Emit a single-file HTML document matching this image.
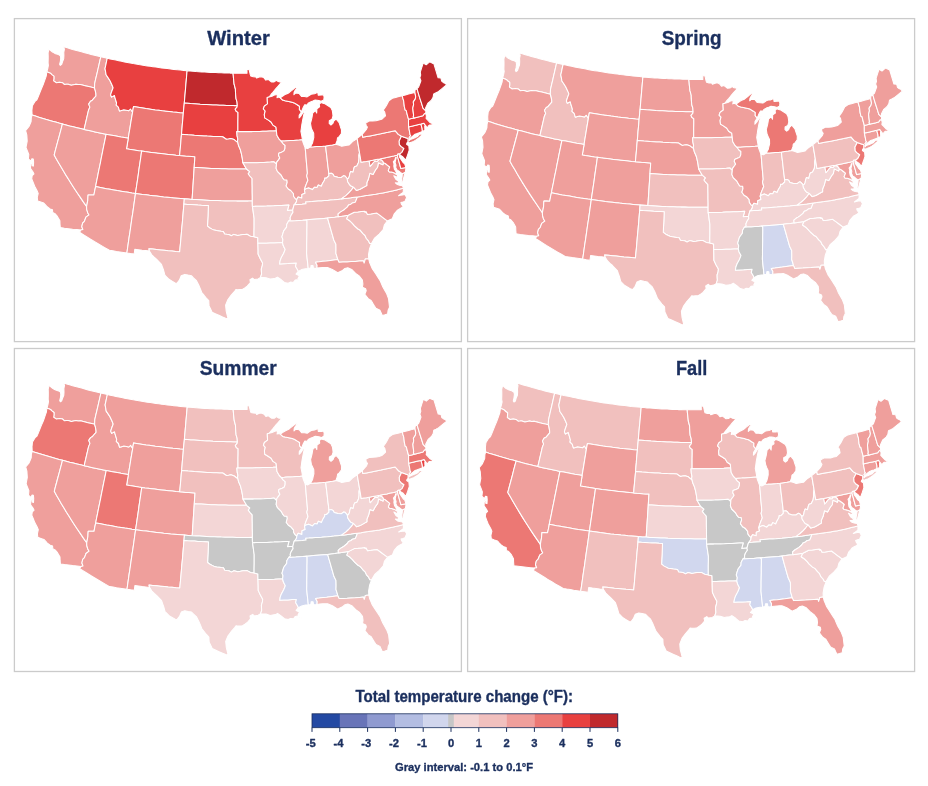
<!DOCTYPE html>
<html lang="en"><head><meta charset="utf-8"><title>Seasonal temperature change</title>
<style>
html,body{margin:0;padding:0;background:#fff}
body{width:928px;height:786px;overflow:hidden;font-family:"Liberation Sans",sans-serif}
svg{display:block}
.st path{stroke:#fff;stroke-width:1.05;stroke-linejoin:round}
.t{font-family:"Liberation Sans",sans-serif;font-weight:bold;fill:#1b2f5e;stroke:#1b2f5e;stroke-width:0.35;stroke-linejoin:round}
</style></head><body>
<svg width="928" height="786" viewBox="0 0 928 786">
<rect width="928" height="786" fill="#fff"/>

<rect x="14.4" y="18.6" width="447" height="323" fill="#fff" stroke="#cbcbcb" stroke-width="1.3"/>
<g class="st">
<path d="M63.6,46.7L66.6,47.6L69.5,48.5L72.5,49.4L75.5,50.2L78.5,51.0L81.5,51.8L84.7,52.7L87.9,53.6L91.1,54.4L94.4,55.2L97.6,56.0L100.8,56.8L99.8,61.2L98.8,65.6L97.8,70.0L96.8,74.4L95.7,78.9L94.7,83.3L94.5,88.0L91.7,87.3L88.8,86.6L86.0,85.9L83.2,85.2L80.3,84.5L78.0,84.6L75.9,84.2L73.6,84.7L71.2,85.2L68.2,84.2L66.3,84.3L64.4,84.5L62.4,82.7L59.5,82.3L56.4,82.8L53.6,80.9L53.9,78.7L53.9,76.2L52.1,74.8L50.4,73.2L48.6,72.5L46.8,71.8L47.8,68.5L48.4,65.3L48.1,63.0L48.2,58.5L48.2,55.7L48.1,52.9L49.0,49.0L50.7,50.6L52.5,52.1L54.0,52.9L55.6,53.7L58.5,54.6L60.3,55.7L60.7,58.0L60.4,61.2L59.6,64.3L60.3,65.4L61.7,64.4L62.5,61.9L63.7,58.9L63.9,55.6L63.8,52.3L64.4,49.2Z" fill="#ef9f9c"/>
<path d="M46.8,71.8L48.6,72.5L50.4,73.2L52.1,74.8L53.9,76.2L53.9,78.7L53.6,80.9L56.4,82.8L59.5,82.3L62.4,82.7L64.4,84.5L66.3,84.3L68.2,84.2L71.2,85.2L73.6,84.7L75.9,84.2L78.0,84.6L80.3,84.5L83.2,85.2L86.0,85.9L88.8,86.6L91.7,87.3L94.5,88.0L95.2,90.3L95.9,93.7L96.0,96.0L93.6,98.7L92.1,100.5L90.5,101.3L88.7,104.1L89.4,105.9L89.9,107.1L88.5,110.3L87.4,115.1L86.3,119.9L85.2,124.6L84.1,129.4L80.5,128.5L76.9,127.7L73.2,126.8L69.6,125.9L66.0,124.9L62.4,124.0L59.0,123.1L55.6,122.1L52.3,121.2L48.9,120.2L45.5,119.2L42.1,118.2L38.8,117.2L35.4,116.1L32.1,115.1L31.9,110.5L32.4,105.7L35.0,101.4L36.9,99.8L38.0,97.3L39.0,94.8L40.2,91.8L41.4,88.8L43.1,84.9L44.0,82.4L44.9,79.8L46.3,75.8Z" fill="#ec7874"/>
<path d="M32.1,115.1L35.4,116.1L38.8,117.2L42.1,118.2L45.5,119.2L48.9,120.2L52.3,121.2L55.6,122.1L59.0,123.1L62.4,124.0L61.3,128.4L60.1,132.8L58.9,137.3L57.7,141.7L56.5,146.2L55.3,150.6L54.2,155.0L56.5,159.2L59.0,163.4L61.4,167.6L63.9,171.7L66.4,175.9L69.0,180.0L71.6,184.2L74.5,188.7L77.5,193.2L80.5,197.6L83.5,202.1L86.6,206.5L86.7,209.3L87.7,212.7L89.0,214.9L85.9,217.2L84.4,221.3L82.6,223.1L81.8,226.7L82.9,229.6L80.9,230.1L76.8,229.6L72.6,229.2L68.5,228.7L64.4,228.2L60.3,227.6L60.0,224.1L59.9,220.8L57.4,216.4L55.0,213.6L52.7,212.5L52.5,209.7L50.1,208.9L47.2,206.8L45.5,204.9L43.8,203.1L40.8,202.1L37.7,201.0L37.3,197.5L38.2,193.4L37.1,190.7L34.7,186.3L33.2,182.5L31.7,178.8L32.2,175.6L34.0,173.9L32.9,171.8L30.5,168.4L30.7,165.1L31.4,162.2L32.2,162.8L32.1,165.8L33.4,166.1L33.6,162.1L33.3,159.0L31.9,158.8L30.8,161.2L28.4,158.8L28.8,154.5L27.4,151.0L26.0,147.5L26.6,144.3L27.2,141.1L27.0,137.9L26.8,134.8L25.6,130.6L29.0,126.5L30.1,124.0L31.1,121.5L31.3,117.7Z" fill="#ef9f9c"/>
<path d="M62.4,124.0L66.0,124.9L69.6,125.9L73.2,126.8L76.9,127.7L80.5,128.5L84.1,129.4L87.8,130.3L91.4,131.1L95.1,131.9L98.8,132.7L102.4,133.4L106.1,134.2L105.2,138.9L104.2,143.7L103.2,148.5L102.3,153.2L101.3,158.0L100.4,162.8L99.4,167.5L98.4,172.3L97.5,177.1L96.5,181.8L95.6,186.6L94.7,190.8L93.9,195.0L91.0,194.9L88.1,194.9L87.9,197.6L87.8,200.2L87.2,203.4L86.6,206.5L83.5,202.1L80.5,197.6L77.5,193.2L74.5,188.7L71.6,184.2L69.0,180.0L66.4,175.9L63.9,171.7L61.4,167.6L59.0,163.4L56.5,159.2L54.2,155.0L55.3,150.6L56.5,146.2L57.7,141.7L58.9,137.3L60.1,132.8L61.3,128.4Z" fill="#ef9f9c"/>
<path d="M100.8,56.8L104.1,57.5L107.3,58.2L106.5,61.7L105.8,65.1L105.0,68.6L105.6,71.7L106.1,74.8L108.0,77.6L109.9,80.5L111.9,84.7L113.1,87.7L111.6,91.7L110.6,94.8L111.5,97.1L114.4,95.5L115.0,97.8L116.6,103.0L116.2,105.1L118.4,107.2L119.5,111.0L121.6,110.4L123.8,109.8L126.3,110.2L128.8,110.7L130.5,109.0L132.6,112.2L131.7,117.4L130.8,122.6L130.0,127.8L129.1,133.0L128.3,138.2L124.6,137.6L120.9,137.0L117.2,136.3L113.5,135.6L109.8,134.9L106.1,134.2L102.4,133.4L98.8,132.7L95.1,131.9L91.4,131.1L87.8,130.3L84.1,129.4L85.2,124.6L86.3,119.9L87.4,115.1L88.5,110.3L89.9,107.1L89.4,105.9L88.7,104.1L90.5,101.3L92.1,100.5L93.6,98.7L96.0,96.0L95.9,93.7L95.2,90.3L94.5,88.0L94.7,83.3L95.7,78.9L96.8,74.4L97.8,70.0L98.8,65.6L99.8,61.2Z" fill="#ef9f9c"/>
<path d="M107.3,58.2L110.1,58.9L113.0,59.5L115.9,60.1L118.8,60.7L121.6,61.3L124.5,61.9L127.4,62.4L130.2,62.9L133.1,63.5L135.9,64.0L138.8,64.5L141.6,64.9L144.5,65.4L147.3,65.9L150.2,66.3L153.0,66.7L155.9,67.1L158.8,67.5L161.6,67.9L164.5,68.3L167.3,68.6L170.6,69.0L173.9,69.4L177.2,69.8L180.5,70.1L183.8,70.4L187.1,70.7L186.7,75.3L186.3,79.9L185.9,84.5L185.5,89.2L185.1,93.8L184.7,98.4L184.3,103.0L183.8,108.0L183.3,113.0L179.8,112.7L176.3,112.3L172.8,112.0L169.2,111.6L165.7,111.2L162.2,110.8L158.7,110.3L155.2,109.9L152.1,109.4L149.0,109.0L145.9,108.6L142.8,108.1L139.7,107.6L136.6,107.1L133.5,106.6L133.0,109.4L132.6,112.2L130.5,109.0L128.8,110.7L126.3,110.2L123.8,109.8L121.6,110.4L119.5,111.0L118.4,107.2L116.2,105.1L116.6,103.0L115.0,97.8L114.4,95.5L111.5,97.1L110.6,94.8L111.6,91.7L113.1,87.7L111.9,84.7L109.9,80.5L108.0,77.6L106.1,74.8L105.6,71.7L105.0,68.6L105.8,65.1L106.5,61.7Z" fill="#e84040"/>
<path d="M132.6,112.2L133.0,109.4L133.5,106.6L136.6,107.1L139.7,107.6L142.8,108.1L145.9,108.6L149.0,109.0L152.1,109.4L155.2,109.9L158.7,110.3L162.2,110.8L165.7,111.2L169.2,111.6L172.8,112.0L176.3,112.3L179.8,112.7L183.3,113.0L183.0,117.2L182.6,121.5L182.2,125.7L181.9,130.0L181.5,134.3L181.1,138.5L180.8,142.8L180.4,147.0L180.0,151.3L179.6,155.5L175.9,155.2L172.2,154.8L168.4,154.4L164.7,154.0L161.0,153.6L157.8,153.2L154.5,152.8L151.3,152.4L148.1,152.0L144.9,151.6L141.6,151.1L138.6,150.7L135.6,150.2L132.6,149.7L129.5,149.3L126.5,148.8L127.1,145.3L127.7,141.7L128.3,138.2L129.1,133.0L130.0,127.8L130.8,122.6L131.7,117.4Z" fill="#ec7874"/>
<path d="M106.1,134.2L109.8,134.9L113.5,135.6L117.2,136.3L120.9,137.0L124.6,137.6L128.3,138.2L127.7,141.7L127.1,145.3L126.5,148.8L129.5,149.3L132.6,149.7L135.6,150.2L138.6,150.7L141.6,151.1L141.0,155.8L140.3,160.5L139.6,165.2L138.9,169.9L138.3,174.6L137.6,179.3L136.9,184.0L136.2,188.7L135.5,193.4L131.9,192.9L128.2,192.3L124.6,191.8L121.0,191.2L117.3,190.6L113.7,189.9L110.1,189.3L106.4,188.7L102.8,188.0L99.2,187.3L95.6,186.6L96.5,181.8L97.5,177.1L98.4,172.3L99.4,167.5L100.4,162.8L101.3,158.0L102.3,153.2L103.2,148.5L104.2,143.7L105.2,138.9Z" fill="#ec7874"/>
<path d="M141.6,151.1L144.9,151.6L148.1,152.0L151.3,152.4L154.5,152.8L157.8,153.2L161.0,153.6L164.7,154.0L168.4,154.4L172.2,154.8L175.9,155.2L179.6,155.5L182.7,155.8L185.7,156.1L188.8,156.3L191.8,156.5L194.9,156.7L194.7,160.3L194.4,163.8L194.2,167.4L193.9,172.0L193.6,176.5L193.3,181.1L193.0,185.7L192.7,190.2L192.4,194.8L192.1,199.4L188.2,199.1L184.3,198.8L180.9,198.5L177.4,198.2L173.9,197.9L170.5,197.6L167.0,197.2L163.6,196.9L160.1,196.5L156.6,196.1L153.1,195.7L149.6,195.3L146.1,194.8L142.5,194.4L139.0,193.9L135.5,193.4L136.2,188.7L136.9,184.0L137.6,179.3L138.3,174.6L138.9,169.9L139.6,165.2L140.3,160.5L141.0,155.8Z" fill="#ec7874"/>
<path d="M95.6,186.6L99.2,187.3L102.8,188.0L106.4,188.7L110.1,189.3L113.7,189.9L117.3,190.6L121.0,191.2L124.6,191.8L128.2,192.3L131.9,192.9L135.5,193.4L134.8,198.4L134.1,203.4L133.4,208.4L132.7,213.3L131.9,218.3L131.2,223.3L130.5,228.2L129.8,233.2L129.0,238.1L128.3,243.1L127.6,248.0L126.9,252.9L123.4,252.4L119.9,251.9L116.4,251.4L112.9,250.8L109.4,250.3L105.6,248.1L101.8,245.9L98.1,243.7L94.3,241.4L90.6,239.2L87.0,236.9L83.3,234.6L79.6,232.3L80.9,230.1L82.9,229.6L81.8,226.7L82.6,223.1L84.4,221.3L85.9,217.2L89.0,214.9L87.7,212.7L86.7,209.3L86.6,206.5L87.2,203.4L87.8,200.2L87.9,197.6L88.1,194.9L91.0,194.9L93.9,195.0L94.7,190.8Z" fill="#ef9f9c"/>
<path d="M135.5,193.4L139.0,193.9L142.5,194.4L146.1,194.8L149.6,195.3L153.1,195.7L156.6,196.1L160.1,196.5L163.6,196.9L167.0,197.2L170.5,197.6L173.9,197.9L177.4,198.2L180.9,198.5L184.3,198.8L184.1,201.4L183.9,204.1L183.5,208.9L183.1,213.6L182.7,218.4L182.3,223.2L181.8,227.9L181.4,232.7L181.0,237.4L180.6,242.2L180.1,246.9L179.7,251.7L175.8,251.4L172.0,251.0L168.1,250.7L164.3,250.3L160.4,249.9L156.6,249.5L152.7,249.1L148.9,248.7L149.4,251.1L145.7,250.6L142.1,250.2L138.5,249.7L134.8,249.3L134.2,254.0L130.5,253.5L126.9,252.9L127.6,248.0L128.3,243.1L129.0,238.1L129.8,233.2L130.5,228.2L131.2,223.3L131.9,218.3L132.7,213.3L133.4,208.4L134.1,203.4L134.8,198.4Z" fill="#ef9f9c"/>
<path d="M187.1,70.7L190.0,71.0L193.0,71.2L195.9,71.5L198.8,71.7L201.8,71.9L204.7,72.1L207.6,72.2L210.3,72.4L213.0,72.5L215.7,72.6L218.4,72.7L221.1,72.8L224.1,72.9L227.1,73.0L230.0,73.1L233.0,73.1L233.3,75.8L233.5,78.4L233.8,81.3L234.1,84.2L235.4,89.0L235.5,92.2L235.7,95.4L236.0,98.6L237.0,101.8L237.3,105.6L233.8,105.6L230.3,105.5L226.8,105.4L223.4,105.3L219.9,105.2L216.4,105.1L212.9,105.0L209.7,104.8L206.5,104.6L203.4,104.5L200.2,104.3L197.0,104.0L193.8,103.8L190.6,103.6L187.5,103.3L184.3,103.0L184.7,98.4L185.1,93.8L185.5,89.2L185.9,84.5L186.3,79.9L186.7,75.3Z" fill="#c0292d"/>
<path d="M184.3,103.0L187.5,103.3L190.6,103.6L193.8,103.8L197.0,104.0L200.2,104.3L203.4,104.5L206.5,104.6L209.7,104.8L212.9,105.0L216.4,105.1L219.9,105.2L223.4,105.3L226.8,105.4L230.3,105.5L233.8,105.6L237.3,105.6L237.0,107.1L235.2,109.2L236.2,111.3L238.0,112.4L238.0,117.2L237.9,122.0L237.9,126.8L237.9,131.6L236.8,131.6L237.1,135.9L237.8,139.1L237.4,141.2L237.8,142.4L236.0,141.2L234.1,139.6L230.8,138.5L228.5,138.9L226.3,139.2L224.5,138.0L222.6,136.7L219.5,136.6L216.5,136.5L213.4,136.4L210.3,136.2L207.2,136.1L204.1,135.9L200.9,135.7L197.6,135.5L194.4,135.3L191.2,135.0L188.0,134.8L184.7,134.5L181.5,134.3L181.9,130.0L182.2,125.7L182.6,121.5L183.0,117.2L183.3,113.0L183.8,108.0Z" fill="#e84040"/>
<path d="M181.5,134.3L184.7,134.5L188.0,134.8L191.2,135.0L194.4,135.3L197.6,135.5L200.9,135.7L204.1,135.9L207.2,136.1L210.3,136.2L213.4,136.4L216.5,136.5L219.5,136.6L222.6,136.7L224.5,138.0L226.3,139.2L228.5,138.9L230.8,138.5L234.1,139.6L236.0,141.2L237.8,142.4L238.5,145.5L240.4,149.8L241.1,152.5L241.7,155.1L242.3,158.4L242.7,161.6L242.9,162.8L244.6,165.8L246.5,169.0L243.0,169.0L239.4,169.0L235.9,169.0L232.3,169.0L228.8,168.9L225.3,168.8L221.7,168.7L218.3,168.6L214.8,168.5L211.4,168.4L208.0,168.2L204.5,168.0L201.1,167.8L197.6,167.6L194.2,167.4L194.4,163.8L194.7,160.3L194.9,156.7L191.8,156.5L188.8,156.3L185.7,156.1L182.7,155.8L179.6,155.5L180.0,151.3L180.4,147.0L180.8,142.8L181.1,138.5Z" fill="#ec7874"/>
<path d="M194.2,167.4L197.6,167.6L201.1,167.8L204.5,168.0L208.0,168.2L211.4,168.4L214.8,168.5L218.3,168.6L221.7,168.7L225.3,168.8L228.8,168.9L232.3,169.0L235.9,169.0L239.4,169.0L243.0,169.0L246.5,169.0L249.7,171.7L248.2,173.8L249.8,176.0L252.1,178.5L252.1,183.0L252.2,187.5L252.2,192.0L252.3,196.5L252.3,201.0L248.4,201.1L244.5,201.1L240.6,201.1L236.6,201.1L232.7,201.0L228.8,200.9L224.9,200.9L221.2,200.8L217.6,200.6L214.0,200.5L210.3,200.4L206.7,200.2L203.0,200.0L199.4,199.8L195.8,199.6L192.1,199.4L192.4,194.8L192.7,190.2L193.0,185.7L193.3,181.1L193.6,176.5L193.9,172.0Z" fill="#ef9f9c"/>
<path d="M184.3,198.8L188.2,199.1L192.1,199.4L195.8,199.6L199.4,199.8L203.0,200.0L206.7,200.2L210.3,200.4L214.0,200.5L217.6,200.6L221.2,200.8L224.9,200.9L228.8,200.9L232.7,201.0L236.6,201.1L240.6,201.1L244.5,201.1L248.4,201.1L252.3,201.0L252.3,203.7L252.4,206.4L253.0,210.3L253.5,214.2L254.1,218.2L254.1,222.8L254.1,227.5L254.0,232.1L254.0,236.8L250.4,236.2L247.0,234.3L244.9,234.4L242.8,234.5L240.2,235.0L237.7,235.4L233.9,234.4L231.3,235.8L228.8,234.5L226.7,234.3L224.6,234.0L223.3,231.5L221.2,231.3L219.1,231.0L216.6,230.6L214.1,230.1L212.0,229.1L209.9,228.0L207.5,226.2L207.7,221.1L208.0,215.9L208.2,210.8L208.4,205.6L204.9,205.4L201.4,205.3L197.9,205.1L194.4,204.8L190.9,204.6L187.4,204.4L183.9,204.1L184.1,201.4Z" fill="#f1c0be"/>
<path d="M183.9,204.1L187.4,204.4L190.9,204.6L194.4,204.8L197.9,205.1L201.4,205.3L204.9,205.4L208.4,205.6L208.2,210.8L208.0,215.9L207.7,221.1L207.5,226.2L209.9,228.0L212.0,229.1L214.1,230.1L216.6,230.6L219.1,231.0L221.2,231.3L223.3,231.5L224.6,234.0L226.7,234.3L228.8,234.5L231.3,235.8L233.9,234.4L237.7,235.4L240.2,235.0L242.8,234.5L244.9,234.4L247.0,234.3L250.4,236.2L254.0,236.8L257.8,237.7L257.8,240.5L257.9,243.3L258.0,246.9L258.1,250.5L258.1,254.1L260.3,258.8L262.6,262.9L262.3,265.6L261.3,268.8L261.4,271.4L261.6,274.0L260.5,277.4L258.0,278.9L254.2,279.6L252.6,278.1L249.9,279.7L250.4,282.5L247.2,286.2L244.8,287.9L242.4,289.5L239.9,289.6L237.4,289.7L235.9,289.5L234.8,291.1L231.0,295.4L227.8,299.8L226.7,302.5L225.6,305.1L225.9,308.1L226.2,311.1L227.1,314.9L228.1,318.8L225.6,318.3L222.5,316.9L219.5,315.6L215.8,313.9L212.1,312.2L210.6,309.0L209.1,305.9L208.9,303.3L208.8,300.7L206.1,297.9L204.0,295.2L201.8,292.5L200.4,289.0L199.0,285.6L196.5,280.7L193.5,277.9L191.4,275.7L188.1,275.1L184.7,274.4L181.2,275.8L179.4,280.1L176.9,283.3L175.1,282.9L172.0,281.1L169.0,279.3L166.0,276.3L164.9,275.2L163.6,270.3L162.5,267.3L161.5,264.3L159.1,261.8L156.7,259.3L154.2,257.1L151.8,254.8L149.4,251.1L148.9,248.7L152.7,249.1L156.6,249.5L160.4,249.9L164.3,250.3L168.1,250.7L172.0,251.0L175.8,251.4L179.7,251.7L180.1,246.9L180.6,242.2L181.0,237.4L181.4,232.7L181.8,227.9L182.3,223.2L182.7,218.4L183.1,213.6L183.5,208.9Z" fill="#f1c0be"/>
<path d="M233.0,73.1L235.8,73.2L238.6,73.2L241.4,73.2L244.2,73.2L247.0,73.2L247.0,69.2L249.2,69.8L250.2,74.4L250.8,76.1L253.2,76.7L255.9,76.9L256.6,78.1L258.6,77.2L260.3,76.7L262.0,76.9L264.0,77.9L265.8,80.1L268.2,79.4L269.9,80.7L271.7,82.0L274.1,81.9L276.4,80.3L278.2,81.6L279.9,81.9L281.6,82.2L279.7,84.3L277.8,86.5L276.1,88.4L274.5,90.4L272.9,92.3L271.2,94.2L269.1,97.0L267.2,97.5L267.3,100.6L267.5,103.8L264.3,106.2L263.3,108.9L265.2,111.0L264.3,114.5L264.7,117.9L268.0,119.9L271.0,122.0L272.9,125.1L276.0,127.1L276.4,130.8L273.0,131.0L269.6,131.1L266.1,131.2L262.7,131.3L259.3,131.4L255.9,131.5L252.3,131.6L248.7,131.6L245.1,131.6L241.5,131.6L237.9,131.6L237.9,126.8L237.9,122.0L238.0,117.2L238.0,112.4L236.2,111.3L235.2,109.2L237.0,107.1L237.3,105.6L237.0,101.8L236.0,98.6L235.7,95.4L235.5,92.2L235.4,89.0L234.1,84.2L233.8,81.3L233.5,78.4L233.3,75.8Z" fill="#e84040"/>
<path d="M237.9,131.6L241.5,131.6L245.1,131.6L248.7,131.6L252.3,131.6L255.9,131.5L259.3,131.4L262.7,131.3L266.1,131.2L269.6,131.1L273.0,131.0L276.4,130.8L276.9,135.3L279.2,139.2L281.2,141.1L283.2,143.8L285.1,145.3L285.0,148.5L284.0,150.9L282.1,151.9L278.8,153.2L278.5,155.3L279.8,157.9L278.7,159.6L276.6,162.4L276.5,164.2L274.0,161.8L270.6,162.1L267.2,162.3L263.8,162.5L260.4,162.6L256.9,162.7L253.4,162.8L249.9,162.8L246.4,162.8L242.9,162.8L242.7,161.6L242.3,158.4L241.7,155.1L241.1,152.5L240.4,149.8L238.5,145.5L237.8,142.4L237.4,141.2L237.8,139.1L237.1,135.9L236.8,131.6Z" fill="#ef9f9c"/>
<path d="M242.9,162.8L246.4,162.8L249.9,162.8L253.4,162.8L256.9,162.7L260.4,162.6L263.8,162.5L267.2,162.3L270.6,162.1L274.0,161.8L276.5,164.2L276.1,168.3L277.4,171.4L281.1,175.0L282.8,178.1L284.1,179.7L286.9,180.0L287.2,182.4L286.1,186.0L288.3,189.0L290.8,190.5L293.4,193.5L293.6,196.2L295.4,198.8L296.8,199.4L296.4,201.9L295.3,203.6L294.2,204.7L293.5,206.9L292.7,210.2L290.0,210.3L287.4,210.5L288.1,207.8L288.9,205.1L285.1,205.3L281.3,205.5L277.6,205.6L273.8,205.8L270.2,205.9L266.7,206.1L263.1,206.2L259.5,206.2L256.0,206.3L252.4,206.4L252.3,203.7L252.3,201.0L252.3,196.5L252.2,192.0L252.2,187.5L252.1,183.0L252.1,178.5L249.8,176.0L248.2,173.8L249.7,171.7L246.5,169.0L244.6,165.8Z" fill="#f1c0be"/>
<path d="M252.4,206.4L256.0,206.3L259.5,206.2L263.1,206.2L266.7,206.1L270.2,205.9L273.8,205.8L277.6,205.6L281.3,205.5L285.1,205.3L288.9,205.1L288.1,207.8L287.4,210.5L290.0,210.3L292.7,210.2L293.0,212.3L291.2,215.1L290.1,217.8L290.4,219.6L288.6,221.1L286.7,224.4L286.6,227.1L283.7,230.9L282.7,234.2L281.9,236.9L282.9,239.5L282.5,242.7L278.4,242.8L274.3,243.0L270.2,243.1L266.1,243.2L262.0,243.2L257.9,243.3L257.8,240.5L257.8,237.7L254.0,236.8L254.0,232.1L254.1,227.5L254.1,222.8L254.1,218.2L253.5,214.2L253.0,210.3Z" fill="#f3d6d6"/>
<path d="M257.9,243.3L262.0,243.2L266.1,243.2L270.2,243.1L274.3,243.0L278.4,242.8L282.5,242.7L283.3,245.8L285.2,249.4L283.7,253.2L281.3,257.6L280.1,260.8L279.6,264.0L283.8,263.8L287.9,263.6L292.1,263.3L296.3,263.1L295.5,266.3L297.4,269.4L298.3,271.4L296.0,274.1L299.4,275.7L297.9,278.7L302.4,282.4L299.8,281.1L297.2,279.8L295.2,280.1L293.4,282.4L290.4,282.1L288.1,283.2L284.4,282.4L281.3,279.8L277.5,277.1L275.3,278.3L272.6,278.7L270.0,279.1L266.0,277.8L263.3,277.6L260.5,277.4L261.6,274.0L261.4,271.4L261.3,268.8L262.3,265.6L262.6,262.9L260.3,258.8L258.1,254.1L258.1,250.5L258.0,246.9Z" fill="#f3d6d6"/>
<path d="M269.1,97.0L272.0,96.3L274.7,94.9L277.5,94.4L277.0,97.7L278.0,97.1L280.3,97.8L282.6,100.1L285.0,100.7L287.5,101.2L289.9,101.7L292.1,102.3L294.2,102.9L297.2,104.8L299.5,106.2L299.4,109.4L301.4,111.9L299.2,115.3L299.1,118.0L300.7,116.3L303.3,112.3L305.5,109.9L303.8,114.4L302.8,119.3L302.3,122.0L301.8,124.8L301.4,128.0L300.9,131.3L301.5,134.4L302.0,137.1L302.4,139.8L299.4,140.1L296.4,140.3L293.4,140.5L290.4,140.6L287.3,140.8L284.3,141.0L281.2,141.1L279.2,139.2L276.9,135.3L276.4,130.8L276.0,127.1L272.9,125.1L271.0,122.0L268.0,119.9L264.7,117.9L264.3,114.5L265.2,111.0L263.3,108.9L264.3,106.2L267.5,103.8L267.3,100.6L267.2,97.5Z" fill="#e84040"/>
<path d="M281.2,141.1L284.3,141.0L287.3,140.8L290.4,140.6L293.4,140.5L296.4,140.3L299.4,140.1L302.4,139.8L303.0,142.4L304.4,146.0L305.2,148.0L305.7,153.0L306.1,158.0L306.5,163.1L307.0,168.1L307.4,173.1L306.7,175.9L307.9,180.3L306.6,183.4L305.3,186.7L304.4,190.0L305.1,193.2L301.9,194.5L301.8,198.1L298.1,197.0L296.8,199.4L295.4,198.8L293.6,196.2L293.4,193.5L290.8,190.5L288.3,189.0L286.1,186.0L287.2,182.4L286.9,180.0L284.1,179.7L282.8,178.1L281.1,175.0L277.4,171.4L276.1,168.3L276.5,164.2L276.6,162.4L278.7,159.6L279.8,157.9L278.5,155.3L278.8,153.2L282.1,151.9L284.0,150.9L285.0,148.5L285.1,145.3L283.2,143.8Z" fill="#ef9f9c"/>
<path d="M305.2,148.0L307.7,148.6L310.4,146.9L313.5,146.8L316.5,146.6L319.5,146.4L322.6,146.2L325.6,145.9L326.1,150.6L326.7,155.2L327.2,159.8L327.7,164.4L328.3,169.0L328.8,173.6L328.9,175.8L326.4,178.2L324.8,178.1L324.6,180.0L322.6,183.3L321.3,186.3L318.3,185.0L317.0,187.6L314.6,187.2L312.4,189.6L308.6,187.9L305.9,188.8L304.4,190.0L305.3,186.7L306.6,183.4L307.9,180.3L306.7,175.9L307.4,173.1L307.0,168.1L306.5,163.1L306.1,158.0L305.7,153.0Z" fill="#ef9f9c"/>
<path d="M325.6,145.9L329.0,145.4L332.4,144.9L335.7,144.3L339.3,145.2L341.7,146.2L344.3,145.7L346.9,145.2L349.2,144.9L350.8,143.3L352.5,141.6L354.8,140.0L357.1,138.4L357.9,143.1L358.7,147.8L359.5,152.6L358.9,155.3L359.0,158.8L358.5,162.4L356.8,165.9L354.5,166.8L353.9,168.3L353.0,172.2L350.6,171.4L349.7,174.1L349.3,176.5L348.3,178.4L347.2,178.5L344.8,175.9L343.6,175.7L341.4,177.4L337.8,177.3L334.1,176.2L333.0,174.2L331.3,173.3L328.8,173.6L328.3,169.0L327.7,164.4L327.2,159.8L326.7,155.2L326.1,150.6Z" fill="#ef9f9c"/>
<path d="M335.7,144.3L337.1,140.7L337.5,137.9L339.2,136.6L341.4,133.6L341.5,129.8L340.4,126.7L339.1,122.6L336.0,119.0L333.7,121.2L332.9,123.4L330.9,125.0L329.2,123.4L329.3,120.7L332.0,119.2L333.0,115.9L332.7,113.2L332.3,110.6L330.8,107.5L327.3,105.3L325.0,103.8L323.0,103.2L321.0,102.6L319.3,104.2L319.6,106.8L316.9,108.7L316.7,113.1L315.3,110.5L312.7,113.0L312.3,115.7L311.8,118.4L310.5,123.4L311.3,128.1L312.5,130.7L313.7,133.3L313.8,137.6L313.1,140.3L312.5,143.1L310.4,146.9L313.5,146.8L316.5,146.6L319.5,146.4L322.6,146.2L325.6,145.9L329.0,145.4L332.4,144.9Z" fill="#e84040"/>
<path d="M301.4,111.9L303.2,107.5L304.7,104.7L307.2,104.9L308.1,103.2L310.5,101.9L312.9,101.0L315.2,100.0L317.0,100.2L318.8,100.5L321.1,101.3L323.8,99.9L324.1,97.1L323.5,94.7L321.4,95.1L318.2,95.2L317.9,92.3L316.2,93.0L314.5,93.7L312.8,93.9L311.1,94.2L309.1,95.5L307.1,96.9L304.3,96.5L301.5,96.4L299.1,93.4L297.3,93.2L295.6,93.0L293.9,94.6L294.1,92.2L295.3,90.0L297.9,87.1L295.1,87.7L293.5,89.0L291.9,90.3L290.2,91.6L288.6,93.0L286.5,93.9L284.5,94.9L282.4,96.3L280.3,97.8L282.6,100.1L285.0,100.7L287.5,101.2L289.9,101.7L292.1,102.3L294.2,102.9L297.2,104.8L299.5,106.2L299.4,109.4Z" fill="#e84040"/>
<path d="M296.8,199.4L298.1,197.0L301.8,198.1L301.9,194.5L305.1,193.2L304.4,190.0L305.9,188.8L308.6,187.9L312.4,189.6L314.6,187.2L317.0,187.6L318.3,185.0L321.3,186.3L322.6,183.3L324.6,180.0L324.8,178.1L326.4,178.2L328.9,175.8L328.8,173.6L331.3,173.3L333.0,174.2L334.1,176.2L337.8,177.3L341.4,177.4L343.6,175.7L344.8,175.9L347.2,178.5L347.6,181.4L349.1,183.9L350.6,185.8L353.5,187.2L351.3,190.1L348.5,193.2L345.6,195.8L343.4,197.4L341.3,199.0L337.7,199.4L334.1,199.8L330.6,200.1L327.5,200.4L324.5,200.6L321.4,200.9L318.4,201.1L315.2,201.3L312.0,201.6L308.8,201.8L305.6,201.9L306.0,203.8L302.1,204.2L298.2,204.4L294.2,204.7L295.3,203.6L296.4,201.9Z" fill="#f1c0be"/>
<path d="M294.2,204.7L298.2,204.4L302.1,204.2L306.0,203.8L305.6,201.9L308.8,201.8L312.0,201.6L315.2,201.3L318.4,201.1L321.4,200.9L324.5,200.6L327.5,200.4L330.6,200.1L334.1,199.8L337.7,199.4L341.3,199.0L344.5,198.6L347.7,198.2L350.9,197.8L354.2,197.3L357.4,196.9L356.1,200.2L355.2,202.3L352.4,202.9L350.9,204.2L348.5,205.1L347.2,207.2L344.2,209.7L342.3,210.9L340.3,212.1L338.1,214.0L338.3,216.7L334.7,217.2L331.2,217.6L327.6,218.1L324.0,218.4L320.4,218.7L316.9,219.0L313.3,219.3L309.7,219.6L306.1,219.9L302.6,220.2L299.1,220.4L295.6,220.7L292.1,220.9L288.6,221.1L290.4,219.6L290.1,217.8L291.2,215.1L293.0,212.3L292.7,210.2L293.5,206.9Z" fill="#f1c0be"/>
<path d="M288.6,221.1L292.1,220.9L295.6,220.7L299.1,220.4L302.6,220.2L306.1,219.9L307.0,220.9L307.0,225.5L306.9,230.1L306.9,234.6L306.8,239.2L306.7,243.8L306.7,248.4L306.6,253.0L307.1,258.2L307.7,263.4L308.2,268.6L305.4,268.8L301.6,269.6L298.3,271.4L297.4,269.4L295.5,266.3L296.3,263.1L292.1,263.3L287.9,263.6L283.8,263.8L279.6,264.0L280.1,260.8L281.3,257.6L283.7,253.2L285.2,249.4L283.3,245.8L282.5,242.7L282.9,239.5L281.9,236.9L282.7,234.2L283.7,230.9L286.6,227.1L286.7,224.4Z" fill="#f3d6d6"/>
<path d="M306.1,219.9L309.7,219.6L313.3,219.3L316.9,219.0L320.4,218.7L324.0,218.4L327.6,218.1L328.8,222.5L330.1,226.8L331.3,231.2L332.6,235.6L333.8,240.0L335.9,244.2L336.0,249.0L335.9,253.3L336.9,256.3L337.7,259.4L334.0,259.9L330.3,260.4L326.6,260.9L322.9,261.3L319.2,261.8L315.5,262.2L317.1,265.2L316.9,268.1L315.3,268.5L313.4,268.1L313.0,265.5L311.1,265.4L310.7,268.1L308.2,268.6L307.7,263.4L307.1,258.2L306.6,253.0L306.7,248.4L306.7,243.8L306.8,239.2L306.9,234.6L306.9,230.1L307.0,225.5L307.0,220.9Z" fill="#f3d6d6"/>
<path d="M327.6,218.1L331.2,217.6L334.7,217.2L338.3,216.7L341.6,216.3L344.9,215.8L348.2,215.3L346.7,218.8L350.0,221.0L352.4,223.4L354.5,225.8L358.0,229.0L360.3,230.3L363.0,233.7L365.0,235.5L366.4,238.5L368.5,240.9L369.8,243.4L371.5,243.4L369.5,249.0L369.0,251.9L368.5,254.7L368.7,258.7L365.2,259.1L364.9,260.7L364.1,263.1L363.4,260.8L359.3,261.1L355.2,261.4L351.2,261.6L347.1,261.9L343.0,262.1L339.0,262.3L337.7,259.4L336.9,256.3L335.9,253.3L336.0,249.0L335.9,244.2L333.8,240.0L332.6,235.6L331.3,231.2L330.1,226.8L328.8,222.5Z" fill="#f1c0be"/>
<path d="M316.9,268.1L317.1,265.2L315.5,262.2L319.2,261.8L322.9,261.3L326.6,260.9L330.3,260.4L334.0,259.9L337.7,259.4L339.0,262.3L343.0,262.1L347.1,261.9L351.2,261.6L355.2,261.4L359.3,261.1L363.4,260.8L364.1,263.1L364.9,260.7L365.2,259.1L368.7,258.7L369.6,262.6L370.9,265.5L372.1,268.4L374.0,271.3L376.0,274.3L378.2,277.7L380.3,281.0L381.5,283.9L382.7,286.8L384.7,290.2L386.6,293.6L388.5,298.5L389.0,302.8L389.5,307.2L388.1,310.2L387.6,314.0L385.0,314.8L382.3,315.5L381.1,312.8L379.9,310.1L375.9,308.2L374.0,305.3L372.6,302.9L371.1,300.5L368.2,298.6L364.8,294.2L366.2,290.7L365.7,288.8L362.4,287.3L362.9,284.0L362.4,280.1L359.5,276.2L355.6,273.3L351.7,269.4L347.8,267.7L344.9,268.4L342.0,270.8L339.8,271.8L337.7,272.8L336.1,271.8L332.3,269.4L329.9,268.4L327.5,267.4L325.1,267.5L322.7,267.5L319.8,267.8Z" fill="#ef9f9c"/>
<path d="M348.2,215.3L351.2,213.8L354.2,212.3L357.8,212.0L361.3,211.6L364.9,211.3L365.1,212.3L366.0,211.6L367.5,214.4L370.7,214.0L373.8,213.5L376.9,213.1L380.4,215.7L383.9,218.3L387.4,220.9L384.3,225.0L383.2,229.5L381.2,231.8L379.2,234.1L376.9,236.1L374.6,238.1L371.5,243.4L369.8,243.4L368.5,240.9L366.4,238.5L365.0,235.5L363.0,233.7L360.3,230.3L358.0,229.0L354.5,225.8L352.4,223.4L350.0,221.0L346.7,218.8Z" fill="#f1c0be"/>
<path d="M338.3,216.7L338.1,214.0L340.3,212.1L342.3,210.9L344.2,209.7L347.2,207.2L348.5,205.1L350.9,204.2L352.4,202.9L355.2,202.3L356.1,200.2L357.4,196.9L361.0,196.4L364.7,195.8L368.3,195.3L372.0,194.7L375.6,194.2L379.3,193.6L382.9,192.9L386.3,192.2L389.8,191.4L393.2,190.7L396.6,189.9L400.0,189.1L403.4,188.3L403.2,192.3L400.9,194.0L398.6,195.7L400.3,195.2L402.6,194.9L404.9,194.6L406.6,197.4L404.9,201.5L402.9,202.1L400.9,202.6L401.5,204.3L403.2,206.6L401.5,207.8L399.5,208.9L397.5,210.1L395.8,212.1L394.1,214.1L392.3,218.7L389.9,219.8L387.4,220.9L383.9,218.3L380.4,215.7L376.9,213.1L373.8,213.5L370.7,214.0L367.5,214.4L366.0,211.6L365.1,212.3L364.9,211.3L361.3,211.6L357.8,212.0L354.2,212.3L351.2,213.8L348.2,215.3L344.9,215.8L341.6,216.3Z" fill="#ef9f9c"/>
<path d="M353.5,187.2L351.3,190.1L348.5,193.2L345.6,195.8L343.4,197.4L341.3,199.0L344.5,198.6L347.7,198.2L350.9,197.8L354.2,197.3L357.4,196.9L361.0,196.4L364.7,195.8L368.3,195.3L372.0,194.7L375.6,194.2L379.3,193.6L382.9,192.9L386.3,192.2L389.8,191.4L393.2,190.7L396.6,189.9L400.0,189.1L403.4,188.3L402.5,185.7L399.5,185.2L397.4,184.6L395.3,182.8L397.8,182.9L399.0,181.5L395.8,179.2L393.8,175.7L397.0,177.3L397.9,175.3L394.5,173.1L391.5,172.1L389.4,172.0L388.3,170.6L389.7,167.0L387.6,165.3L385.3,163.5L383.4,162.6L382.9,164.8L380.6,163.7L378.4,162.7L377.6,167.2L375.6,169.8L373.0,174.4L369.9,173.2L368.5,178.7L366.8,182.8L366.8,185.5L364.8,186.6L362.7,187.8L360.0,189.3L356.4,190.4Z" fill="#ef9f9c"/>
<path d="M402.3,173.7L402.1,176.4L401.6,179.3L401.3,182.1L401.8,183.1L402.8,181.2L403.7,177.8L404.8,173.7L405.3,172.1Z" fill="#ef9f9c"/>
<path d="M347.2,178.5L348.3,178.4L349.3,176.5L349.7,174.1L350.6,171.4L353.0,172.2L353.9,168.3L354.5,166.8L356.8,165.9L358.5,162.4L359.0,158.8L358.9,155.3L359.5,152.6L360.3,157.4L361.1,162.3L363.8,161.8L366.4,161.4L369.1,160.9L369.6,163.7L370.1,166.4L371.3,165.1L372.9,163.0L374.8,161.0L377.3,161.3L378.9,159.3L381.4,159.9L382.9,161.3L383.4,162.6L382.9,164.8L380.6,163.7L378.4,162.7L377.6,167.2L375.6,169.8L373.0,174.4L369.9,173.2L368.5,178.7L366.8,182.8L366.8,185.5L364.8,186.6L362.7,187.8L360.0,189.3L356.4,190.4L353.5,187.2L350.6,185.8L349.1,183.9L347.6,181.4Z" fill="#f1c0be"/>
<path d="M369.1,160.9L372.6,160.3L376.1,159.6L379.7,159.0L383.2,158.3L386.7,157.6L390.2,156.8L393.7,156.1L397.2,155.3L398.4,159.7L399.6,164.0L400.8,168.4L403.3,167.9L405.8,167.4L405.8,169.0L405.3,172.1L402.3,173.7L400.4,172.4L398.9,171.1L397.0,169.9L395.7,167.4L396.0,165.1L395.1,162.6L395.7,159.7L396.3,157.4L395.6,157.5L394.9,159.9L393.3,161.9L394.0,163.9L393.8,166.2L394.4,169.3L395.7,171.2L396.9,173.8L397.9,175.3L394.5,173.1L391.5,172.1L389.4,172.0L388.3,170.6L389.7,167.0L387.6,165.3L385.3,163.5L383.4,162.6L382.9,161.3L381.4,159.9L378.9,159.3L377.3,161.3L374.8,161.0L372.9,163.0L371.3,165.1L370.1,166.4L369.6,163.7Z" fill="#ec7874"/>
<path d="M399.8,153.9L398.7,153.7L397.6,154.1L397.2,155.3L398.4,159.7L399.6,164.0L400.8,168.4L403.3,167.9L405.8,167.4L404.7,163.8L403.1,162.5L401.2,159.6L399.5,157.2L399.1,155.3Z" fill="#e84040"/>
<path d="M357.1,138.4L360.0,136.1L362.2,134.4L362.7,137.2L366.3,136.6L370.0,135.9L373.6,135.2L377.2,134.5L380.8,133.8L384.3,133.0L387.9,132.3L391.5,131.5L395.1,130.7L398.3,134.4L401.5,136.3L399.2,140.9L399.4,144.6L401.0,146.4L403.9,148.5L402.0,152.3L399.8,153.9L398.7,153.7L397.6,154.1L397.2,155.3L393.7,156.1L390.2,156.8L386.7,157.6L383.2,158.3L379.7,159.0L376.1,159.6L372.6,160.3L369.1,160.9L366.4,161.4L363.8,161.8L361.1,162.3L360.3,157.4L359.5,152.6L358.7,147.8L357.9,143.1Z" fill="#ec7874"/>
<path d="M399.8,153.9L402.0,152.3L403.9,148.5L401.0,146.4L399.4,144.6L399.2,140.9L401.5,136.3L404.9,137.5L408.2,138.6L408.1,142.0L406.9,143.0L406.6,144.3L408.8,145.8L409.2,150.2L407.4,155.6L405.7,160.2L403.0,157.0L400.4,155.3Z" fill="#c0292d"/>
<path d="M362.2,134.4L364.3,131.9L366.4,129.5L367.4,127.1L366.3,125.7L365.6,123.1L367.5,122.1L369.3,121.1L372.7,121.0L376.0,120.8L378.9,120.1L381.7,119.3L383.6,117.6L385.5,115.8L384.7,112.1L383.2,110.2L384.8,108.0L386.3,105.7L387.6,103.2L388.9,100.7L390.6,99.5L392.4,98.3L395.6,97.5L398.9,96.6L402.2,95.8L402.9,98.4L403.7,101.0L404.0,103.7L404.3,106.4L405.2,110.1L406.2,110.4L407.3,114.8L408.5,119.2L408.5,123.1L408.6,126.9L409.4,130.9L410.1,134.8L410.8,135.7L409.2,137.3L410.0,138.3L409.4,139.5L409.5,140.5L410.0,139.6L411.8,138.9L413.6,138.2L415.6,137.4L417.5,136.5L419.6,134.1L423.1,134.1L420.7,136.2L418.4,138.3L416.0,139.9L413.6,141.4L411.3,142.3L408.9,143.1L408.1,142.0L408.2,138.6L404.9,137.5L401.5,136.3L398.3,134.4L395.1,130.7L391.5,131.5L387.9,132.3L384.3,133.0L380.8,133.8L377.2,134.5L373.6,135.2L370.0,135.9L366.3,136.6L362.7,137.2Z" fill="#ec7874"/>
<path d="M408.6,126.9L411.7,126.2L414.8,125.5L417.8,124.8L420.9,124.1L422.1,128.4L422.4,131.5L419.3,132.7L417.1,133.5L415.0,134.2L412.4,136.3L410.0,138.3L409.2,137.3L410.8,135.7L410.1,134.8L409.4,130.9Z" fill="#e84040"/>
<path d="M420.9,124.1L424.0,123.2L424.6,124.4L426.1,126.2L427.3,128.1L426.8,128.6L425.7,126.9L424.7,126.0L424.8,127.7L424.9,130.2L422.4,131.5L422.1,128.4Z" fill="#e84040"/>
<path d="M414.3,117.9L411.4,118.6L408.5,119.2L408.5,123.1L408.6,126.9L411.7,126.2L414.8,125.5L417.8,124.8L420.9,124.1L424.0,123.2L424.6,124.4L426.1,126.2L427.3,128.1L428.2,126.2L429.4,125.1L431.6,124.9L432.9,123.8L430.3,122.8L428.0,120.3L426.1,118.4L426.4,115.9L425.6,113.3L424.3,113.7L422.9,115.7L420.1,116.5L417.2,117.2Z" fill="#e84040"/>
<path d="M402.2,95.8L405.4,95.0L408.5,94.1L411.7,93.3L414.9,92.4L415.7,96.8L415.2,99.1L413.3,101.9L413.6,104.6L412.8,108.1L413.2,111.9L413.6,115.1L413.3,116.9L414.3,117.9L411.4,118.6L408.5,119.2L407.3,114.8L406.2,110.4L405.2,110.1L404.3,106.4L404.0,103.7L403.7,101.0L402.9,98.4Z" fill="#e84040"/>
<path d="M414.9,92.4L415.0,90.1L417.0,88.5L418.4,93.4L419.9,98.3L421.5,103.2L423.0,108.1L425.9,111.0L425.6,113.3L424.3,113.7L422.9,115.7L420.1,116.5L417.2,117.2L414.3,117.9L413.3,116.9L413.6,115.1L413.2,111.9L412.8,108.1L413.6,104.6L413.3,101.9L415.2,99.1L415.7,96.8Z" fill="#e84040"/>
<path d="M417.0,88.5L418.6,87.1L420.2,82.7L420.9,80.8L419.8,77.8L420.7,75.1L420.3,72.1L421.8,67.4L423.3,62.8L424.9,64.1L426.2,64.8L427.9,63.3L429.7,61.9L431.8,62.9L433.9,63.8L435.1,67.8L436.3,71.8L437.5,75.8L438.1,77.8L440.9,78.1L441.7,81.2L443.2,82.4L445.4,83.4L446.5,85.0L443.8,87.2L441.1,89.4L438.3,91.6L436.0,92.8L433.7,93.9L433.1,97.3L431.4,100.2L429.7,101.7L428.0,103.1L425.6,107.9L425.9,111.0L423.0,108.1L421.5,103.2L419.9,98.3L418.4,93.4Z" fill="#c0292d"/>
</g>
<rect x="467.6" y="18.6" width="447" height="323" fill="#fff" stroke="#cbcbcb" stroke-width="1.3"/>
<g class="st">
<path d="M519.4,52.9L522.4,53.8L525.3,54.7L528.3,55.6L531.3,56.4L534.3,57.2L537.3,58.0L540.5,58.9L543.7,59.8L546.9,60.6L550.2,61.4L553.4,62.2L556.6,63.0L555.6,67.4L554.6,71.8L553.6,76.2L552.6,80.6L551.5,85.1L550.5,89.5L550.3,94.2L547.5,93.5L544.6,92.8L541.8,92.1L539.0,91.4L536.1,90.7L533.8,90.8L531.7,90.4L529.4,90.9L527.0,91.4L524.0,90.4L522.1,90.5L520.2,90.7L518.2,88.9L515.3,88.5L512.2,89.0L509.4,87.1L509.7,84.9L509.7,82.4L507.9,81.0L506.2,79.4L504.4,78.7L502.6,78.0L503.6,74.7L504.2,71.5L503.9,69.2L504.0,64.7L504.0,61.9L503.9,59.1L504.8,55.2L506.5,56.8L508.3,58.3L509.8,59.1L511.4,59.9L514.3,60.8L516.1,61.9L516.5,64.2L516.2,67.4L515.4,70.5L516.1,71.6L517.5,70.6L518.3,68.1L519.5,65.1L519.7,61.8L519.6,58.5L520.2,55.4Z" fill="#f1c0be"/>
<path d="M502.6,78.0L504.4,78.7L506.2,79.4L507.9,81.0L509.7,82.4L509.7,84.9L509.4,87.1L512.2,89.0L515.3,88.5L518.2,88.9L520.2,90.7L522.1,90.5L524.0,90.4L527.0,91.4L529.4,90.9L531.7,90.4L533.8,90.8L536.1,90.7L539.0,91.4L541.8,92.1L544.6,92.8L547.5,93.5L550.3,94.2L551.0,96.5L551.7,99.9L551.8,102.2L549.4,104.9L547.9,106.7L546.3,107.5L544.5,110.3L545.2,112.1L545.7,113.3L544.3,116.5L543.2,121.3L542.1,126.1L541.0,130.8L539.9,135.6L536.3,134.7L532.7,133.9L529.0,133.0L525.4,132.1L521.8,131.1L518.2,130.2L514.8,129.3L511.4,128.3L508.1,127.4L504.7,126.4L501.3,125.4L497.9,124.4L494.6,123.4L491.2,122.3L487.9,121.3L487.7,116.7L488.2,111.9L490.8,107.6L492.7,106.0L493.8,103.5L494.8,101.0L496.0,98.0L497.2,95.0L498.9,91.1L499.8,88.6L500.7,86.0L502.1,82.0Z" fill="#ef9f9c"/>
<path d="M487.9,121.3L491.2,122.3L494.6,123.4L497.9,124.4L501.3,125.4L504.7,126.4L508.1,127.4L511.4,128.3L514.8,129.3L518.2,130.2L517.1,134.6L515.9,139.0L514.7,143.5L513.5,147.9L512.3,152.4L511.1,156.8L510.0,161.2L512.3,165.4L514.8,169.6L517.2,173.8L519.7,177.9L522.2,182.1L524.8,186.2L527.4,190.4L530.3,194.9L533.3,199.4L536.3,203.8L539.3,208.3L542.4,212.7L542.5,215.5L543.5,218.9L544.8,221.1L541.7,223.4L540.2,227.5L538.4,229.3L537.6,232.9L538.7,235.8L536.7,236.3L532.6,235.8L528.4,235.4L524.3,234.9L520.2,234.4L516.1,233.8L515.8,230.3L515.7,227.0L513.2,222.6L510.8,219.8L508.5,218.7L508.3,215.9L505.9,215.1L503.0,213.0L501.3,211.1L499.6,209.3L496.6,208.3L493.5,207.2L493.1,203.7L494.0,199.6L492.9,196.9L490.5,192.5L489.0,188.7L487.5,185.0L488.0,181.8L489.8,180.1L488.7,178.0L486.3,174.6L486.5,171.3L487.2,168.4L488.0,169.0L487.9,172.0L489.2,172.3L489.4,168.3L489.1,165.2L487.7,165.0L486.6,167.4L484.2,165.0L484.6,160.7L483.2,157.2L481.8,153.7L482.4,150.5L483.0,147.3L482.8,144.1L482.6,141.0L481.4,136.8L484.8,132.7L485.9,130.2L486.9,127.7L487.1,123.9Z" fill="#ef9f9c"/>
<path d="M518.2,130.2L521.8,131.1L525.4,132.1L529.0,133.0L532.7,133.9L536.3,134.7L539.9,135.6L543.6,136.5L547.2,137.3L550.9,138.1L554.6,138.9L558.2,139.6L561.9,140.4L561.0,145.1L560.0,149.9L559.0,154.7L558.1,159.4L557.1,164.2L556.2,169.0L555.2,173.7L554.2,178.5L553.3,183.3L552.3,188.0L551.4,192.8L550.5,197.0L549.7,201.2L546.8,201.1L543.9,201.1L543.7,203.8L543.6,206.4L543.0,209.6L542.4,212.7L539.3,208.3L536.3,203.8L533.3,199.4L530.3,194.9L527.4,190.4L524.8,186.2L522.2,182.1L519.7,177.9L517.2,173.8L514.8,169.6L512.3,165.4L510.0,161.2L511.1,156.8L512.3,152.4L513.5,147.9L514.7,143.5L515.9,139.0L517.1,134.6Z" fill="#ef9f9c"/>
<path d="M556.6,63.0L559.9,63.7L563.1,64.4L562.3,67.9L561.6,71.3L560.8,74.8L561.4,77.9L561.9,81.0L563.8,83.8L565.7,86.7L567.7,90.9L568.9,93.9L567.4,97.9L566.4,101.0L567.3,103.3L570.2,101.7L570.8,104.0L572.4,109.2L572.0,111.3L574.2,113.4L575.3,117.2L577.4,116.6L579.6,116.0L582.1,116.4L584.6,116.9L586.3,115.2L588.4,118.4L587.5,123.6L586.6,128.8L585.8,134.0L584.9,139.2L584.1,144.4L580.4,143.8L576.7,143.2L573.0,142.5L569.3,141.8L565.6,141.1L561.9,140.4L558.2,139.6L554.6,138.9L550.9,138.1L547.2,137.3L543.6,136.5L539.9,135.6L541.0,130.8L542.1,126.1L543.2,121.3L544.3,116.5L545.7,113.3L545.2,112.1L544.5,110.3L546.3,107.5L547.9,106.7L549.4,104.9L551.8,102.2L551.7,99.9L551.0,96.5L550.3,94.2L550.5,89.5L551.5,85.1L552.6,80.6L553.6,76.2L554.6,71.8L555.6,67.4Z" fill="#f1c0be"/>
<path d="M563.1,64.4L565.9,65.1L568.8,65.7L571.7,66.3L574.6,66.9L577.4,67.5L580.3,68.1L583.2,68.6L586.0,69.1L588.9,69.7L591.7,70.2L594.6,70.7L597.4,71.1L600.3,71.6L603.1,72.1L606.0,72.5L608.8,72.9L611.7,73.3L614.6,73.7L617.4,74.1L620.3,74.5L623.1,74.8L626.4,75.2L629.7,75.6L633.0,76.0L636.3,76.3L639.6,76.6L642.9,76.9L642.5,81.5L642.1,86.1L641.7,90.7L641.3,95.4L640.9,100.0L640.5,104.6L640.1,109.2L639.6,114.2L639.1,119.2L635.6,118.9L632.1,118.5L628.6,118.2L625.0,117.8L621.5,117.4L618.0,117.0L614.5,116.5L611.0,116.1L607.9,115.6L604.8,115.2L601.7,114.8L598.6,114.3L595.5,113.8L592.4,113.3L589.3,112.8L588.8,115.6L588.4,118.4L586.3,115.2L584.6,116.9L582.1,116.4L579.6,116.0L577.4,116.6L575.3,117.2L574.2,113.4L572.0,111.3L572.4,109.2L570.8,104.0L570.2,101.7L567.3,103.3L566.4,101.0L567.4,97.9L568.9,93.9L567.7,90.9L565.7,86.7L563.8,83.8L561.9,81.0L561.4,77.9L560.8,74.8L561.6,71.3L562.3,67.9Z" fill="#ef9f9c"/>
<path d="M588.4,118.4L588.8,115.6L589.3,112.8L592.4,113.3L595.5,113.8L598.6,114.3L601.7,114.8L604.8,115.2L607.9,115.6L611.0,116.1L614.5,116.5L618.0,117.0L621.5,117.4L625.0,117.8L628.6,118.2L632.1,118.5L635.6,118.9L639.1,119.2L638.8,123.4L638.4,127.7L638.0,131.9L637.7,136.2L637.3,140.5L636.9,144.7L636.6,149.0L636.2,153.2L635.8,157.5L635.4,161.7L631.7,161.4L628.0,161.0L624.2,160.6L620.5,160.2L616.8,159.8L613.6,159.4L610.3,159.0L607.1,158.6L603.9,158.2L600.7,157.8L597.4,157.3L594.4,156.9L591.4,156.4L588.4,155.9L585.3,155.5L582.3,155.0L582.9,151.5L583.5,147.9L584.1,144.4L584.9,139.2L585.8,134.0L586.6,128.8L587.5,123.6Z" fill="#ef9f9c"/>
<path d="M561.9,140.4L565.6,141.1L569.3,141.8L573.0,142.5L576.7,143.2L580.4,143.8L584.1,144.4L583.5,147.9L582.9,151.5L582.3,155.0L585.3,155.5L588.4,155.9L591.4,156.4L594.4,156.9L597.4,157.3L596.8,162.0L596.1,166.7L595.4,171.4L594.7,176.1L594.1,180.8L593.4,185.5L592.7,190.2L592.0,194.9L591.3,199.6L587.7,199.1L584.0,198.5L580.4,198.0L576.8,197.4L573.1,196.8L569.5,196.1L565.9,195.5L562.2,194.9L558.6,194.2L555.0,193.5L551.4,192.8L552.3,188.0L553.3,183.3L554.2,178.5L555.2,173.7L556.2,169.0L557.1,164.2L558.1,159.4L559.0,154.7L560.0,149.9L561.0,145.1Z" fill="#ef9f9c"/>
<path d="M597.4,157.3L600.7,157.8L603.9,158.2L607.1,158.6L610.3,159.0L613.6,159.4L616.8,159.8L620.5,160.2L624.2,160.6L628.0,161.0L631.7,161.4L635.4,161.7L638.5,162.0L641.5,162.3L644.6,162.5L647.6,162.7L650.7,162.9L650.5,166.5L650.2,170.0L650.0,173.6L649.7,178.2L649.4,182.7L649.1,187.3L648.8,191.9L648.5,196.4L648.2,201.0L647.9,205.6L644.0,205.3L640.1,205.0L636.7,204.7L633.2,204.4L629.7,204.1L626.3,203.8L622.8,203.4L619.4,203.1L615.9,202.7L612.4,202.3L608.9,201.9L605.4,201.5L601.9,201.0L598.3,200.6L594.8,200.1L591.3,199.6L592.0,194.9L592.7,190.2L593.4,185.5L594.1,180.8L594.7,176.1L595.4,171.4L596.1,166.7L596.8,162.0Z" fill="#ef9f9c"/>
<path d="M551.4,192.8L555.0,193.5L558.6,194.2L562.2,194.9L565.9,195.5L569.5,196.1L573.1,196.8L576.8,197.4L580.4,198.0L584.0,198.5L587.7,199.1L591.3,199.6L590.6,204.6L589.9,209.6L589.2,214.6L588.5,219.5L587.7,224.5L587.0,229.5L586.3,234.4L585.6,239.4L584.8,244.3L584.1,249.3L583.4,254.2L582.7,259.1L579.2,258.6L575.7,258.1L572.2,257.6L568.7,257.0L565.2,256.5L561.4,254.3L557.6,252.1L553.9,249.9L550.1,247.6L546.4,245.4L542.8,243.1L539.1,240.8L535.4,238.5L536.7,236.3L538.7,235.8L537.6,232.9L538.4,229.3L540.2,227.5L541.7,223.4L544.8,221.1L543.5,218.9L542.5,215.5L542.4,212.7L543.0,209.6L543.6,206.4L543.7,203.8L543.9,201.1L546.8,201.1L549.7,201.2L550.5,197.0Z" fill="#ef9f9c"/>
<path d="M591.3,199.6L594.8,200.1L598.3,200.6L601.9,201.0L605.4,201.5L608.9,201.9L612.4,202.3L615.9,202.7L619.4,203.1L622.8,203.4L626.3,203.8L629.7,204.1L633.2,204.4L636.7,204.7L640.1,205.0L639.9,207.6L639.7,210.3L639.3,215.1L638.9,219.8L638.5,224.6L638.1,229.4L637.6,234.1L637.2,238.9L636.8,243.6L636.4,248.4L635.9,253.1L635.5,257.9L631.6,257.6L627.8,257.2L623.9,256.9L620.1,256.5L616.2,256.1L612.4,255.7L608.5,255.3L604.7,254.9L605.2,257.3L601.5,256.8L597.9,256.4L594.3,255.9L590.6,255.5L590.0,260.2L586.3,259.7L582.7,259.1L583.4,254.2L584.1,249.3L584.8,244.3L585.6,239.4L586.3,234.4L587.0,229.5L587.7,224.5L588.5,219.5L589.2,214.6L589.9,209.6L590.6,204.6Z" fill="#ef9f9c"/>
<path d="M642.9,76.9L645.8,77.2L648.8,77.4L651.7,77.7L654.6,77.9L657.6,78.1L660.5,78.3L663.4,78.4L666.1,78.6L668.8,78.7L671.5,78.8L674.2,78.9L676.9,79.0L679.9,79.1L682.9,79.2L685.8,79.3L688.8,79.3L689.1,82.0L689.3,84.6L689.6,87.5L689.9,90.4L691.2,95.2L691.3,98.4L691.5,101.6L691.8,104.8L692.8,108.0L693.1,111.8L689.6,111.8L686.1,111.7L682.6,111.6L679.2,111.5L675.7,111.4L672.2,111.3L668.7,111.2L665.5,111.0L662.3,110.8L659.2,110.7L656.0,110.5L652.8,110.2L649.6,110.0L646.4,109.8L643.3,109.5L640.1,109.2L640.5,104.6L640.9,100.0L641.3,95.4L641.7,90.7L642.1,86.1L642.5,81.5Z" fill="#ef9f9c"/>
<path d="M640.1,109.2L643.3,109.5L646.4,109.8L649.6,110.0L652.8,110.2L656.0,110.5L659.2,110.7L662.3,110.8L665.5,111.0L668.7,111.2L672.2,111.3L675.7,111.4L679.2,111.5L682.6,111.6L686.1,111.7L689.6,111.8L693.1,111.8L692.8,113.3L691.0,115.4L692.0,117.5L693.8,118.6L693.8,123.4L693.7,128.2L693.7,133.0L693.7,137.8L692.6,137.8L692.9,142.1L693.6,145.3L693.2,147.4L693.6,148.6L691.8,147.4L689.9,145.8L686.6,144.7L684.3,145.1L682.1,145.4L680.3,144.2L678.4,142.9L675.3,142.8L672.3,142.7L669.2,142.6L666.1,142.4L663.0,142.3L659.9,142.1L656.7,141.9L653.4,141.7L650.2,141.5L647.0,141.2L643.8,141.0L640.5,140.7L637.3,140.5L637.7,136.2L638.0,131.9L638.4,127.7L638.8,123.4L639.1,119.2L639.6,114.2Z" fill="#ef9f9c"/>
<path d="M637.3,140.5L640.5,140.7L643.8,141.0L647.0,141.2L650.2,141.5L653.4,141.7L656.7,141.9L659.9,142.1L663.0,142.3L666.1,142.4L669.2,142.6L672.3,142.7L675.3,142.8L678.4,142.9L680.3,144.2L682.1,145.4L684.3,145.1L686.6,144.7L689.9,145.8L691.8,147.4L693.6,148.6L694.3,151.7L696.2,156.0L696.9,158.7L697.5,161.3L698.1,164.6L698.5,167.8L698.7,169.0L700.4,172.0L702.3,175.2L698.8,175.2L695.2,175.2L691.7,175.2L688.1,175.2L684.6,175.1L681.1,175.0L677.5,174.9L674.1,174.8L670.6,174.7L667.2,174.6L663.8,174.4L660.3,174.2L656.9,174.0L653.4,173.8L650.0,173.6L650.2,170.0L650.5,166.5L650.7,162.9L647.6,162.7L644.6,162.5L641.5,162.3L638.5,162.0L635.4,161.7L635.8,157.5L636.2,153.2L636.6,149.0L636.9,144.7Z" fill="#ef9f9c"/>
<path d="M650.0,173.6L653.4,173.8L656.9,174.0L660.3,174.2L663.8,174.4L667.2,174.6L670.6,174.7L674.1,174.8L677.5,174.9L681.1,175.0L684.6,175.1L688.1,175.2L691.7,175.2L695.2,175.2L698.8,175.2L702.3,175.2L705.5,177.9L704.0,180.0L705.6,182.2L707.9,184.7L707.9,189.2L708.0,193.7L708.0,198.2L708.1,202.7L708.1,207.2L704.2,207.3L700.3,207.3L696.4,207.3L692.4,207.3L688.5,207.2L684.6,207.1L680.7,207.1L677.0,207.0L673.4,206.8L669.8,206.7L666.1,206.6L662.5,206.4L658.8,206.2L655.2,206.0L651.6,205.8L647.9,205.6L648.2,201.0L648.5,196.4L648.8,191.9L649.1,187.3L649.4,182.7L649.7,178.2Z" fill="#f1c0be"/>
<path d="M640.1,205.0L644.0,205.3L647.9,205.6L651.6,205.8L655.2,206.0L658.8,206.2L662.5,206.4L666.1,206.6L669.8,206.7L673.4,206.8L677.0,207.0L680.7,207.1L684.6,207.1L688.5,207.2L692.4,207.3L696.4,207.3L700.3,207.3L704.2,207.3L708.1,207.2L708.1,209.9L708.2,212.6L708.8,216.5L709.3,220.4L709.9,224.4L709.9,229.0L709.9,233.7L709.8,238.3L709.8,243.0L706.2,242.4L702.8,240.5L700.7,240.6L698.6,240.7L696.0,241.2L693.5,241.6L689.7,240.6L687.1,242.0L684.6,240.7L682.5,240.5L680.4,240.2L679.1,237.7L677.0,237.5L674.9,237.2L672.4,236.8L669.9,236.3L667.8,235.3L665.7,234.2L663.3,232.4L663.5,227.3L663.8,222.1L664.0,217.0L664.2,211.8L660.7,211.6L657.2,211.5L653.7,211.3L650.2,211.0L646.7,210.8L643.2,210.6L639.7,210.3L639.9,207.6Z" fill="#f3d6d6"/>
<path d="M639.7,210.3L643.2,210.6L646.7,210.8L650.2,211.0L653.7,211.3L657.2,211.5L660.7,211.6L664.2,211.8L664.0,217.0L663.8,222.1L663.5,227.3L663.3,232.4L665.7,234.2L667.8,235.3L669.9,236.3L672.4,236.8L674.9,237.2L677.0,237.5L679.1,237.7L680.4,240.2L682.5,240.5L684.6,240.7L687.1,242.0L689.7,240.6L693.5,241.6L696.0,241.2L698.6,240.7L700.7,240.6L702.8,240.5L706.2,242.4L709.8,243.0L713.6,243.9L713.6,246.7L713.7,249.5L713.8,253.1L713.9,256.7L713.9,260.3L716.1,265.0L718.4,269.1L718.1,271.8L717.1,275.0L717.2,277.6L717.4,280.2L716.3,283.6L713.8,285.1L710.0,285.8L708.4,284.3L705.7,285.9L706.2,288.7L703.0,292.4L700.6,294.1L698.2,295.7L695.7,295.8L693.2,295.9L691.7,295.7L690.6,297.3L686.8,301.6L683.6,306.0L682.5,308.7L681.4,311.3L681.7,314.3L682.0,317.3L682.9,321.1L683.9,325.0L681.4,324.5L678.3,323.1L675.3,321.8L671.6,320.1L667.9,318.4L666.4,315.2L664.9,312.1L664.7,309.5L664.6,306.9L661.9,304.1L659.8,301.4L657.6,298.7L656.2,295.2L654.8,291.8L652.3,286.9L649.3,284.1L647.2,281.9L643.9,281.3L640.5,280.6L637.0,282.0L635.2,286.3L632.7,289.5L630.9,289.1L627.8,287.3L624.8,285.5L621.8,282.5L620.7,281.4L619.4,276.5L618.3,273.5L617.3,270.5L614.9,268.0L612.5,265.5L610.0,263.3L607.6,261.0L605.2,257.3L604.7,254.9L608.5,255.3L612.4,255.7L616.2,256.1L620.1,256.5L623.9,256.9L627.8,257.2L631.6,257.6L635.5,257.9L635.9,253.1L636.4,248.4L636.8,243.6L637.2,238.9L637.6,234.1L638.1,229.4L638.5,224.6L638.9,219.8L639.3,215.1Z" fill="#f1c0be"/>
<path d="M688.8,79.3L691.6,79.4L694.4,79.4L697.2,79.4L700.0,79.4L702.8,79.4L702.8,75.4L705.0,76.0L706.0,80.6L706.6,82.3L709.0,82.9L711.7,83.1L712.4,84.3L714.4,83.4L716.1,82.9L717.8,83.1L719.8,84.1L721.6,86.3L724.0,85.6L725.7,86.9L727.5,88.2L729.9,88.1L732.2,86.5L734.0,87.8L735.7,88.1L737.4,88.4L735.5,90.5L733.6,92.7L731.9,94.6L730.3,96.6L728.7,98.5L727.0,100.4L724.9,103.2L723.0,103.7L723.1,106.8L723.3,110.0L720.1,112.4L719.1,115.1L721.0,117.2L720.1,120.7L720.5,124.1L723.8,126.1L726.8,128.2L728.7,131.3L731.8,133.3L732.2,137.0L728.8,137.2L725.4,137.3L721.9,137.4L718.5,137.5L715.1,137.6L711.7,137.7L708.1,137.8L704.5,137.8L700.9,137.8L697.3,137.8L693.7,137.8L693.7,133.0L693.7,128.2L693.8,123.4L693.8,118.6L692.0,117.5L691.0,115.4L692.8,113.3L693.1,111.8L692.8,108.0L691.8,104.8L691.5,101.6L691.3,98.4L691.2,95.2L689.9,90.4L689.6,87.5L689.3,84.6L689.1,82.0Z" fill="#ef9f9c"/>
<path d="M693.7,137.8L697.3,137.8L700.9,137.8L704.5,137.8L708.1,137.8L711.7,137.7L715.1,137.6L718.5,137.5L721.9,137.4L725.4,137.3L728.8,137.2L732.2,137.0L732.7,141.5L735.0,145.4L737.0,147.3L739.0,150.0L740.9,151.5L740.8,154.7L739.8,157.1L737.9,158.1L734.6,159.4L734.3,161.5L735.6,164.1L734.5,165.8L732.4,168.6L732.3,170.4L729.8,168.0L726.4,168.3L723.0,168.5L719.6,168.7L716.2,168.8L712.7,168.9L709.2,169.0L705.7,169.0L702.2,169.0L698.7,169.0L698.5,167.8L698.1,164.6L697.5,161.3L696.9,158.7L696.2,156.0L694.3,151.7L693.6,148.6L693.2,147.4L693.6,145.3L692.9,142.1L692.6,137.8Z" fill="#f1c0be"/>
<path d="M698.7,169.0L702.2,169.0L705.7,169.0L709.2,169.0L712.7,168.9L716.2,168.8L719.6,168.7L723.0,168.5L726.4,168.3L729.8,168.0L732.3,170.4L731.9,174.5L733.2,177.6L736.9,181.2L738.6,184.3L739.9,185.9L742.7,186.2L743.0,188.6L741.9,192.2L744.1,195.2L746.6,196.7L749.2,199.7L749.4,202.4L751.2,205.0L752.6,205.6L752.2,208.1L751.1,209.8L750.0,210.9L749.3,213.1L748.5,216.4L745.8,216.5L743.2,216.7L743.9,214.0L744.7,211.3L740.9,211.5L737.1,211.7L733.4,211.8L729.6,212.0L726.0,212.1L722.5,212.3L718.9,212.4L715.3,212.4L711.8,212.5L708.2,212.6L708.1,209.9L708.1,207.2L708.1,202.7L708.0,198.2L708.0,193.7L707.9,189.2L707.9,184.7L705.6,182.2L704.0,180.0L705.5,177.9L702.3,175.2L700.4,172.0Z" fill="#f1c0be"/>
<path d="M708.2,212.6L711.8,212.5L715.3,212.4L718.9,212.4L722.5,212.3L726.0,212.1L729.6,212.0L733.4,211.8L737.1,211.7L740.9,211.5L744.7,211.3L743.9,214.0L743.2,216.7L745.8,216.5L748.5,216.4L748.8,218.5L747.0,221.3L745.9,224.0L746.2,225.8L744.4,227.3L742.5,230.6L742.4,233.3L739.5,237.1L738.5,240.4L737.7,243.1L738.7,245.7L738.3,248.9L734.2,249.0L730.1,249.2L726.0,249.3L721.9,249.4L717.8,249.4L713.7,249.5L713.6,246.7L713.6,243.9L709.8,243.0L709.8,238.3L709.9,233.7L709.9,229.0L709.9,224.4L709.3,220.4L708.8,216.5Z" fill="#f3d6d6"/>
<path d="M713.7,249.5L717.8,249.4L721.9,249.4L726.0,249.3L730.1,249.2L734.2,249.0L738.3,248.9L739.1,252.0L741.0,255.6L739.5,259.4L737.1,263.8L735.9,267.0L735.4,270.2L739.6,270.0L743.7,269.8L747.9,269.5L752.1,269.3L751.3,272.5L753.2,275.6L754.1,277.6L751.8,280.3L755.2,281.9L753.7,284.9L758.2,288.6L755.6,287.3L753.0,286.0L751.0,286.3L749.2,288.6L746.2,288.3L743.9,289.4L740.2,288.6L737.1,286.0L733.3,283.3L731.1,284.5L728.4,284.9L725.8,285.3L721.8,284.0L719.1,283.8L716.3,283.6L717.4,280.2L717.2,277.6L717.1,275.0L718.1,271.8L718.4,269.1L716.1,265.0L713.9,260.3L713.9,256.7L713.8,253.1Z" fill="#f3d6d6"/>
<path d="M724.9,103.2L727.8,102.5L730.5,101.1L733.3,100.6L732.8,103.9L733.8,103.3L736.1,104.0L738.4,106.3L740.8,106.9L743.3,107.4L745.7,107.9L747.9,108.5L750.0,109.1L753.0,111.0L755.3,112.4L755.2,115.6L757.2,118.1L755.0,121.5L754.9,124.2L756.5,122.5L759.1,118.5L761.3,116.1L759.6,120.6L758.6,125.5L758.1,128.2L757.6,131.0L757.2,134.2L756.7,137.5L757.3,140.6L757.8,143.3L758.2,146.0L755.2,146.3L752.2,146.5L749.2,146.7L746.2,146.8L743.1,147.0L740.1,147.2L737.0,147.3L735.0,145.4L732.7,141.5L732.2,137.0L731.8,133.3L728.7,131.3L726.8,128.2L723.8,126.1L720.5,124.1L720.1,120.7L721.0,117.2L719.1,115.1L720.1,112.4L723.3,110.0L723.1,106.8L723.0,103.7Z" fill="#ef9f9c"/>
<path d="M737.0,147.3L740.1,147.2L743.1,147.0L746.2,146.8L749.2,146.7L752.2,146.5L755.2,146.3L758.2,146.0L758.8,148.6L760.2,152.2L761.0,154.2L761.5,159.2L761.9,164.2L762.3,169.3L762.8,174.3L763.2,179.3L762.5,182.1L763.7,186.5L762.4,189.6L761.1,192.9L760.2,196.2L760.9,199.4L757.7,200.7L757.6,204.3L753.9,203.2L752.6,205.6L751.2,205.0L749.4,202.4L749.2,199.7L746.6,196.7L744.1,195.2L741.9,192.2L743.0,188.6L742.7,186.2L739.9,185.9L738.6,184.3L736.9,181.2L733.2,177.6L731.9,174.5L732.3,170.4L732.4,168.6L734.5,165.8L735.6,164.1L734.3,161.5L734.6,159.4L737.9,158.1L739.8,157.1L740.8,154.7L740.9,151.5L739.0,150.0Z" fill="#ef9f9c"/>
<path d="M761.0,154.2L763.5,154.8L766.2,153.1L769.3,153.0L772.3,152.8L775.3,152.6L778.4,152.4L781.4,152.1L781.9,156.8L782.5,161.4L783.0,166.0L783.5,170.6L784.1,175.2L784.6,179.8L784.7,182.0L782.2,184.4L780.6,184.3L780.4,186.2L778.4,189.5L777.1,192.5L774.1,191.2L772.8,193.8L770.4,193.4L768.2,195.8L764.4,194.1L761.7,195.0L760.2,196.2L761.1,192.9L762.4,189.6L763.7,186.5L762.5,182.1L763.2,179.3L762.8,174.3L762.3,169.3L761.9,164.2L761.5,159.2Z" fill="#f1c0be"/>
<path d="M781.4,152.1L784.8,151.6L788.2,151.1L791.5,150.5L795.1,151.4L797.5,152.4L800.1,151.9L802.7,151.4L805.0,151.1L806.6,149.5L808.3,147.8L810.6,146.2L812.9,144.6L813.7,149.3L814.5,154.0L815.3,158.8L814.7,161.5L814.8,165.0L814.3,168.6L812.6,172.1L810.3,173.0L809.7,174.5L808.8,178.4L806.4,177.6L805.5,180.3L805.1,182.7L804.1,184.6L803.0,184.7L800.6,182.1L799.4,181.9L797.2,183.6L793.6,183.5L789.9,182.4L788.8,180.4L787.1,179.5L784.6,179.8L784.1,175.2L783.5,170.6L783.0,166.0L782.5,161.4L781.9,156.8Z" fill="#f1c0be"/>
<path d="M791.5,150.5L792.9,146.9L793.3,144.1L795.0,142.8L797.2,139.8L797.3,136.0L796.2,132.9L794.9,128.8L791.8,125.2L789.5,127.4L788.7,129.6L786.7,131.2L785.0,129.6L785.1,126.9L787.8,125.4L788.8,122.1L788.5,119.4L788.1,116.8L786.6,113.7L783.1,111.5L780.8,110.0L778.8,109.4L776.8,108.8L775.1,110.4L775.4,113.0L772.7,114.9L772.5,119.3L771.1,116.7L768.5,119.2L768.1,121.9L767.6,124.6L766.3,129.6L767.1,134.3L768.3,136.9L769.5,139.5L769.6,143.8L768.9,146.5L768.3,149.3L766.2,153.1L769.3,153.0L772.3,152.8L775.3,152.6L778.4,152.4L781.4,152.1L784.8,151.6L788.2,151.1Z" fill="#ec7874"/>
<path d="M757.2,118.1L759.0,113.7L760.5,110.9L763.0,111.1L763.9,109.4L766.3,108.1L768.7,107.2L771.0,106.2L772.8,106.4L774.6,106.7L776.9,107.5L779.6,106.1L779.9,103.3L779.3,100.9L777.2,101.3L774.0,101.4L773.7,98.5L772.0,99.2L770.3,99.9L768.6,100.1L766.9,100.4L764.9,101.7L762.9,103.1L760.1,102.7L757.3,102.6L754.9,99.6L753.1,99.4L751.4,99.2L749.7,100.8L749.9,98.4L751.1,96.2L753.7,93.3L750.9,93.9L749.3,95.2L747.7,96.5L746.0,97.8L744.4,99.2L742.3,100.1L740.3,101.1L738.2,102.5L736.1,104.0L738.4,106.3L740.8,106.9L743.3,107.4L745.7,107.9L747.9,108.5L750.0,109.1L753.0,111.0L755.3,112.4L755.2,115.6Z" fill="#ec7874"/>
<path d="M752.6,205.6L753.9,203.2L757.6,204.3L757.7,200.7L760.9,199.4L760.2,196.2L761.7,195.0L764.4,194.1L768.2,195.8L770.4,193.4L772.8,193.8L774.1,191.2L777.1,192.5L778.4,189.5L780.4,186.2L780.6,184.3L782.2,184.4L784.7,182.0L784.6,179.8L787.1,179.5L788.8,180.4L789.9,182.4L793.6,183.5L797.2,183.6L799.4,181.9L800.6,182.1L803.0,184.7L803.4,187.6L804.9,190.1L806.4,192.0L809.3,193.4L807.1,196.3L804.3,199.4L801.4,202.0L799.2,203.6L797.1,205.2L793.5,205.6L789.9,206.0L786.4,206.3L783.3,206.6L780.3,206.8L777.2,207.1L774.2,207.3L771.0,207.5L767.8,207.8L764.6,208.0L761.4,208.1L761.8,210.0L757.9,210.4L754.0,210.6L750.0,210.9L751.1,209.8L752.2,208.1Z" fill="#f3d6d6"/>
<path d="M750.0,210.9L754.0,210.6L757.9,210.4L761.8,210.0L761.4,208.1L764.6,208.0L767.8,207.8L771.0,207.5L774.2,207.3L777.2,207.1L780.3,206.8L783.3,206.6L786.4,206.3L789.9,206.0L793.5,205.6L797.1,205.2L800.3,204.8L803.5,204.4L806.7,204.0L810.0,203.5L813.2,203.1L811.9,206.4L811.0,208.5L808.2,209.1L806.7,210.4L804.3,211.3L803.0,213.4L800.0,215.9L798.1,217.1L796.1,218.3L793.9,220.2L794.1,222.9L790.5,223.4L787.0,223.8L783.4,224.3L779.8,224.6L776.2,224.9L772.7,225.2L769.1,225.5L765.5,225.8L761.9,226.1L758.4,226.4L754.9,226.6L751.4,226.9L747.9,227.1L744.4,227.3L746.2,225.8L745.9,224.0L747.0,221.3L748.8,218.5L748.5,216.4L749.3,213.1Z" fill="#f3d6d6"/>
<path d="M744.4,227.3L747.9,227.1L751.4,226.9L754.9,226.6L758.4,226.4L761.9,226.1L762.8,227.1L762.8,231.7L762.7,236.3L762.7,240.8L762.6,245.4L762.5,250.0L762.5,254.6L762.4,259.2L762.9,264.4L763.5,269.6L764.0,274.8L761.2,275.0L757.4,275.8L754.1,277.6L753.2,275.6L751.3,272.5L752.1,269.3L747.9,269.5L743.7,269.8L739.6,270.0L735.4,270.2L735.9,267.0L737.1,263.8L739.5,259.4L741.0,255.6L739.1,252.0L738.3,248.9L738.7,245.7L737.7,243.1L738.5,240.4L739.5,237.1L742.4,233.3L742.5,230.6Z" fill="#c8c8c8"/>
<path d="M761.9,226.1L765.5,225.8L769.1,225.5L772.7,225.2L776.2,224.9L779.8,224.6L783.4,224.3L784.6,228.7L785.9,233.0L787.1,237.4L788.4,241.8L789.6,246.2L791.7,250.4L791.8,255.2L791.7,259.5L792.7,262.5L793.5,265.6L789.8,266.1L786.1,266.6L782.4,267.1L778.7,267.5L775.0,268.0L771.3,268.4L772.9,271.4L772.7,274.3L771.1,274.7L769.2,274.3L768.8,271.7L766.9,271.6L766.5,274.3L764.0,274.8L763.5,269.6L762.9,264.4L762.4,259.2L762.5,254.6L762.5,250.0L762.6,245.4L762.7,240.8L762.7,236.3L762.8,231.7L762.8,227.1Z" fill="#d1d7ee"/>
<path d="M783.4,224.3L787.0,223.8L790.5,223.4L794.1,222.9L797.4,222.5L800.7,222.0L804.0,221.5L802.5,225.0L805.8,227.2L808.2,229.6L810.3,232.0L813.8,235.2L816.1,236.5L818.8,239.9L820.8,241.7L822.2,244.7L824.3,247.1L825.6,249.6L827.3,249.6L825.3,255.2L824.8,258.1L824.3,260.9L824.5,264.9L821.0,265.3L820.7,266.9L819.9,269.3L819.2,267.0L815.1,267.3L811.0,267.6L807.0,267.8L802.9,268.1L798.8,268.3L794.8,268.5L793.5,265.6L792.7,262.5L791.7,259.5L791.8,255.2L791.7,250.4L789.6,246.2L788.4,241.8L787.1,237.4L785.9,233.0L784.6,228.7Z" fill="#f3d6d6"/>
<path d="M772.7,274.3L772.9,271.4L771.3,268.4L775.0,268.0L778.7,267.5L782.4,267.1L786.1,266.6L789.8,266.1L793.5,265.6L794.8,268.5L798.8,268.3L802.9,268.1L807.0,267.8L811.0,267.6L815.1,267.3L819.2,267.0L819.9,269.3L820.7,266.9L821.0,265.3L824.5,264.9L825.4,268.8L826.7,271.7L827.9,274.6L829.8,277.5L831.8,280.5L834.0,283.9L836.1,287.2L837.3,290.1L838.5,293.0L840.5,296.4L842.4,299.8L844.3,304.7L844.8,309.0L845.3,313.4L843.9,316.4L843.4,320.2L840.8,321.0L838.1,321.7L836.9,319.0L835.7,316.3L831.7,314.4L829.8,311.5L828.4,309.1L826.9,306.7L824.0,304.8L820.6,300.4L822.0,296.9L821.5,295.0L818.2,293.5L818.7,290.2L818.2,286.3L815.3,282.4L811.4,279.5L807.5,275.6L803.6,273.9L800.7,274.6L797.8,277.0L795.6,278.0L793.5,279.0L791.9,278.0L788.1,275.6L785.7,274.6L783.3,273.6L780.9,273.7L778.5,273.7L775.6,274.0Z" fill="#f1c0be"/>
<path d="M804.0,221.5L807.0,220.0L810.0,218.5L813.6,218.2L817.1,217.8L820.7,217.5L820.9,218.5L821.8,217.8L823.3,220.6L826.5,220.2L829.6,219.7L832.7,219.3L836.2,221.9L839.7,224.5L843.2,227.1L840.1,231.2L839.0,235.7L837.0,238.0L835.0,240.3L832.7,242.3L830.4,244.3L827.3,249.6L825.6,249.6L824.3,247.1L822.2,244.7L820.8,241.7L818.8,239.9L816.1,236.5L813.8,235.2L810.3,232.0L808.2,229.6L805.8,227.2L802.5,225.0Z" fill="#f3d6d6"/>
<path d="M794.1,222.9L793.9,220.2L796.1,218.3L798.1,217.1L800.0,215.9L803.0,213.4L804.3,211.3L806.7,210.4L808.2,209.1L811.0,208.5L811.9,206.4L813.2,203.1L816.8,202.6L820.5,202.0L824.1,201.5L827.8,200.9L831.4,200.4L835.1,199.8L838.7,199.1L842.1,198.4L845.6,197.6L849.0,196.9L852.4,196.1L855.8,195.3L859.2,194.5L859.0,198.5L856.7,200.2L854.4,201.9L856.1,201.4L858.4,201.1L860.7,200.8L862.4,203.6L860.7,207.7L858.7,208.3L856.7,208.8L857.3,210.5L859.0,212.8L857.3,214.0L855.3,215.1L853.3,216.3L851.6,218.3L849.9,220.3L848.1,224.9L845.7,226.0L843.2,227.1L839.7,224.5L836.2,221.9L832.7,219.3L829.6,219.7L826.5,220.2L823.3,220.6L821.8,217.8L820.9,218.5L820.7,217.5L817.1,217.8L813.6,218.2L810.0,218.5L807.0,220.0L804.0,221.5L800.7,222.0L797.4,222.5Z" fill="#f3d6d6"/>
<path d="M809.3,193.4L807.1,196.3L804.3,199.4L801.4,202.0L799.2,203.6L797.1,205.2L800.3,204.8L803.5,204.4L806.7,204.0L810.0,203.5L813.2,203.1L816.8,202.6L820.5,202.0L824.1,201.5L827.8,200.9L831.4,200.4L835.1,199.8L838.7,199.1L842.1,198.4L845.6,197.6L849.0,196.9L852.4,196.1L855.8,195.3L859.2,194.5L858.3,191.9L855.3,191.4L853.2,190.8L851.1,189.0L853.6,189.1L854.8,187.7L851.6,185.4L849.6,181.9L852.8,183.5L853.7,181.5L850.3,179.3L847.3,178.3L845.2,178.2L844.1,176.8L845.5,173.2L843.4,171.5L841.1,169.7L839.2,168.8L838.7,171.0L836.4,169.9L834.2,168.9L833.4,173.4L831.4,176.0L828.8,180.6L825.7,179.4L824.3,184.9L822.6,189.0L822.6,191.7L820.6,192.8L818.5,194.0L815.8,195.5L812.2,196.6Z" fill="#f1c0be"/>
<path d="M858.1,179.9L857.9,182.6L857.4,185.5L857.1,188.3L857.6,189.3L858.6,187.4L859.5,184.0L860.6,179.9L861.1,178.3Z" fill="#f1c0be"/>
<path d="M803.0,184.7L804.1,184.6L805.1,182.7L805.5,180.3L806.4,177.6L808.8,178.4L809.7,174.5L810.3,173.0L812.6,172.1L814.3,168.6L814.8,165.0L814.7,161.5L815.3,158.8L816.1,163.6L816.9,168.5L819.6,168.0L822.2,167.6L824.9,167.1L825.4,169.9L825.9,172.6L827.1,171.3L828.7,169.2L830.6,167.2L833.1,167.5L834.7,165.5L837.2,166.1L838.7,167.5L839.2,168.8L838.7,171.0L836.4,169.9L834.2,168.9L833.4,173.4L831.4,176.0L828.8,180.6L825.7,179.4L824.3,184.9L822.6,189.0L822.6,191.7L820.6,192.8L818.5,194.0L815.8,195.5L812.2,196.6L809.3,193.4L806.4,192.0L804.9,190.1L803.4,187.6Z" fill="#f3d6d6"/>
<path d="M824.9,167.1L828.4,166.5L831.9,165.8L835.5,165.2L839.0,164.5L842.5,163.8L846.0,163.0L849.5,162.3L853.0,161.5L854.2,165.9L855.4,170.2L856.6,174.6L859.1,174.1L861.6,173.6L861.6,175.2L861.1,178.3L858.1,179.9L856.2,178.6L854.7,177.3L852.8,176.1L851.5,173.6L851.8,171.3L850.9,168.8L851.5,165.9L852.1,163.6L851.4,163.7L850.7,166.1L849.1,168.1L849.8,170.1L849.6,172.4L850.2,175.5L851.5,177.4L852.7,180.0L853.7,181.5L850.3,179.3L847.3,178.3L845.2,178.2L844.1,176.8L845.5,173.2L843.4,171.5L841.1,169.7L839.2,168.8L838.7,167.5L837.2,166.1L834.7,165.5L833.1,167.5L830.6,167.2L828.7,169.2L827.1,171.3L825.9,172.6L825.4,169.9Z" fill="#ef9f9c"/>
<path d="M855.6,160.1L854.5,159.9L853.4,160.3L853.0,161.5L854.2,165.9L855.4,170.2L856.6,174.6L859.1,174.1L861.6,173.6L860.5,170.0L858.9,168.7L857.0,165.8L855.3,163.4L854.9,161.5Z" fill="#ef9f9c"/>
<path d="M812.9,144.6L815.8,142.3L818.0,140.6L818.5,143.4L822.1,142.8L825.8,142.1L829.4,141.4L833.0,140.7L836.6,140.0L840.1,139.2L843.7,138.5L847.3,137.7L850.9,136.9L854.1,140.6L857.3,142.5L855.0,147.1L855.2,150.8L856.8,152.6L859.7,154.7L857.8,158.5L855.6,160.1L854.5,159.9L853.4,160.3L853.0,161.5L849.5,162.3L846.0,163.0L842.5,163.8L839.0,164.5L835.5,165.2L831.9,165.8L828.4,166.5L824.9,167.1L822.2,167.6L819.6,168.0L816.9,168.5L816.1,163.6L815.3,158.8L814.5,154.0L813.7,149.3Z" fill="#f1c0be"/>
<path d="M855.6,160.1L857.8,158.5L859.7,154.7L856.8,152.6L855.2,150.8L855.0,147.1L857.3,142.5L860.7,143.7L864.0,144.8L863.9,148.2L862.7,149.2L862.4,150.5L864.6,152.0L865.0,156.4L863.2,161.8L861.5,166.4L858.8,163.2L856.2,161.5Z" fill="#ec7874"/>
<path d="M818.0,140.6L820.1,138.1L822.2,135.7L823.2,133.3L822.1,131.9L821.4,129.3L823.3,128.3L825.1,127.3L828.5,127.2L831.8,127.0L834.7,126.3L837.5,125.5L839.4,123.8L841.3,122.0L840.5,118.3L839.0,116.4L840.6,114.2L842.1,111.9L843.4,109.4L844.7,106.9L846.4,105.7L848.2,104.5L851.4,103.7L854.7,102.8L858.0,102.0L858.7,104.6L859.5,107.2L859.8,109.9L860.1,112.6L861.0,116.3L862.0,116.6L863.1,121.0L864.3,125.4L864.3,129.3L864.4,133.1L865.2,137.1L865.9,141.0L866.6,141.9L865.0,143.5L865.8,144.5L865.2,145.7L865.3,146.7L865.8,145.8L867.6,145.1L869.4,144.4L871.4,143.6L873.3,142.7L875.4,140.3L878.9,140.3L876.5,142.4L874.2,144.5L871.8,146.1L869.4,147.6L867.1,148.5L864.7,149.3L863.9,148.2L864.0,144.8L860.7,143.7L857.3,142.5L854.1,140.6L850.9,136.9L847.3,137.7L843.7,138.5L840.1,139.2L836.6,140.0L833.0,140.7L829.4,141.4L825.8,142.1L822.1,142.8L818.5,143.4Z" fill="#ef9f9c"/>
<path d="M864.4,133.1L867.5,132.4L870.6,131.7L873.6,131.0L876.7,130.3L877.9,134.6L878.2,137.7L875.1,138.9L872.9,139.7L870.8,140.4L868.2,142.5L865.8,144.5L865.0,143.5L866.6,141.9L865.9,141.0L865.2,137.1Z" fill="#ef9f9c"/>
<path d="M876.7,130.3L879.8,129.4L880.4,130.6L881.9,132.4L883.1,134.3L882.6,134.8L881.5,133.1L880.5,132.2L880.6,133.9L880.7,136.4L878.2,137.7L877.9,134.6Z" fill="#ec7874"/>
<path d="M870.1,124.1L867.2,124.8L864.3,125.4L864.3,129.3L864.4,133.1L867.5,132.4L870.6,131.7L873.6,131.0L876.7,130.3L879.8,129.4L880.4,130.6L881.9,132.4L883.1,134.3L884.0,132.4L885.2,131.3L887.4,131.1L888.7,130.0L886.1,129.0L883.8,126.5L881.9,124.6L882.2,122.1L881.4,119.5L880.1,119.9L878.7,121.9L875.9,122.7L873.0,123.4Z" fill="#ef9f9c"/>
<path d="M858.0,102.0L861.2,101.2L864.3,100.3L867.5,99.5L870.7,98.6L871.5,103.0L871.0,105.3L869.1,108.1L869.4,110.8L868.6,114.3L869.0,118.1L869.4,121.3L869.1,123.1L870.1,124.1L867.2,124.8L864.3,125.4L863.1,121.0L862.0,116.6L861.0,116.3L860.1,112.6L859.8,109.9L859.5,107.2L858.7,104.6Z" fill="#ef9f9c"/>
<path d="M870.7,98.6L870.8,96.3L872.8,94.7L874.2,99.6L875.7,104.5L877.3,109.4L878.8,114.3L881.7,117.2L881.4,119.5L880.1,119.9L878.7,121.9L875.9,122.7L873.0,123.4L870.1,124.1L869.1,123.1L869.4,121.3L869.0,118.1L868.6,114.3L869.4,110.8L869.1,108.1L871.0,105.3L871.5,103.0Z" fill="#ef9f9c"/>
<path d="M872.8,94.7L874.4,93.3L876.0,88.9L876.7,87.0L875.6,84.0L876.5,81.3L876.1,78.3L877.6,73.6L879.1,69.0L880.7,70.3L882.0,71.0L883.7,69.5L885.5,68.1L887.6,69.1L889.7,70.0L890.9,74.0L892.1,78.0L893.3,82.0L893.9,84.0L896.7,84.3L897.5,87.4L899.0,88.6L901.2,89.6L902.3,91.2L899.6,93.4L896.9,95.6L894.1,97.8L891.8,99.0L889.5,100.1L888.9,103.5L887.2,106.4L885.5,107.9L883.8,109.3L881.4,114.1L881.7,117.2L878.8,114.3L877.3,109.4L875.7,104.5L874.2,99.6Z" fill="#ef9f9c"/>
</g>
<rect x="14.4" y="348.5" width="447" height="323" fill="#fff" stroke="#cbcbcb" stroke-width="1.3"/>
<g class="st">
<path d="M63.7,383.0L66.7,383.9L69.6,384.8L72.6,385.7L75.6,386.5L78.6,387.3L81.6,388.1L84.8,389.0L88.0,389.9L91.2,390.7L94.5,391.5L97.7,392.3L100.9,393.1L99.9,397.5L98.9,401.9L97.9,406.3L96.9,410.7L95.8,415.2L94.8,419.6L94.6,424.3L91.8,423.6L88.9,422.9L86.1,422.2L83.3,421.5L80.4,420.8L78.1,420.9L76.0,420.5L73.7,421.0L71.3,421.5L68.3,420.5L66.4,420.6L64.5,420.8L62.5,419.0L59.6,418.6L56.5,419.1L53.7,417.2L54.0,415.0L54.0,412.5L52.2,411.1L50.5,409.5L48.7,408.8L46.9,408.1L47.9,404.8L48.5,401.6L48.2,399.3L48.3,394.8L48.3,392.0L48.2,389.2L49.1,385.3L50.8,386.9L52.6,388.4L54.1,389.2L55.7,390.0L58.6,390.9L60.4,392.0L60.8,394.3L60.5,397.5L59.7,400.6L60.4,401.7L61.8,400.7L62.6,398.2L63.8,395.2L64.0,391.9L63.9,388.6L64.5,385.5Z" fill="#ef9f9c"/>
<path d="M46.9,408.1L48.7,408.8L50.5,409.5L52.2,411.1L54.0,412.5L54.0,415.0L53.7,417.2L56.5,419.1L59.6,418.6L62.5,419.0L64.5,420.8L66.4,420.6L68.3,420.5L71.3,421.5L73.7,421.0L76.0,420.5L78.1,420.9L80.4,420.8L83.3,421.5L86.1,422.2L88.9,422.9L91.8,423.6L94.6,424.3L95.3,426.6L96.0,430.0L96.1,432.3L93.7,435.0L92.2,436.8L90.6,437.6L88.8,440.4L89.5,442.2L90.0,443.4L88.6,446.6L87.5,451.4L86.4,456.2L85.3,460.9L84.2,465.7L80.6,464.8L77.0,464.0L73.3,463.1L69.7,462.2L66.1,461.2L62.5,460.3L59.1,459.4L55.7,458.4L52.4,457.5L49.0,456.5L45.6,455.5L42.2,454.5L38.9,453.5L35.5,452.4L32.2,451.4L32.0,446.8L32.5,442.0L35.1,437.7L37.0,436.1L38.1,433.6L39.1,431.1L40.3,428.1L41.5,425.1L43.2,421.2L44.1,418.7L45.0,416.1L46.4,412.1Z" fill="#ec7874"/>
<path d="M32.2,451.4L35.5,452.4L38.9,453.5L42.2,454.5L45.6,455.5L49.0,456.5L52.4,457.5L55.7,458.4L59.1,459.4L62.5,460.3L61.4,464.7L60.2,469.1L59.0,473.6L57.8,478.0L56.6,482.5L55.4,486.9L54.3,491.3L56.6,495.5L59.1,499.7L61.5,503.9L64.0,508.0L66.5,512.2L69.1,516.3L71.7,520.5L74.6,525.0L77.6,529.5L80.6,533.9L83.6,538.4L86.7,542.8L86.8,545.6L87.8,549.0L89.1,551.2L86.0,553.5L84.5,557.6L82.7,559.4L81.9,563.0L83.0,565.9L81.0,566.4L76.9,565.9L72.7,565.5L68.6,565.0L64.5,564.5L60.4,563.9L60.1,560.4L60.0,557.1L57.5,552.7L55.1,549.9L52.8,548.8L52.6,546.0L50.2,545.2L47.3,543.1L45.6,541.2L43.9,539.4L40.9,538.4L37.8,537.3L37.4,533.8L38.3,529.7L37.2,527.0L34.8,522.6L33.3,518.8L31.8,515.1L32.3,511.9L34.1,510.2L33.0,508.1L30.6,504.7L30.8,501.4L31.5,498.5L32.3,499.1L32.2,502.1L33.5,502.4L33.7,498.4L33.4,495.3L32.0,495.1L30.9,497.5L28.5,495.1L28.9,490.8L27.5,487.3L26.1,483.8L26.7,480.6L27.3,477.4L27.1,474.2L26.9,471.1L25.7,466.9L29.1,462.8L30.2,460.3L31.2,457.8L31.4,454.0Z" fill="#ef9f9c"/>
<path d="M62.5,460.3L66.1,461.2L69.7,462.2L73.3,463.1L77.0,464.0L80.6,464.8L84.2,465.7L87.9,466.6L91.5,467.4L95.2,468.2L98.9,469.0L102.5,469.7L106.2,470.5L105.3,475.2L104.3,480.0L103.3,484.8L102.4,489.5L101.4,494.3L100.5,499.1L99.5,503.8L98.5,508.6L97.6,513.4L96.6,518.1L95.7,522.9L94.8,527.1L94.0,531.3L91.1,531.2L88.2,531.2L88.0,533.9L87.9,536.5L87.3,539.7L86.7,542.8L83.6,538.4L80.6,533.9L77.6,529.5L74.6,525.0L71.7,520.5L69.1,516.3L66.5,512.2L64.0,508.0L61.5,503.9L59.1,499.7L56.6,495.5L54.3,491.3L55.4,486.9L56.6,482.5L57.8,478.0L59.0,473.6L60.2,469.1L61.4,464.7Z" fill="#ef9f9c"/>
<path d="M100.9,393.1L104.2,393.8L107.4,394.5L106.6,398.0L105.9,401.4L105.1,404.9L105.7,408.0L106.2,411.1L108.1,413.9L110.0,416.8L112.0,421.0L113.2,424.0L111.7,428.0L110.7,431.1L111.6,433.4L114.5,431.8L115.1,434.1L116.7,439.3L116.3,441.4L118.5,443.5L119.6,447.3L121.7,446.7L123.9,446.1L126.4,446.5L128.9,447.0L130.6,445.3L132.7,448.5L131.8,453.7L130.9,458.9L130.1,464.1L129.2,469.3L128.4,474.5L124.7,473.9L121.0,473.3L117.3,472.6L113.6,471.9L109.9,471.2L106.2,470.5L102.5,469.7L98.9,469.0L95.2,468.2L91.5,467.4L87.9,466.6L84.2,465.7L85.3,460.9L86.4,456.2L87.5,451.4L88.6,446.6L90.0,443.4L89.5,442.2L88.8,440.4L90.6,437.6L92.2,436.8L93.7,435.0L96.1,432.3L96.0,430.0L95.3,426.6L94.6,424.3L94.8,419.6L95.8,415.2L96.9,410.7L97.9,406.3L98.9,401.9L99.9,397.5Z" fill="#ef9f9c"/>
<path d="M107.4,394.5L110.2,395.2L113.1,395.8L116.0,396.4L118.9,397.0L121.7,397.6L124.6,398.2L127.5,398.7L130.3,399.2L133.2,399.8L136.0,400.3L138.9,400.8L141.7,401.2L144.6,401.7L147.4,402.2L150.3,402.6L153.1,403.0L156.0,403.4L158.9,403.8L161.7,404.2L164.6,404.6L167.4,404.9L170.7,405.3L174.0,405.7L177.3,406.1L180.6,406.4L183.9,406.7L187.2,407.0L186.8,411.6L186.4,416.2L186.0,420.8L185.6,425.5L185.2,430.1L184.8,434.7L184.4,439.3L183.9,444.3L183.4,449.3L179.9,449.0L176.4,448.6L172.9,448.3L169.3,447.9L165.8,447.5L162.3,447.1L158.8,446.6L155.3,446.2L152.2,445.7L149.1,445.3L146.0,444.9L142.9,444.4L139.8,443.9L136.7,443.4L133.6,442.9L133.1,445.7L132.7,448.5L130.6,445.3L128.9,447.0L126.4,446.5L123.9,446.1L121.7,446.7L119.6,447.3L118.5,443.5L116.3,441.4L116.7,439.3L115.1,434.1L114.5,431.8L111.6,433.4L110.7,431.1L111.7,428.0L113.2,424.0L112.0,421.0L110.0,416.8L108.1,413.9L106.2,411.1L105.7,408.0L105.1,404.9L105.9,401.4L106.6,398.0Z" fill="#ef9f9c"/>
<path d="M132.7,448.5L133.1,445.7L133.6,442.9L136.7,443.4L139.8,443.9L142.9,444.4L146.0,444.9L149.1,445.3L152.2,445.7L155.3,446.2L158.8,446.6L162.3,447.1L165.8,447.5L169.3,447.9L172.9,448.3L176.4,448.6L179.9,449.0L183.4,449.3L183.1,453.5L182.7,457.8L182.3,462.0L182.0,466.3L181.6,470.6L181.2,474.8L180.9,479.1L180.5,483.3L180.1,487.6L179.7,491.8L176.0,491.5L172.3,491.1L168.5,490.7L164.8,490.3L161.1,489.9L157.9,489.5L154.6,489.1L151.4,488.7L148.2,488.3L145.0,487.9L141.7,487.4L138.7,487.0L135.7,486.5L132.7,486.0L129.6,485.6L126.6,485.1L127.2,481.6L127.8,478.0L128.4,474.5L129.2,469.3L130.1,464.1L130.9,458.9L131.8,453.7Z" fill="#ef9f9c"/>
<path d="M106.2,470.5L109.9,471.2L113.6,471.9L117.3,472.6L121.0,473.3L124.7,473.9L128.4,474.5L127.8,478.0L127.2,481.6L126.6,485.1L129.6,485.6L132.7,486.0L135.7,486.5L138.7,487.0L141.7,487.4L141.1,492.1L140.4,496.8L139.7,501.5L139.0,506.2L138.4,510.9L137.7,515.6L137.0,520.3L136.3,525.0L135.6,529.7L132.0,529.2L128.3,528.6L124.7,528.1L121.1,527.5L117.4,526.9L113.8,526.2L110.2,525.6L106.5,525.0L102.9,524.3L99.3,523.6L95.7,522.9L96.6,518.1L97.6,513.4L98.5,508.6L99.5,503.8L100.5,499.1L101.4,494.3L102.4,489.5L103.3,484.8L104.3,480.0L105.3,475.2Z" fill="#ec7874"/>
<path d="M141.7,487.4L145.0,487.9L148.2,488.3L151.4,488.7L154.6,489.1L157.9,489.5L161.1,489.9L164.8,490.3L168.5,490.7L172.3,491.1L176.0,491.5L179.7,491.8L182.8,492.1L185.8,492.4L188.9,492.6L191.9,492.8L195.0,493.0L194.8,496.6L194.5,500.1L194.3,503.7L194.0,508.3L193.7,512.8L193.4,517.4L193.1,522.0L192.8,526.5L192.5,531.1L192.2,535.7L188.3,535.4L184.4,535.1L181.0,534.8L177.5,534.5L174.0,534.2L170.6,533.9L167.1,533.5L163.7,533.2L160.2,532.8L156.7,532.4L153.2,532.0L149.7,531.6L146.2,531.1L142.6,530.7L139.1,530.2L135.6,529.7L136.3,525.0L137.0,520.3L137.7,515.6L138.4,510.9L139.0,506.2L139.7,501.5L140.4,496.8L141.1,492.1Z" fill="#ef9f9c"/>
<path d="M95.7,522.9L99.3,523.6L102.9,524.3L106.5,525.0L110.2,525.6L113.8,526.2L117.4,526.9L121.1,527.5L124.7,528.1L128.3,528.6L132.0,529.2L135.6,529.7L134.9,534.7L134.2,539.7L133.5,544.7L132.8,549.6L132.0,554.6L131.3,559.6L130.6,564.5L129.9,569.5L129.1,574.4L128.4,579.4L127.7,584.3L127.0,589.2L123.5,588.7L120.0,588.2L116.5,587.7L113.0,587.1L109.5,586.6L105.7,584.4L101.9,582.2L98.2,580.0L94.4,577.7L90.7,575.5L87.1,573.2L83.4,570.9L79.7,568.6L81.0,566.4L83.0,565.9L81.9,563.0L82.7,559.4L84.5,557.6L86.0,553.5L89.1,551.2L87.8,549.0L86.8,545.6L86.7,542.8L87.3,539.7L87.9,536.5L88.0,533.9L88.2,531.2L91.1,531.2L94.0,531.3L94.8,527.1Z" fill="#ef9f9c"/>
<path d="M135.6,529.7L139.1,530.2L142.6,530.7L146.2,531.1L149.7,531.6L153.2,532.0L156.7,532.4L160.2,532.8L163.7,533.2L167.1,533.5L170.6,533.9L174.0,534.2L177.5,534.5L181.0,534.8L184.4,535.1L184.2,537.7L184.0,540.4L183.6,545.2L183.2,549.9L182.8,554.7L182.4,559.5L181.9,564.2L181.5,569.0L181.1,573.7L180.7,578.5L180.2,583.2L179.8,588.0L175.9,587.7L172.1,587.3L168.2,587.0L164.4,586.6L160.5,586.2L156.7,585.8L152.8,585.4L149.0,585.0L149.5,587.4L145.8,586.9L142.2,586.5L138.6,586.0L134.9,585.6L134.3,590.3L130.6,589.8L127.0,589.2L127.7,584.3L128.4,579.4L129.1,574.4L129.9,569.5L130.6,564.5L131.3,559.6L132.0,554.6L132.8,549.6L133.5,544.7L134.2,539.7L134.9,534.7Z" fill="#ef9f9c"/>
<path d="M187.2,407.0L190.1,407.3L193.1,407.5L196.0,407.8L198.9,408.0L201.9,408.2L204.8,408.4L207.7,408.5L210.4,408.7L213.1,408.8L215.8,408.9L218.5,409.0L221.2,409.1L224.2,409.2L227.2,409.3L230.1,409.4L233.1,409.4L233.4,412.1L233.6,414.7L233.9,417.6L234.2,420.5L235.5,425.3L235.6,428.5L235.8,431.7L236.1,434.9L237.1,438.1L237.4,441.9L233.9,441.9L230.4,441.8L226.9,441.7L223.5,441.6L220.0,441.5L216.5,441.4L213.0,441.3L209.8,441.1L206.6,440.9L203.5,440.8L200.3,440.6L197.1,440.3L193.9,440.1L190.7,439.9L187.6,439.6L184.4,439.3L184.8,434.7L185.2,430.1L185.6,425.5L186.0,420.8L186.4,416.2L186.8,411.6Z" fill="#f1c0be"/>
<path d="M184.4,439.3L187.6,439.6L190.7,439.9L193.9,440.1L197.1,440.3L200.3,440.6L203.5,440.8L206.6,440.9L209.8,441.1L213.0,441.3L216.5,441.4L220.0,441.5L223.5,441.6L226.9,441.7L230.4,441.8L233.9,441.9L237.4,441.9L237.1,443.4L235.3,445.5L236.3,447.6L238.1,448.7L238.1,453.5L238.0,458.3L238.0,463.1L238.0,467.9L236.9,467.9L237.2,472.2L237.9,475.4L237.5,477.5L237.9,478.7L236.1,477.5L234.2,475.9L230.9,474.8L228.6,475.2L226.4,475.5L224.6,474.3L222.7,473.0L219.6,472.9L216.6,472.8L213.5,472.7L210.4,472.5L207.3,472.4L204.2,472.2L201.0,472.0L197.7,471.8L194.5,471.6L191.3,471.3L188.1,471.1L184.8,470.8L181.6,470.6L182.0,466.3L182.3,462.0L182.7,457.8L183.1,453.5L183.4,449.3L183.9,444.3Z" fill="#f1c0be"/>
<path d="M181.6,470.6L184.8,470.8L188.1,471.1L191.3,471.3L194.5,471.6L197.7,471.8L201.0,472.0L204.2,472.2L207.3,472.4L210.4,472.5L213.5,472.7L216.6,472.8L219.6,472.9L222.7,473.0L224.6,474.3L226.4,475.5L228.6,475.2L230.9,474.8L234.2,475.9L236.1,477.5L237.9,478.7L238.6,481.8L240.5,486.1L241.2,488.8L241.8,491.4L242.4,494.7L242.8,497.9L243.0,499.1L244.7,502.1L246.6,505.3L243.1,505.3L239.5,505.3L236.0,505.3L232.4,505.3L228.9,505.2L225.4,505.1L221.8,505.0L218.4,504.9L214.9,504.8L211.5,504.7L208.1,504.5L204.6,504.3L201.2,504.1L197.7,503.9L194.3,503.7L194.5,500.1L194.8,496.6L195.0,493.0L191.9,492.8L188.9,492.6L185.8,492.4L182.8,492.1L179.7,491.8L180.1,487.6L180.5,483.3L180.9,479.1L181.2,474.8Z" fill="#f1c0be"/>
<path d="M194.3,503.7L197.7,503.9L201.2,504.1L204.6,504.3L208.1,504.5L211.5,504.7L214.9,504.8L218.4,504.9L221.8,505.0L225.4,505.1L228.9,505.2L232.4,505.3L236.0,505.3L239.5,505.3L243.1,505.3L246.6,505.3L249.8,508.0L248.3,510.1L249.9,512.3L252.2,514.8L252.2,519.3L252.3,523.8L252.3,528.3L252.4,532.8L252.4,537.3L248.5,537.4L244.6,537.4L240.7,537.4L236.7,537.4L232.8,537.3L228.9,537.2L225.0,537.2L221.3,537.1L217.7,536.9L214.1,536.8L210.4,536.7L206.8,536.5L203.1,536.3L199.5,536.1L195.9,535.9L192.2,535.7L192.5,531.1L192.8,526.5L193.1,522.0L193.4,517.4L193.7,512.8L194.0,508.3Z" fill="#f3d6d6"/>
<path d="M184.4,535.1L188.3,535.4L192.2,535.7L195.9,535.9L199.5,536.1L203.1,536.3L206.8,536.5L210.4,536.7L214.1,536.8L217.7,536.9L221.3,537.1L225.0,537.2L228.9,537.2L232.8,537.3L236.7,537.4L240.7,537.4L244.6,537.4L248.5,537.4L252.4,537.3L252.4,540.0L252.5,542.7L253.1,546.6L253.6,550.5L254.2,554.5L254.2,559.1L254.2,563.8L254.1,568.4L254.1,573.1L250.5,572.5L247.1,570.6L245.0,570.7L242.9,570.8L240.3,571.3L237.8,571.7L234.0,570.7L231.4,572.1L228.9,570.8L226.8,570.6L224.7,570.3L223.4,567.8L221.3,567.6L219.2,567.3L216.7,566.9L214.2,566.4L212.1,565.4L210.0,564.3L207.6,562.5L207.8,557.4L208.1,552.2L208.3,547.1L208.5,541.9L205.0,541.7L201.5,541.6L198.0,541.4L194.5,541.1L191.0,540.9L187.5,540.7L184.0,540.4L184.2,537.7Z" fill="#c8c8c8"/>
<path d="M184.0,540.4L187.5,540.7L191.0,540.9L194.5,541.1L198.0,541.4L201.5,541.6L205.0,541.7L208.5,541.9L208.3,547.1L208.1,552.2L207.8,557.4L207.6,562.5L210.0,564.3L212.1,565.4L214.2,566.4L216.7,566.9L219.2,567.3L221.3,567.6L223.4,567.8L224.7,570.3L226.8,570.6L228.9,570.8L231.4,572.1L234.0,570.7L237.8,571.7L240.3,571.3L242.9,570.8L245.0,570.7L247.1,570.6L250.5,572.5L254.1,573.1L257.9,574.0L257.9,576.8L258.0,579.6L258.1,583.2L258.2,586.8L258.2,590.4L260.4,595.1L262.7,599.2L262.4,601.9L261.4,605.1L261.5,607.7L261.7,610.3L260.6,613.7L258.1,615.2L254.3,615.9L252.7,614.4L250.0,616.0L250.5,618.8L247.3,622.5L244.9,624.2L242.5,625.8L240.0,625.9L237.5,626.0L236.0,625.8L234.9,627.4L231.1,631.7L227.9,636.1L226.8,638.8L225.7,641.4L226.0,644.4L226.3,647.4L227.2,651.2L228.2,655.1L225.7,654.6L222.6,653.2L219.6,651.9L215.9,650.2L212.2,648.5L210.7,645.3L209.2,642.2L209.0,639.6L208.9,637.0L206.2,634.2L204.1,631.5L201.9,628.8L200.5,625.3L199.1,621.9L196.6,617.0L193.6,614.2L191.5,612.0L188.2,611.4L184.8,610.7L181.3,612.1L179.5,616.4L177.0,619.6L175.2,619.2L172.1,617.4L169.1,615.6L166.1,612.6L165.0,611.5L163.7,606.6L162.6,603.6L161.6,600.6L159.2,598.1L156.8,595.6L154.3,593.4L151.9,591.1L149.5,587.4L149.0,585.0L152.8,585.4L156.7,585.8L160.5,586.2L164.4,586.6L168.2,587.0L172.1,587.3L175.9,587.7L179.8,588.0L180.2,583.2L180.7,578.5L181.1,573.7L181.5,569.0L181.9,564.2L182.4,559.5L182.8,554.7L183.2,549.9L183.6,545.2Z" fill="#f3d6d6"/>
<path d="M233.1,409.4L235.9,409.5L238.7,409.5L241.5,409.5L244.3,409.5L247.1,409.5L247.1,405.5L249.3,406.1L250.3,410.7L250.9,412.4L253.3,413.0L256.0,413.2L256.7,414.4L258.7,413.5L260.4,413.0L262.1,413.2L264.1,414.2L265.9,416.4L268.3,415.7L270.0,417.0L271.8,418.3L274.2,418.2L276.5,416.6L278.3,417.9L280.0,418.2L281.7,418.5L279.8,420.6L277.9,422.8L276.2,424.7L274.6,426.7L273.0,428.6L271.3,430.5L269.2,433.3L267.3,433.8L267.4,436.9L267.6,440.1L264.4,442.5L263.4,445.2L265.3,447.3L264.4,450.8L264.8,454.2L268.1,456.2L271.1,458.3L273.0,461.4L276.1,463.4L276.5,467.1L273.1,467.3L269.7,467.4L266.2,467.5L262.8,467.6L259.4,467.7L256.0,467.8L252.4,467.9L248.8,467.9L245.2,467.9L241.6,467.9L238.0,467.9L238.0,463.1L238.0,458.3L238.1,453.5L238.1,448.7L236.3,447.6L235.3,445.5L237.1,443.4L237.4,441.9L237.1,438.1L236.1,434.9L235.8,431.7L235.6,428.5L235.5,425.3L234.2,420.5L233.9,417.6L233.6,414.7L233.4,412.1Z" fill="#f1c0be"/>
<path d="M238.0,467.9L241.6,467.9L245.2,467.9L248.8,467.9L252.4,467.9L256.0,467.8L259.4,467.7L262.8,467.6L266.2,467.5L269.7,467.4L273.1,467.3L276.5,467.1L277.0,471.6L279.3,475.5L281.3,477.4L283.3,480.1L285.2,481.6L285.1,484.8L284.1,487.2L282.2,488.2L278.9,489.5L278.6,491.6L279.9,494.2L278.8,495.9L276.7,498.7L276.6,500.5L274.1,498.1L270.7,498.4L267.3,498.6L263.9,498.8L260.5,498.9L257.0,499.0L253.5,499.1L250.0,499.1L246.5,499.1L243.0,499.1L242.8,497.9L242.4,494.7L241.8,491.4L241.2,488.8L240.5,486.1L238.6,481.8L237.9,478.7L237.5,477.5L237.9,475.4L237.2,472.2L236.9,467.9Z" fill="#f3d6d6"/>
<path d="M243.0,499.1L246.5,499.1L250.0,499.1L253.5,499.1L257.0,499.0L260.5,498.9L263.9,498.8L267.3,498.6L270.7,498.4L274.1,498.1L276.6,500.5L276.2,504.6L277.5,507.7L281.2,511.3L282.9,514.4L284.2,516.0L287.0,516.3L287.3,518.7L286.2,522.3L288.4,525.3L290.9,526.8L293.5,529.8L293.7,532.5L295.5,535.1L296.9,535.7L296.5,538.2L295.4,539.9L294.3,541.0L293.6,543.2L292.8,546.5L290.1,546.6L287.5,546.8L288.2,544.1L289.0,541.4L285.2,541.6L281.4,541.8L277.7,541.9L273.9,542.1L270.3,542.2L266.8,542.4L263.2,542.5L259.6,542.5L256.1,542.6L252.5,542.7L252.4,540.0L252.4,537.3L252.4,532.8L252.3,528.3L252.3,523.8L252.2,519.3L252.2,514.8L249.9,512.3L248.3,510.1L249.8,508.0L246.6,505.3L244.7,502.1Z" fill="#c8c8c8"/>
<path d="M252.5,542.7L256.1,542.6L259.6,542.5L263.2,542.5L266.8,542.4L270.3,542.2L273.9,542.1L277.7,541.9L281.4,541.8L285.2,541.6L289.0,541.4L288.2,544.1L287.5,546.8L290.1,546.6L292.8,546.5L293.1,548.6L291.3,551.4L290.2,554.1L290.5,555.9L288.7,557.4L286.8,560.7L286.7,563.4L283.8,567.2L282.8,570.5L282.0,573.2L283.0,575.8L282.6,579.0L278.5,579.1L274.4,579.3L270.3,579.4L266.2,579.5L262.1,579.5L258.0,579.6L257.9,576.8L257.9,574.0L254.1,573.1L254.1,568.4L254.2,563.8L254.2,559.1L254.2,554.5L253.6,550.5L253.1,546.6Z" fill="#c8c8c8"/>
<path d="M258.0,579.6L262.1,579.5L266.2,579.5L270.3,579.4L274.4,579.3L278.5,579.1L282.6,579.0L283.4,582.1L285.3,585.7L283.8,589.5L281.4,593.9L280.2,597.1L279.7,600.3L283.9,600.1L288.0,599.9L292.2,599.6L296.4,599.4L295.6,602.6L297.5,605.7L298.4,607.7L296.1,610.4L299.5,612.0L298.0,615.0L302.5,618.7L299.9,617.4L297.3,616.1L295.3,616.4L293.5,618.7L290.5,618.4L288.2,619.5L284.5,618.7L281.4,616.1L277.6,613.4L275.4,614.6L272.7,615.0L270.1,615.4L266.1,614.1L263.4,613.9L260.6,613.7L261.7,610.3L261.5,607.7L261.4,605.1L262.4,601.9L262.7,599.2L260.4,595.1L258.2,590.4L258.2,586.8L258.1,583.2Z" fill="#f3d6d6"/>
<path d="M269.2,433.3L272.1,432.6L274.8,431.2L277.6,430.7L277.1,434.0L278.1,433.4L280.4,434.1L282.7,436.4L285.1,437.0L287.6,437.5L290.0,438.0L292.2,438.6L294.3,439.2L297.3,441.1L299.6,442.5L299.5,445.7L301.5,448.2L299.3,451.6L299.2,454.3L300.8,452.6L303.4,448.6L305.6,446.2L303.9,450.7L302.9,455.6L302.4,458.3L301.9,461.1L301.5,464.3L301.0,467.6L301.6,470.7L302.1,473.4L302.5,476.1L299.5,476.4L296.5,476.6L293.5,476.8L290.5,476.9L287.4,477.1L284.4,477.3L281.3,477.4L279.3,475.5L277.0,471.6L276.5,467.1L276.1,463.4L273.0,461.4L271.1,458.3L268.1,456.2L264.8,454.2L264.4,450.8L265.3,447.3L263.4,445.2L264.4,442.5L267.6,440.1L267.4,436.9L267.3,433.8Z" fill="#f1c0be"/>
<path d="M281.3,477.4L284.4,477.3L287.4,477.1L290.5,476.9L293.5,476.8L296.5,476.6L299.5,476.4L302.5,476.1L303.1,478.7L304.5,482.3L305.3,484.3L305.8,489.3L306.2,494.3L306.6,499.4L307.1,504.4L307.5,509.4L306.8,512.2L308.0,516.6L306.7,519.7L305.4,523.0L304.5,526.3L305.2,529.5L302.0,530.8L301.9,534.4L298.2,533.3L296.9,535.7L295.5,535.1L293.7,532.5L293.5,529.8L290.9,526.8L288.4,525.3L286.2,522.3L287.3,518.7L287.0,516.3L284.2,516.0L282.9,514.4L281.2,511.3L277.5,507.7L276.2,504.6L276.6,500.5L276.7,498.7L278.8,495.9L279.9,494.2L278.6,491.6L278.9,489.5L282.2,488.2L284.1,487.2L285.1,484.8L285.2,481.6L283.3,480.1Z" fill="#f3d6d6"/>
<path d="M305.3,484.3L307.8,484.9L310.5,483.2L313.6,483.1L316.6,482.9L319.6,482.7L322.7,482.5L325.7,482.2L326.2,486.9L326.8,491.5L327.3,496.1L327.8,500.7L328.4,505.3L328.9,509.9L329.0,512.1L326.5,514.5L324.9,514.4L324.7,516.3L322.7,519.6L321.4,522.6L318.4,521.3L317.1,523.9L314.7,523.5L312.5,525.9L308.7,524.2L306.0,525.1L304.5,526.3L305.4,523.0L306.7,519.7L308.0,516.6L306.8,512.2L307.5,509.4L307.1,504.4L306.6,499.4L306.2,494.3L305.8,489.3Z" fill="#f3d6d6"/>
<path d="M325.7,482.2L329.1,481.7L332.5,481.2L335.8,480.6L339.4,481.5L341.8,482.5L344.4,482.0L347.0,481.5L349.3,481.2L350.9,479.6L352.6,477.9L354.9,476.3L357.2,474.7L358.0,479.4L358.8,484.1L359.6,488.9L359.0,491.6L359.1,495.1L358.6,498.7L356.9,502.2L354.6,503.1L354.0,504.6L353.1,508.5L350.7,507.7L349.8,510.4L349.4,512.8L348.4,514.7L347.3,514.8L344.9,512.2L343.7,512.0L341.5,513.7L337.9,513.6L334.2,512.5L333.1,510.5L331.4,509.6L328.9,509.9L328.4,505.3L327.8,500.7L327.3,496.1L326.8,491.5L326.2,486.9Z" fill="#f3d6d6"/>
<path d="M335.8,480.6L337.2,477.0L337.6,474.2L339.3,472.9L341.5,469.9L341.6,466.1L340.5,463.0L339.2,458.9L336.1,455.3L333.8,457.5L333.0,459.7L331.0,461.3L329.3,459.7L329.4,457.0L332.1,455.5L333.1,452.2L332.8,449.5L332.4,446.9L330.9,443.8L327.4,441.6L325.1,440.1L323.1,439.5L321.1,438.9L319.4,440.5L319.7,443.1L317.0,445.0L316.8,449.4L315.4,446.8L312.8,449.3L312.4,452.0L311.9,454.7L310.6,459.7L311.4,464.4L312.6,467.0L313.8,469.6L313.9,473.9L313.2,476.6L312.6,479.4L310.5,483.2L313.6,483.1L316.6,482.9L319.6,482.7L322.7,482.5L325.7,482.2L329.1,481.7L332.5,481.2Z" fill="#ef9f9c"/>
<path d="M301.5,448.2L303.3,443.8L304.8,441.0L307.3,441.2L308.2,439.5L310.6,438.2L313.0,437.3L315.3,436.3L317.1,436.5L318.9,436.8L321.2,437.6L323.9,436.2L324.2,433.4L323.6,431.0L321.5,431.4L318.3,431.5L318.0,428.6L316.3,429.3L314.6,430.0L312.9,430.2L311.2,430.5L309.2,431.8L307.2,433.2L304.4,432.8L301.6,432.7L299.2,429.7L297.4,429.5L295.7,429.3L294.0,430.9L294.2,428.5L295.4,426.3L298.0,423.4L295.2,424.0L293.6,425.3L292.0,426.6L290.3,427.9L288.7,429.3L286.6,430.2L284.6,431.2L282.5,432.6L280.4,434.1L282.7,436.4L285.1,437.0L287.6,437.5L290.0,438.0L292.2,438.6L294.3,439.2L297.3,441.1L299.6,442.5L299.5,445.7Z" fill="#ef9f9c"/>
<path d="M296.9,535.7L298.2,533.3L301.9,534.4L302.0,530.8L305.2,529.5L304.5,526.3L306.0,525.1L308.7,524.2L312.5,525.9L314.7,523.5L317.1,523.9L318.4,521.3L321.4,522.6L322.7,519.6L324.7,516.3L324.9,514.4L326.5,514.5L329.0,512.1L328.9,509.9L331.4,509.6L333.1,510.5L334.2,512.5L337.9,513.6L341.5,513.7L343.7,512.0L344.9,512.2L347.3,514.8L347.7,517.7L349.2,520.2L350.7,522.1L353.6,523.5L351.4,526.4L348.6,529.5L345.7,532.1L343.5,533.7L341.4,535.3L337.8,535.7L334.2,536.1L330.7,536.4L327.6,536.7L324.6,536.9L321.5,537.2L318.5,537.4L315.3,537.6L312.1,537.9L308.9,538.1L305.7,538.2L306.1,540.1L302.2,540.5L298.3,540.7L294.3,541.0L295.4,539.9L296.5,538.2Z" fill="#d1d7ee"/>
<path d="M294.3,541.0L298.3,540.7L302.2,540.5L306.1,540.1L305.7,538.2L308.9,538.1L312.1,537.9L315.3,537.6L318.5,537.4L321.5,537.2L324.6,536.9L327.6,536.7L330.7,536.4L334.2,536.1L337.8,535.7L341.4,535.3L344.6,534.9L347.8,534.5L351.0,534.1L354.3,533.6L357.5,533.2L356.2,536.5L355.3,538.6L352.5,539.2L351.0,540.5L348.6,541.4L347.3,543.5L344.3,546.0L342.4,547.2L340.4,548.4L338.2,550.3L338.4,553.0L334.8,553.5L331.3,553.9L327.7,554.4L324.1,554.7L320.5,555.0L317.0,555.3L313.4,555.6L309.8,555.9L306.2,556.2L302.7,556.5L299.2,556.7L295.7,557.0L292.2,557.2L288.7,557.4L290.5,555.9L290.2,554.1L291.3,551.4L293.1,548.6L292.8,546.5L293.6,543.2Z" fill="#c8c8c8"/>
<path d="M288.7,557.4L292.2,557.2L295.7,557.0L299.2,556.7L302.7,556.5L306.2,556.2L307.1,557.2L307.1,561.8L307.0,566.4L307.0,570.9L306.9,575.5L306.8,580.1L306.8,584.7L306.7,589.3L307.2,594.5L307.8,599.7L308.3,604.9L305.5,605.1L301.7,605.9L298.4,607.7L297.5,605.7L295.6,602.6L296.4,599.4L292.2,599.6L288.0,599.9L283.9,600.1L279.7,600.3L280.2,597.1L281.4,593.9L283.8,589.5L285.3,585.7L283.4,582.1L282.6,579.0L283.0,575.8L282.0,573.2L282.8,570.5L283.8,567.2L286.7,563.4L286.8,560.7Z" fill="#d1d7ee"/>
<path d="M306.2,556.2L309.8,555.9L313.4,555.6L317.0,555.3L320.5,555.0L324.1,554.7L327.7,554.4L328.9,558.8L330.2,563.1L331.4,567.5L332.7,571.9L333.9,576.3L336.0,580.5L336.1,585.3L336.0,589.6L337.0,592.6L337.8,595.7L334.1,596.2L330.4,596.7L326.7,597.2L323.0,597.6L319.3,598.1L315.6,598.5L317.2,601.5L317.0,604.4L315.4,604.8L313.5,604.4L313.1,601.8L311.2,601.7L310.8,604.4L308.3,604.9L307.8,599.7L307.2,594.5L306.7,589.3L306.8,584.7L306.8,580.1L306.9,575.5L307.0,570.9L307.0,566.4L307.1,561.8L307.1,557.2Z" fill="#d1d7ee"/>
<path d="M327.7,554.4L331.3,553.9L334.8,553.5L338.4,553.0L341.7,552.6L345.0,552.1L348.3,551.6L346.8,555.1L350.1,557.3L352.5,559.7L354.6,562.1L358.1,565.3L360.4,566.6L363.1,570.0L365.1,571.8L366.5,574.8L368.6,577.2L369.9,579.7L371.6,579.7L369.6,585.3L369.1,588.2L368.6,591.0L368.8,595.0L365.3,595.4L365.0,597.0L364.2,599.4L363.5,597.1L359.4,597.4L355.3,597.7L351.3,597.9L347.2,598.2L343.1,598.4L339.1,598.6L337.8,595.7L337.0,592.6L336.0,589.6L336.1,585.3L336.0,580.5L333.9,576.3L332.7,571.9L331.4,567.5L330.2,563.1L328.9,558.8Z" fill="#c8c8c8"/>
<path d="M317.0,604.4L317.2,601.5L315.6,598.5L319.3,598.1L323.0,597.6L326.7,597.2L330.4,596.7L334.1,596.2L337.8,595.7L339.1,598.6L343.1,598.4L347.2,598.2L351.3,597.9L355.3,597.7L359.4,597.4L363.5,597.1L364.2,599.4L365.0,597.0L365.3,595.4L368.8,595.0L369.7,598.9L371.0,601.8L372.2,604.7L374.1,607.6L376.1,610.6L378.3,614.0L380.4,617.3L381.6,620.2L382.8,623.1L384.8,626.5L386.7,629.9L388.6,634.8L389.1,639.1L389.6,643.5L388.2,646.5L387.7,650.3L385.1,651.1L382.4,651.8L381.2,649.1L380.0,646.4L376.0,644.5L374.1,641.6L372.7,639.2L371.2,636.8L368.3,634.9L364.9,630.5L366.3,627.0L365.8,625.1L362.5,623.6L363.0,620.3L362.5,616.4L359.6,612.5L355.7,609.6L351.8,605.7L347.9,604.0L345.0,604.7L342.1,607.1L339.9,608.1L337.8,609.1L336.2,608.1L332.4,605.7L330.0,604.7L327.6,603.7L325.2,603.8L322.8,603.8L319.9,604.1Z" fill="#f1c0be"/>
<path d="M348.3,551.6L351.3,550.1L354.3,548.6L357.9,548.3L361.4,547.9L365.0,547.6L365.2,548.6L366.1,547.9L367.6,550.7L370.8,550.3L373.9,549.8L377.0,549.4L380.5,552.0L384.0,554.6L387.5,557.2L384.4,561.3L383.3,565.8L381.3,568.1L379.3,570.4L377.0,572.4L374.7,574.4L371.6,579.7L369.9,579.7L368.6,577.2L366.5,574.8L365.1,571.8L363.1,570.0L360.4,566.6L358.1,565.3L354.6,562.1L352.5,559.7L350.1,557.3L346.8,555.1Z" fill="#f3d6d6"/>
<path d="M338.4,553.0L338.2,550.3L340.4,548.4L342.4,547.2L344.3,546.0L347.3,543.5L348.6,541.4L351.0,540.5L352.5,539.2L355.3,538.6L356.2,536.5L357.5,533.2L361.1,532.7L364.8,532.1L368.4,531.6L372.1,531.0L375.7,530.5L379.4,529.9L383.0,529.2L386.4,528.5L389.9,527.7L393.3,527.0L396.7,526.2L400.1,525.4L403.5,524.6L403.3,528.6L401.0,530.3L398.7,532.0L400.4,531.5L402.7,531.2L405.0,530.9L406.7,533.7L405.0,537.8L403.0,538.4L401.0,538.9L401.6,540.6L403.3,542.9L401.6,544.1L399.6,545.2L397.6,546.4L395.9,548.4L394.2,550.4L392.4,555.0L390.0,556.1L387.5,557.2L384.0,554.6L380.5,552.0L377.0,549.4L373.9,549.8L370.8,550.3L367.6,550.7L366.1,547.9L365.2,548.6L365.0,547.6L361.4,547.9L357.9,548.3L354.3,548.6L351.3,550.1L348.3,551.6L345.0,552.1L341.7,552.6Z" fill="#f3d6d6"/>
<path d="M353.6,523.5L351.4,526.4L348.6,529.5L345.7,532.1L343.5,533.7L341.4,535.3L344.6,534.9L347.8,534.5L351.0,534.1L354.3,533.6L357.5,533.2L361.1,532.7L364.8,532.1L368.4,531.6L372.1,531.0L375.7,530.5L379.4,529.9L383.0,529.2L386.4,528.5L389.9,527.7L393.3,527.0L396.7,526.2L400.1,525.4L403.5,524.6L402.6,522.0L399.6,521.5L397.5,520.9L395.4,519.1L397.9,519.2L399.1,517.8L395.9,515.5L393.9,512.0L397.1,513.6L398.0,511.6L394.6,509.4L391.6,508.4L389.5,508.3L388.4,506.9L389.8,503.3L387.7,501.6L385.4,499.8L383.5,498.9L383.0,501.1L380.7,500.0L378.5,499.0L377.7,503.5L375.7,506.1L373.1,510.7L370.0,509.5L368.6,515.0L366.9,519.1L366.9,521.8L364.9,522.9L362.8,524.1L360.1,525.6L356.5,526.7Z" fill="#f1c0be"/>
<path d="M402.4,510.0L402.2,512.7L401.7,515.6L401.4,518.4L401.9,519.4L402.9,517.5L403.8,514.1L404.9,510.0L405.4,508.4Z" fill="#f1c0be"/>
<path d="M347.3,514.8L348.4,514.7L349.4,512.8L349.8,510.4L350.7,507.7L353.1,508.5L354.0,504.6L354.6,503.1L356.9,502.2L358.6,498.7L359.1,495.1L359.0,491.6L359.6,488.9L360.4,493.7L361.2,498.6L363.9,498.1L366.5,497.7L369.2,497.2L369.7,500.0L370.2,502.7L371.4,501.4L373.0,499.3L374.9,497.3L377.4,497.6L379.0,495.6L381.5,496.2L383.0,497.6L383.5,498.9L383.0,501.1L380.7,500.0L378.5,499.0L377.7,503.5L375.7,506.1L373.1,510.7L370.0,509.5L368.6,515.0L366.9,519.1L366.9,521.8L364.9,522.9L362.8,524.1L360.1,525.6L356.5,526.7L353.6,523.5L350.7,522.1L349.2,520.2L347.7,517.7Z" fill="#f3d6d6"/>
<path d="M369.2,497.2L372.7,496.6L376.2,495.9L379.8,495.3L383.3,494.6L386.8,493.9L390.3,493.1L393.8,492.4L397.3,491.6L398.5,496.0L399.7,500.3L400.9,504.7L403.4,504.2L405.9,503.7L405.9,505.3L405.4,508.4L402.4,510.0L400.5,508.7L399.0,507.4L397.1,506.2L395.8,503.7L396.1,501.4L395.2,498.9L395.8,496.0L396.4,493.7L395.7,493.8L395.0,496.2L393.4,498.2L394.1,500.2L393.9,502.5L394.5,505.6L395.8,507.5L397.0,510.1L398.0,511.6L394.6,509.4L391.6,508.4L389.5,508.3L388.4,506.9L389.8,503.3L387.7,501.6L385.4,499.8L383.5,498.9L383.0,497.6L381.5,496.2L379.0,495.6L377.4,497.6L374.9,497.3L373.0,499.3L371.4,501.4L370.2,502.7L369.7,500.0Z" fill="#ef9f9c"/>
<path d="M399.9,490.2L398.8,490.0L397.7,490.4L397.3,491.6L398.5,496.0L399.7,500.3L400.9,504.7L403.4,504.2L405.9,503.7L404.8,500.1L403.2,498.8L401.3,495.9L399.6,493.5L399.2,491.6Z" fill="#ef9f9c"/>
<path d="M357.2,474.7L360.1,472.4L362.3,470.7L362.8,473.5L366.4,472.9L370.1,472.2L373.7,471.5L377.3,470.8L380.9,470.1L384.4,469.3L388.0,468.6L391.6,467.8L395.2,467.0L398.4,470.7L401.6,472.6L399.3,477.2L399.5,480.9L401.1,482.7L404.0,484.8L402.1,488.6L399.9,490.2L398.8,490.0L397.7,490.4L397.3,491.6L393.8,492.4L390.3,493.1L386.8,493.9L383.3,494.6L379.8,495.3L376.2,495.9L372.7,496.6L369.2,497.2L366.5,497.7L363.9,498.1L361.2,498.6L360.4,493.7L359.6,488.9L358.8,484.1L358.0,479.4Z" fill="#f1c0be"/>
<path d="M399.9,490.2L402.1,488.6L404.0,484.8L401.1,482.7L399.5,480.9L399.3,477.2L401.6,472.6L405.0,473.8L408.3,474.9L408.2,478.3L407.0,479.3L406.7,480.6L408.9,482.1L409.3,486.5L407.5,491.9L405.8,496.5L403.1,493.3L400.5,491.6Z" fill="#ec7874"/>
<path d="M362.3,470.7L364.4,468.2L366.5,465.8L367.5,463.4L366.4,462.0L365.7,459.4L367.6,458.4L369.4,457.4L372.8,457.3L376.1,457.1L379.0,456.4L381.8,455.6L383.7,453.9L385.6,452.1L384.8,448.4L383.3,446.5L384.9,444.3L386.4,442.0L387.7,439.5L389.0,437.0L390.7,435.8L392.5,434.6L395.7,433.8L399.0,432.9L402.3,432.1L403.0,434.7L403.8,437.3L404.1,440.0L404.4,442.7L405.3,446.4L406.3,446.7L407.4,451.1L408.6,455.5L408.6,459.4L408.7,463.2L409.5,467.2L410.2,471.1L410.9,472.0L409.3,473.6L410.1,474.6L409.5,475.8L409.6,476.8L410.1,475.9L411.9,475.2L413.7,474.5L415.7,473.7L417.6,472.8L419.7,470.4L423.2,470.4L420.8,472.5L418.5,474.6L416.1,476.2L413.7,477.7L411.4,478.6L409.0,479.4L408.2,478.3L408.3,474.9L405.0,473.8L401.6,472.6L398.4,470.7L395.2,467.0L391.6,467.8L388.0,468.6L384.4,469.3L380.9,470.1L377.3,470.8L373.7,471.5L370.1,472.2L366.4,472.9L362.8,473.5Z" fill="#f1c0be"/>
<path d="M408.7,463.2L411.8,462.5L414.9,461.8L417.9,461.1L421.0,460.4L422.2,464.7L422.5,467.8L419.4,469.0L417.2,469.8L415.1,470.5L412.5,472.6L410.1,474.6L409.3,473.6L410.9,472.0L410.2,471.1L409.5,467.2Z" fill="#ec7874"/>
<path d="M421.0,460.4L424.1,459.5L424.7,460.7L426.2,462.5L427.4,464.4L426.9,464.9L425.8,463.2L424.8,462.3L424.9,464.0L425.0,466.5L422.5,467.8L422.2,464.7Z" fill="#e84040"/>
<path d="M414.4,454.2L411.5,454.9L408.6,455.5L408.6,459.4L408.7,463.2L411.8,462.5L414.9,461.8L417.9,461.1L421.0,460.4L424.1,459.5L424.7,460.7L426.2,462.5L427.4,464.4L428.3,462.5L429.5,461.4L431.7,461.2L433.0,460.1L430.4,459.1L428.1,456.6L426.2,454.7L426.5,452.2L425.7,449.6L424.4,450.0L423.0,452.0L420.2,452.8L417.3,453.5Z" fill="#ec7874"/>
<path d="M402.3,432.1L405.5,431.3L408.6,430.4L411.8,429.6L415.0,428.7L415.8,433.1L415.3,435.4L413.4,438.2L413.7,440.9L412.9,444.4L413.3,448.2L413.7,451.4L413.4,453.2L414.4,454.2L411.5,454.9L408.6,455.5L407.4,451.1L406.3,446.7L405.3,446.4L404.4,442.7L404.1,440.0L403.8,437.3L403.0,434.7Z" fill="#ef9f9c"/>
<path d="M415.0,428.7L415.1,426.4L417.1,424.8L418.5,429.7L420.0,434.6L421.6,439.5L423.1,444.4L426.0,447.3L425.7,449.6L424.4,450.0L423.0,452.0L420.2,452.8L417.3,453.5L414.4,454.2L413.4,453.2L413.7,451.4L413.3,448.2L412.9,444.4L413.7,440.9L413.4,438.2L415.3,435.4L415.8,433.1Z" fill="#ef9f9c"/>
<path d="M417.1,424.8L418.7,423.4L420.3,419.0L421.0,417.1L419.9,414.1L420.8,411.4L420.4,408.4L421.9,403.7L423.4,399.1L425.0,400.4L426.3,401.1L428.0,399.6L429.8,398.2L431.9,399.2L434.0,400.1L435.2,404.1L436.4,408.1L437.6,412.1L438.2,414.1L441.0,414.4L441.8,417.5L443.3,418.7L445.5,419.7L446.6,421.3L443.9,423.5L441.2,425.7L438.4,427.9L436.1,429.1L433.8,430.2L433.2,433.6L431.5,436.5L429.8,438.0L428.1,439.4L425.7,444.2L426.0,447.3L423.1,444.4L421.6,439.5L420.0,434.6L418.5,429.7Z" fill="#ef9f9c"/>
</g>
<rect x="467.6" y="348.5" width="447" height="323" fill="#fff" stroke="#cbcbcb" stroke-width="1.3"/>
<g class="st">
<path d="M517.3,383.1L520.3,384.0L523.2,384.9L526.2,385.8L529.2,386.6L532.2,387.5L535.2,388.3L538.4,389.2L541.7,390.0L544.9,390.9L548.1,391.7L551.4,392.5L554.6,393.3L553.6,397.7L552.6,402.2L551.6,406.6L550.5,411.1L549.5,415.6L548.5,420.0L548.3,424.7L545.4,424.1L542.6,423.4L539.7,422.7L536.9,421.9L534.1,421.2L531.7,421.4L529.6,420.9L527.3,421.4L524.9,421.9L521.9,420.9L520.0,421.1L518.1,421.2L516.0,419.4L513.2,419.0L510.1,419.5L507.3,417.6L507.5,415.4L507.6,412.8L505.8,411.5L504.0,409.8L502.2,409.1L500.4,408.5L501.4,405.1L502.1,401.9L501.7,399.5L501.8,395.1L501.8,392.2L501.7,389.4L502.6,385.4L504.4,387.0L506.1,388.6L507.7,389.3L509.2,390.1L512.2,391.0L514.0,392.2L514.4,394.5L514.0,397.8L513.3,400.9L514.0,402.0L515.4,401.0L516.1,398.4L517.4,395.4L517.6,392.1L517.5,388.8L518.0,385.6Z" fill="#f1c0be"/>
<path d="M500.4,408.5L502.2,409.1L504.0,409.8L505.8,411.5L507.6,412.8L507.5,415.4L507.3,417.6L510.1,419.5L513.2,419.0L516.0,419.4L518.1,421.2L520.0,421.1L521.9,420.9L524.9,421.9L527.3,421.4L529.6,420.9L531.7,421.4L534.1,421.2L536.9,421.9L539.7,422.7L542.6,423.4L545.4,424.1L548.3,424.7L549.0,427.1L549.6,430.6L549.7,432.8L547.4,435.6L545.9,437.4L544.2,438.1L542.5,441.0L543.2,442.9L543.6,444.1L542.3,447.3L541.2,452.1L540.1,456.9L539.0,461.7L537.8,466.6L534.2,465.7L530.6,464.8L527.0,463.9L523.3,463.0L519.7,462.0L516.1,461.1L512.7,460.1L509.3,459.2L505.9,458.2L502.5,457.3L499.1,456.3L495.8,455.2L492.4,454.2L489.0,453.2L485.6,452.1L485.4,447.5L485.9,442.7L488.6,438.3L490.5,436.6L491.6,434.1L492.6,431.6L493.8,428.6L495.0,425.6L496.7,421.6L497.6,419.1L498.5,416.5L499.9,412.5Z" fill="#ef9f9c"/>
<path d="M485.6,452.1L489.0,453.2L492.4,454.2L495.8,455.2L499.1,456.3L502.5,457.3L505.9,458.2L509.3,459.2L512.7,460.1L516.1,461.1L514.9,465.5L513.7,470.0L512.6,474.5L511.4,479.0L510.2,483.5L509.0,487.9L507.8,492.4L510.2,496.6L512.6,500.8L515.1,505.1L517.6,509.3L520.1,513.4L522.7,517.6L525.3,521.8L528.2,526.3L531.2,530.9L534.2,535.4L537.3,539.9L540.4,544.4L540.5,547.1L541.5,550.6L542.7,552.8L539.7,555.2L538.1,559.2L536.3,561.0L535.5,564.7L536.7,567.7L534.6,568.1L530.5,567.7L526.3,567.2L522.2,566.7L518.1,566.2L513.9,565.7L513.6,562.1L513.5,558.8L511.1,554.3L508.7,551.5L506.4,550.4L506.2,547.6L503.8,546.8L500.8,544.6L499.1,542.8L497.4,540.9L494.4,539.9L491.3,538.7L490.9,535.3L491.9,531.1L490.7,528.4L488.2,523.9L486.7,520.2L485.3,516.4L485.8,513.2L487.6,511.4L486.5,509.3L484.1,505.9L484.2,502.6L484.9,499.6L485.8,500.2L485.7,503.2L487.0,503.6L487.2,499.5L486.9,496.4L485.5,496.2L484.4,498.7L481.9,496.2L482.4,491.9L481.0,488.3L479.6,484.8L480.2,481.6L480.8,478.4L480.5,475.2L480.3,472.0L479.2,467.8L482.5,463.6L483.6,461.1L484.7,458.6L484.9,454.7Z" fill="#ec7874"/>
<path d="M516.1,461.1L519.7,462.0L523.3,463.0L527.0,463.9L530.6,464.8L534.2,465.7L537.8,466.6L541.5,467.4L545.2,468.2L548.9,469.0L552.5,469.8L556.2,470.6L559.9,471.4L559.0,476.2L558.0,481.0L557.0,485.8L556.1,490.6L555.1,495.4L554.2,500.2L553.2,505.0L552.2,509.8L551.3,514.6L550.3,519.4L549.3,524.2L548.5,528.5L547.6,532.7L544.7,532.6L541.9,532.6L541.7,535.3L541.5,538.0L540.9,541.2L540.4,544.4L537.3,539.9L534.2,535.4L531.2,530.9L528.2,526.3L525.3,521.8L522.7,517.6L520.1,513.4L517.6,509.3L515.1,505.1L512.6,500.8L510.2,496.6L507.8,492.4L509.0,487.9L510.2,483.5L511.4,479.0L512.6,474.5L513.7,470.0L514.9,465.5Z" fill="#ef9f9c"/>
<path d="M554.6,393.3L557.9,394.0L561.1,394.7L560.3,398.2L559.6,401.7L558.8,405.2L559.4,408.3L559.9,411.5L561.8,414.3L563.7,417.2L565.7,421.5L566.9,424.4L565.4,428.5L564.4,431.6L565.4,434.0L568.2,432.4L568.9,434.7L570.4,439.9L570.0,442.0L572.2,444.1L573.4,447.9L575.5,447.4L577.6,446.8L580.1,447.2L582.6,447.7L584.4,446.0L586.4,449.2L585.6,454.4L584.7,459.7L583.9,464.9L583.0,470.2L582.1,475.4L578.4,474.8L574.7,474.2L571.0,473.5L567.3,472.8L563.6,472.1L559.9,471.4L556.2,470.6L552.5,469.8L548.9,469.0L545.2,468.2L541.5,467.4L537.8,466.6L539.0,461.7L540.1,456.9L541.2,452.1L542.3,447.3L543.6,444.1L543.2,442.9L542.5,441.0L544.2,438.1L545.9,437.4L547.4,435.6L549.7,432.8L549.6,430.6L549.0,427.1L548.3,424.7L548.5,420.0L549.5,415.6L550.5,411.1L551.6,406.6L552.6,402.2L553.6,397.7Z" fill="#f1c0be"/>
<path d="M561.1,394.7L564.0,395.4L566.8,396.0L569.7,396.6L572.6,397.2L575.5,397.8L578.4,398.4L581.3,399.0L584.1,399.5L587.0,400.0L589.8,400.5L592.7,401.0L595.5,401.5L598.4,402.0L601.2,402.4L604.1,402.9L607.0,403.3L609.8,403.7L612.7,404.1L615.6,404.5L618.5,404.9L621.3,405.2L624.6,405.6L627.9,406.0L631.2,406.4L634.6,406.7L637.9,407.0L641.2,407.3L640.8,412.0L640.4,416.6L640.0,421.3L639.5,425.9L639.1,430.6L638.7,435.3L638.3,439.9L637.8,445.0L637.4,450.0L633.8,449.7L630.3,449.3L626.8,448.9L623.2,448.6L619.7,448.2L616.2,447.7L612.6,447.3L609.1,446.8L606.0,446.4L602.9,446.0L599.8,445.5L596.7,445.0L593.6,444.6L590.5,444.1L587.4,443.6L586.9,446.4L586.4,449.2L584.4,446.0L582.6,447.7L580.1,447.2L577.6,446.8L575.5,447.4L573.4,447.9L572.2,444.1L570.0,442.0L570.4,439.9L568.9,434.7L568.2,432.4L565.4,434.0L564.4,431.6L565.4,428.5L566.9,424.4L565.7,421.5L563.7,417.2L561.8,414.3L559.9,411.5L559.4,408.3L558.8,405.2L559.6,401.7L560.3,398.2Z" fill="#f1c0be"/>
<path d="M586.4,449.2L586.9,446.4L587.4,443.6L590.5,444.1L593.6,444.6L596.7,445.0L599.8,445.5L602.9,446.0L606.0,446.4L609.1,446.8L612.6,447.3L616.2,447.7L619.7,448.2L623.2,448.6L626.8,448.9L630.3,449.3L633.8,449.7L637.4,450.0L637.0,454.3L636.6,458.6L636.3,462.9L635.9,467.1L635.6,471.4L635.2,475.7L634.8,480.0L634.4,484.3L634.0,488.6L633.7,492.9L629.9,492.6L626.2,492.2L622.4,491.8L618.7,491.4L615.0,491.0L611.7,490.6L608.5,490.2L605.2,489.8L602.0,489.4L598.8,488.9L595.5,488.5L592.5,488.0L589.5,487.5L586.4,487.1L583.4,486.6L580.4,486.1L581.0,482.5L581.6,479.0L582.1,475.4L583.0,470.2L583.9,464.9L584.7,459.7L585.6,454.4Z" fill="#ef9f9c"/>
<path d="M559.9,471.4L563.6,472.1L567.3,472.8L571.0,473.5L574.7,474.2L578.4,474.8L582.1,475.4L581.6,479.0L581.0,482.5L580.4,486.1L583.4,486.6L586.4,487.1L589.5,487.5L592.5,488.0L595.5,488.5L594.9,493.2L594.2,497.9L593.5,502.7L592.8,507.4L592.2,512.2L591.5,516.9L590.8,521.7L590.1,526.4L589.4,531.1L585.8,530.6L582.1,530.0L578.5,529.5L574.8,528.9L571.2,528.3L567.5,527.6L563.9,527.0L560.2,526.3L556.6,525.7L553.0,525.0L549.3,524.2L550.3,519.4L551.3,514.6L552.2,509.8L553.2,505.0L554.2,500.2L555.1,495.4L556.1,490.6L557.0,485.8L558.0,481.0L559.0,476.2Z" fill="#ef9f9c"/>
<path d="M595.5,488.5L598.8,488.9L602.0,489.4L605.2,489.8L608.5,490.2L611.7,490.6L615.0,491.0L618.7,491.4L622.4,491.8L626.2,492.2L629.9,492.6L633.7,492.9L636.7,493.2L639.8,493.4L642.8,493.7L645.9,493.9L649.0,494.1L648.7,497.7L648.5,501.3L648.3,504.9L648.0,509.5L647.7,514.1L647.4,518.7L647.1,523.3L646.8,527.9L646.5,532.5L646.2,537.1L642.3,536.9L638.4,536.6L634.9,536.3L631.4,536.0L628.0,535.7L624.5,535.3L621.0,535.0L617.5,534.6L614.1,534.3L610.5,533.9L607.0,533.4L603.5,533.0L600.0,532.6L596.5,532.1L592.9,531.6L589.4,531.1L590.1,526.4L590.8,521.7L591.5,516.9L592.2,512.2L592.8,507.4L593.5,502.7L594.2,497.9L594.9,493.2Z" fill="#ef9f9c"/>
<path d="M549.3,524.2L553.0,525.0L556.6,525.7L560.2,526.3L563.9,527.0L567.5,527.6L571.2,528.3L574.8,528.9L578.5,529.5L582.1,530.0L585.8,530.6L589.4,531.1L588.7,536.2L588.0,541.2L587.3,546.2L586.5,551.2L585.8,556.2L585.1,561.3L584.4,566.3L583.6,571.3L582.9,576.3L582.2,581.2L581.5,586.2L580.7,591.2L577.2,590.7L573.7,590.2L570.2,589.6L566.7,589.1L563.2,588.5L559.4,586.3L555.6,584.1L551.8,581.8L548.1,579.6L544.4,577.3L540.7,575.0L537.0,572.7L533.4,570.4L534.6,568.1L536.7,567.7L535.5,564.7L536.3,561.0L538.1,559.2L539.7,555.2L542.7,552.8L541.5,550.6L540.5,547.1L540.4,544.4L540.9,541.2L541.5,538.0L541.7,535.3L541.9,532.6L544.7,532.6L547.6,532.7L548.5,528.5Z" fill="#ef9f9c"/>
<path d="M589.4,531.1L592.9,531.6L596.5,532.1L600.0,532.6L603.5,533.0L607.0,533.4L610.5,533.9L614.1,534.3L617.5,534.6L621.0,535.0L624.5,535.3L628.0,535.7L631.4,536.0L634.9,536.3L638.4,536.6L638.2,539.2L638.0,541.9L637.6,546.7L637.1,551.6L636.7,556.4L636.3,561.2L635.9,566.0L635.4,570.8L635.0,575.6L634.6,580.3L634.2,585.1L633.7,589.9L629.9,589.6L626.0,589.3L622.1,588.9L618.3,588.5L614.4,588.2L610.5,587.7L606.7,587.3L602.8,586.9L603.3,589.3L599.7,588.9L596.0,588.4L592.4,588.0L588.7,587.5L588.1,592.2L584.4,591.7L580.7,591.2L581.5,586.2L582.2,581.2L582.9,576.3L583.6,571.3L584.4,566.3L585.1,561.3L585.8,556.2L586.5,551.2L587.3,546.2L588.0,541.2L588.7,536.2Z" fill="#f1c0be"/>
<path d="M641.2,407.3L644.1,407.6L647.0,407.9L650.0,408.1L652.9,408.3L655.9,408.5L658.8,408.7L661.7,408.9L664.4,409.0L667.1,409.1L669.8,409.3L672.5,409.4L675.2,409.5L678.2,409.6L681.2,409.6L684.2,409.7L687.2,409.8L687.4,412.4L687.7,415.1L688.0,418.0L688.3,421.0L689.6,425.8L689.7,429.0L689.9,432.2L690.2,435.4L691.2,438.7L691.5,442.5L688.0,442.5L684.5,442.4L681.0,442.4L677.5,442.3L674.0,442.2L670.5,442.0L667.0,441.9L663.8,441.7L660.7,441.6L657.5,441.4L654.3,441.2L651.1,441.0L647.9,440.7L644.7,440.5L641.5,440.2L638.3,439.9L638.7,435.3L639.1,430.6L639.5,425.9L640.0,421.3L640.4,416.6L640.8,412.0Z" fill="#ef9f9c"/>
<path d="M638.3,439.9L641.5,440.2L644.7,440.5L647.9,440.7L651.1,441.0L654.3,441.2L657.5,441.4L660.7,441.6L663.8,441.7L667.0,441.9L670.5,442.0L674.0,442.2L677.5,442.3L681.0,442.4L684.5,442.4L688.0,442.5L691.5,442.5L691.2,444.0L689.4,446.2L690.4,448.3L692.2,449.4L692.2,454.3L692.1,459.1L692.1,463.9L692.1,468.8L691.0,468.8L691.3,473.1L692.0,476.3L691.6,478.5L692.0,479.7L690.2,478.5L688.3,476.8L685.0,475.7L682.7,476.1L680.5,476.5L678.6,475.2L676.8,473.9L673.7,473.8L670.6,473.7L667.5,473.6L664.4,473.4L661.3,473.3L658.2,473.1L655.0,472.9L651.7,472.7L648.5,472.5L645.3,472.2L642.0,472.0L638.8,471.7L635.6,471.4L635.9,467.1L636.3,462.9L636.6,458.6L637.0,454.3L637.4,450.0L637.8,445.0Z" fill="#f1c0be"/>
<path d="M635.6,471.4L638.8,471.7L642.0,472.0L645.3,472.2L648.5,472.5L651.7,472.7L655.0,472.9L658.2,473.1L661.3,473.3L664.4,473.4L667.5,473.6L670.6,473.7L673.7,473.8L676.8,473.9L678.6,475.2L680.5,476.5L682.7,476.1L685.0,475.7L688.3,476.8L690.2,478.5L692.0,479.7L692.7,482.8L694.6,487.1L695.3,489.8L695.9,492.5L696.5,495.8L696.9,499.0L697.1,500.3L698.8,503.3L700.7,506.5L697.2,506.5L693.6,506.5L690.1,506.5L686.5,506.5L683.0,506.4L679.4,506.3L675.9,506.2L672.4,506.1L669.0,506.0L665.5,505.9L662.1,505.7L658.6,505.5L655.2,505.3L651.7,505.1L648.3,504.9L648.5,501.3L648.7,497.7L649.0,494.1L645.9,493.9L642.8,493.7L639.8,493.4L636.7,493.2L633.7,492.9L634.0,488.6L634.4,484.3L634.8,480.0L635.2,475.7Z" fill="#f1c0be"/>
<path d="M648.3,504.9L651.7,505.1L655.2,505.3L658.6,505.5L662.1,505.7L665.5,505.9L669.0,506.0L672.4,506.1L675.9,506.2L679.4,506.3L683.0,506.4L686.5,506.5L690.1,506.5L693.6,506.5L697.2,506.5L700.7,506.5L704.0,509.2L702.4,511.4L704.0,513.5L706.3,516.1L706.4,520.6L706.4,525.2L706.5,529.7L706.5,534.3L706.6,538.8L702.6,538.9L698.7,538.9L694.8,538.9L690.8,538.8L686.9,538.8L683.0,538.7L679.0,538.6L675.4,538.5L671.7,538.4L668.1,538.3L664.4,538.1L660.8,538.0L657.1,537.8L653.5,537.6L649.8,537.4L646.2,537.1L646.5,532.5L646.8,527.9L647.1,523.3L647.4,518.7L647.7,514.1L648.0,509.5Z" fill="#f3d6d6"/>
<path d="M638.4,536.6L642.3,536.9L646.2,537.1L649.8,537.4L653.5,537.6L657.1,537.8L660.8,538.0L664.4,538.1L668.1,538.3L671.7,538.4L675.4,538.5L679.0,538.6L683.0,538.7L686.9,538.8L690.8,538.8L694.8,538.9L698.7,538.9L702.6,538.9L706.6,538.8L706.6,541.5L706.6,544.2L707.2,548.2L707.8,552.1L708.4,556.1L708.4,560.8L708.3,565.5L708.3,570.2L708.3,574.9L704.7,574.3L701.3,572.4L699.1,572.5L697.0,572.6L694.4,573.1L691.9,573.5L688.1,572.5L685.5,573.9L683.0,572.5L680.8,572.3L678.7,572.1L677.5,569.5L675.4,569.3L673.3,569.1L670.7,568.6L668.2,568.2L666.1,567.1L664.1,566.1L661.6,564.2L661.8,559.1L662.1,553.9L662.3,548.7L662.5,543.4L659.0,543.3L655.5,543.1L652.0,542.9L648.5,542.7L645.0,542.4L641.5,542.2L638.0,541.9L638.2,539.2Z" fill="#d1d7ee"/>
<path d="M638.0,541.9L641.5,542.2L645.0,542.4L648.5,542.7L652.0,542.9L655.5,543.1L659.0,543.3L662.5,543.4L662.3,548.7L662.1,553.9L661.8,559.1L661.6,564.2L664.1,566.1L666.1,567.1L668.2,568.2L670.7,568.6L673.3,569.1L675.4,569.3L677.5,569.5L678.7,572.1L680.8,572.3L683.0,572.5L685.5,573.9L688.1,572.5L691.9,573.5L694.4,573.1L697.0,572.6L699.1,572.5L701.3,572.4L704.7,574.3L708.3,574.9L712.0,575.8L712.1,578.6L712.2,581.4L712.2,585.1L712.3,588.7L712.4,592.3L714.6,597.1L716.9,601.3L716.5,604.0L715.6,607.2L715.7,609.8L715.9,612.5L714.8,615.9L712.2,617.4L708.4,618.1L706.8,616.6L704.1,618.2L704.6,621.0L701.4,624.8L699.0,626.4L696.6,628.1L694.1,628.2L691.6,628.3L690.1,628.0L689.0,629.7L685.2,634.1L682.0,638.4L680.9,641.2L679.8,643.9L680.0,646.9L680.3,649.9L681.3,653.7L682.3,657.6L679.7,657.2L676.7,655.8L673.6,654.4L669.9,652.7L666.2,651.0L664.7,647.8L663.2,644.6L663.0,642.0L662.9,639.3L660.2,636.6L658.1,633.9L655.9,631.1L654.5,627.6L653.0,624.1L650.6,619.2L647.6,616.4L645.4,614.2L642.1,613.5L638.8,612.9L635.3,614.3L633.4,618.6L630.9,621.8L629.1,621.5L626.0,619.6L623.0,617.8L619.9,614.7L618.9,613.7L617.5,608.8L616.5,605.7L615.4,602.7L613.0,600.1L610.6,597.6L608.2,595.4L605.8,593.1L603.3,589.3L602.8,586.9L606.7,587.3L610.5,587.7L614.4,588.2L618.3,588.5L622.1,588.9L626.0,589.3L629.9,589.6L633.7,589.9L634.2,585.1L634.6,580.3L635.0,575.6L635.4,570.8L635.9,566.0L636.3,561.2L636.7,556.4L637.1,551.6L637.6,546.7Z" fill="#f1c0be"/>
<path d="M687.2,409.8L690.0,409.8L692.8,409.8L695.6,409.8L698.5,409.8L701.3,409.8L701.2,405.8L703.5,406.4L704.5,411.1L705.0,412.8L707.4,413.4L710.1,413.6L710.8,414.8L712.9,413.9L714.5,413.4L716.3,413.6L718.3,414.6L720.1,416.8L722.5,416.1L724.2,417.4L726.0,418.7L728.4,418.6L730.7,417.0L732.5,418.3L734.2,418.6L736.0,418.9L734.0,421.1L732.1,423.2L730.5,425.2L728.8,427.1L727.2,429.1L725.5,431.1L723.4,433.8L721.5,434.3L721.6,437.5L721.7,440.7L718.6,443.2L717.6,445.9L719.4,448.0L718.6,451.5L719.0,455.0L722.3,457.0L725.3,459.0L727.2,462.2L730.3,464.2L730.7,468.0L727.3,468.1L723.8,468.3L720.4,468.4L717.0,468.5L713.6,468.6L710.2,468.7L706.6,468.7L702.9,468.8L699.3,468.8L695.7,468.8L692.1,468.8L692.1,463.9L692.1,459.1L692.2,454.3L692.2,449.4L690.4,448.3L689.4,446.2L691.2,444.0L691.5,442.5L691.2,438.7L690.2,435.4L689.9,432.2L689.7,429.0L689.6,425.8L688.3,421.0L688.0,418.0L687.7,415.1L687.4,412.4Z" fill="#ef9f9c"/>
<path d="M692.1,468.8L695.7,468.8L699.3,468.8L702.9,468.8L706.6,468.7L710.2,468.7L713.6,468.6L717.0,468.5L720.4,468.4L723.8,468.3L727.3,468.1L730.7,468.0L731.2,472.5L733.5,476.4L735.5,478.4L737.5,481.1L739.5,482.6L739.3,485.8L738.3,488.3L736.5,489.3L733.1,490.5L732.8,492.7L734.1,495.3L733.0,497.0L730.9,499.8L730.8,501.7L728.3,499.3L724.9,499.5L721.5,499.7L718.1,499.9L714.7,500.1L711.2,500.2L707.7,500.2L704.1,500.3L700.6,500.3L697.1,500.3L696.9,499.0L696.5,495.8L695.9,492.5L695.3,489.8L694.6,487.1L692.7,482.8L692.0,479.7L691.6,478.5L692.0,476.3L691.3,473.1L691.0,468.8Z" fill="#f3d6d6"/>
<path d="M697.1,500.3L700.6,500.3L704.1,500.3L707.7,500.2L711.2,500.2L714.7,500.1L718.1,499.9L721.5,499.7L724.9,499.5L728.3,499.3L730.8,501.7L730.4,505.8L731.7,509.0L735.4,512.6L737.2,515.7L738.5,517.2L741.2,517.6L741.6,520.0L740.4,523.6L742.6,526.7L745.1,528.2L747.7,531.3L747.9,533.9L749.7,536.5L751.2,537.2L750.8,539.7L749.7,541.4L748.6,542.5L747.9,544.7L747.0,548.0L744.4,548.2L741.7,548.4L742.5,545.6L743.2,542.9L739.4,543.1L735.7,543.3L731.9,543.5L728.1,543.6L724.5,543.8L720.9,543.9L717.4,544.0L713.8,544.1L710.2,544.1L706.6,544.2L706.6,541.5L706.6,538.8L706.5,534.3L706.5,529.7L706.4,525.2L706.4,520.6L706.3,516.1L704.0,513.5L702.4,511.4L704.0,509.2L700.7,506.5L698.8,503.3Z" fill="#c8c8c8"/>
<path d="M706.6,544.2L710.2,544.1L713.8,544.1L717.4,544.0L720.9,543.9L724.5,543.8L728.1,543.6L731.9,543.5L735.7,543.3L739.4,543.1L743.2,542.9L742.5,545.6L741.7,548.4L744.4,548.2L747.0,548.0L747.4,550.2L745.5,553.0L744.5,555.7L744.7,557.6L742.9,559.1L741.1,562.4L741.0,565.1L738.1,569.0L737.0,572.3L736.3,575.0L737.3,577.6L736.8,580.8L732.7,581.0L728.6,581.1L724.5,581.2L720.4,581.3L716.3,581.4L712.2,581.4L712.1,578.6L712.0,575.8L708.3,574.9L708.3,570.2L708.3,565.5L708.4,560.8L708.4,556.1L707.8,552.1L707.2,548.2Z" fill="#c8c8c8"/>
<path d="M712.2,581.4L716.3,581.4L720.4,581.3L724.5,581.2L728.6,581.1L732.7,581.0L736.8,580.8L737.6,584.0L739.5,587.7L738.0,591.5L735.6,595.9L734.5,599.1L733.9,602.3L738.1,602.1L742.3,601.9L746.5,601.7L750.7,601.4L749.8,604.7L751.8,607.8L752.7,609.8L750.4,612.5L753.8,614.1L752.3,617.2L756.8,620.9L754.2,619.6L751.6,618.3L749.6,618.6L747.8,621.0L744.8,620.6L742.5,621.7L738.7,620.9L735.7,618.3L731.9,615.6L729.6,616.7L726.9,617.1L724.3,617.5L720.3,616.3L717.5,616.1L714.8,615.9L715.9,612.5L715.7,609.8L715.6,607.2L716.5,604.0L716.9,601.3L714.6,597.1L712.4,592.3L712.3,588.7L712.2,585.1Z" fill="#f3d6d6"/>
<path d="M723.4,433.8L726.3,433.2L729.0,431.7L731.8,431.3L731.3,434.5L732.3,433.9L734.7,434.7L736.9,437.0L739.4,437.6L741.8,438.1L744.3,438.6L746.4,439.2L748.6,439.8L751.6,441.7L753.9,443.1L753.8,446.4L755.8,448.9L753.6,452.4L753.4,455.1L755.1,453.3L757.6,449.3L760.0,446.9L758.2,451.4L757.2,456.4L756.7,459.1L756.2,461.9L755.8,465.1L755.3,468.4L755.9,471.6L756.4,474.4L756.8,477.1L753.8,477.3L750.8,477.5L747.8,477.7L744.7,477.9L741.7,478.1L738.6,478.2L735.5,478.4L733.5,476.4L731.2,472.5L730.7,468.0L730.3,464.2L727.2,462.2L725.3,459.0L722.3,457.0L719.0,455.0L718.6,451.5L719.4,448.0L717.6,445.9L718.6,443.2L721.7,440.7L721.6,437.5L721.5,434.3Z" fill="#f1c0be"/>
<path d="M735.5,478.4L738.6,478.2L741.7,478.1L744.7,477.9L747.8,477.7L750.8,477.5L753.8,477.3L756.8,477.1L757.4,479.6L758.8,483.3L759.6,485.3L760.1,490.4L760.5,495.4L760.9,500.5L761.4,505.6L761.8,510.7L761.1,513.4L762.3,517.9L761.0,521.0L759.7,524.4L758.8,527.7L759.5,530.9L756.3,532.3L756.2,535.8L752.5,534.7L751.2,537.2L749.7,536.5L747.9,533.9L747.7,531.3L745.1,528.2L742.6,526.7L740.4,523.6L741.6,520.0L741.2,517.6L738.5,517.2L737.2,515.7L735.4,512.6L731.7,509.0L730.4,505.8L730.8,501.7L730.9,499.8L733.0,497.0L734.1,495.3L732.8,492.7L733.1,490.5L736.5,489.3L738.3,488.3L739.3,485.8L739.5,482.6L737.5,481.1Z" fill="#f1c0be"/>
<path d="M759.6,485.3L762.1,485.9L764.9,484.2L767.9,484.1L770.9,483.9L774.0,483.7L777.0,483.5L780.1,483.2L780.6,487.9L781.1,492.5L781.7,497.2L782.2,501.8L782.8,506.5L783.3,511.2L783.3,513.3L780.8,515.8L779.2,515.6L779.0,517.6L777.0,520.9L775.7,524.0L772.8,522.6L771.4,525.3L769.0,524.9L766.8,527.2L763.0,525.5L760.3,526.5L758.8,527.7L759.7,524.4L761.0,521.0L762.3,517.9L761.1,513.4L761.8,510.7L761.4,505.6L760.9,500.5L760.5,495.4L760.1,490.4Z" fill="#f3d6d6"/>
<path d="M780.1,483.2L783.4,482.7L786.8,482.2L790.2,481.6L793.8,482.5L796.2,483.5L798.8,483.0L801.5,482.5L803.7,482.2L805.4,480.5L807.0,478.9L809.4,477.3L811.7,475.6L812.5,480.4L813.3,485.1L814.1,489.9L813.5,492.6L813.6,496.3L813.1,499.8L811.3,503.4L809.1,504.3L808.4,505.8L807.5,509.7L805.2,509.0L804.2,511.6L803.8,514.1L802.9,516.0L801.8,516.1L799.3,513.4L798.1,513.3L795.9,515.0L792.3,514.9L788.6,513.8L787.5,511.7L785.8,510.8L783.3,511.2L782.8,506.5L782.2,501.8L781.7,497.2L781.1,492.5L780.6,487.9Z" fill="#f1c0be"/>
<path d="M790.2,481.6L791.6,477.9L792.0,475.1L793.7,473.8L795.9,470.8L796.0,466.9L794.9,463.8L793.6,459.6L790.5,456.0L788.2,458.2L787.4,460.5L785.4,462.1L783.7,460.5L783.7,457.7L786.5,456.3L787.5,452.9L787.2,450.2L786.8,447.5L785.3,444.5L781.8,442.2L779.4,440.7L777.4,440.1L775.5,439.5L773.7,441.1L774.0,443.8L771.4,445.7L771.1,450.1L769.8,447.5L767.1,450.0L766.7,452.7L766.2,455.5L764.9,460.5L765.8,465.3L766.9,467.9L768.1,470.5L768.2,474.8L767.6,477.6L766.9,480.4L764.9,484.2L767.9,484.1L770.9,483.9L774.0,483.7L777.0,483.5L780.1,483.2L783.4,482.7L786.8,482.2Z" fill="#ef9f9c"/>
<path d="M755.8,448.9L757.6,444.4L759.1,441.6L761.6,441.9L762.5,440.2L764.9,438.8L767.3,437.9L769.7,436.9L771.5,437.1L773.3,437.3L775.5,438.1L778.2,436.7L778.6,434.0L777.9,431.6L775.9,431.9L772.7,432.0L772.3,429.1L770.7,429.8L769.0,430.5L767.2,430.7L765.5,431.0L763.5,432.4L761.6,433.8L758.7,433.3L755.9,433.3L753.5,430.2L751.7,430.0L749.9,429.8L748.3,431.4L748.5,429.1L749.7,426.8L752.2,423.9L749.5,424.5L747.9,425.8L746.2,427.1L744.6,428.5L742.9,429.8L740.9,430.8L738.9,431.7L736.8,433.2L734.7,434.7L736.9,437.0L739.4,437.6L741.8,438.1L744.3,438.6L746.4,439.2L748.6,439.8L751.6,441.7L753.9,443.1L753.8,446.4Z" fill="#ef9f9c"/>
<path d="M751.2,537.2L752.5,534.7L756.2,535.8L756.3,532.3L759.5,530.9L758.8,527.7L760.3,526.5L763.0,525.5L766.8,527.2L769.0,524.9L771.4,525.3L772.8,522.6L775.7,524.0L777.0,520.9L779.0,517.6L779.2,515.6L780.8,515.8L783.3,513.3L783.3,511.2L785.8,510.8L787.5,511.7L788.6,513.8L792.3,514.9L795.9,515.0L798.1,513.3L799.3,513.4L801.8,516.1L802.1,519.0L803.7,521.5L805.2,523.5L808.1,524.8L805.8,527.8L803.0,530.9L800.1,533.5L797.9,535.1L795.8,536.8L792.2,537.2L788.6,537.5L785.0,537.9L782.0,538.2L778.9,538.4L775.9,538.7L772.8,538.9L769.6,539.1L766.4,539.3L763.2,539.5L760.0,539.7L760.4,541.7L756.5,542.0L752.5,542.3L748.6,542.5L749.7,541.4L750.8,539.7Z" fill="#f3d6d6"/>
<path d="M748.6,542.5L752.5,542.3L756.5,542.0L760.4,541.7L760.0,539.7L763.2,539.5L766.4,539.3L769.6,539.1L772.8,538.9L775.9,538.7L778.9,538.4L782.0,538.2L785.0,537.9L788.6,537.5L792.2,537.2L795.8,536.8L799.0,536.4L802.2,536.0L805.5,535.5L808.7,535.1L811.9,534.6L810.6,538.0L809.7,540.1L806.9,540.7L805.4,542.0L803.1,542.9L801.7,545.0L798.7,547.6L796.8,548.8L794.8,550.0L792.6,551.9L792.8,554.7L789.2,555.1L785.6,555.6L782.1,556.0L778.5,556.4L774.9,556.7L771.3,557.0L767.7,557.3L764.1,557.6L760.5,557.8L757.0,558.1L753.5,558.4L749.9,558.6L746.4,558.8L742.9,559.1L744.7,557.6L744.5,555.7L745.5,553.0L747.4,550.2L747.0,548.0L747.9,544.7Z" fill="#c8c8c8"/>
<path d="M742.9,559.1L746.4,558.8L749.9,558.6L753.5,558.4L757.0,558.1L760.5,557.8L761.4,558.8L761.4,563.5L761.3,568.1L761.3,572.7L761.2,577.4L761.1,582.0L761.1,586.6L761.0,591.2L761.5,596.5L762.1,601.7L762.6,607.0L759.8,607.2L756.0,608.0L752.7,609.8L751.8,607.8L749.8,604.7L750.7,601.4L746.5,601.7L742.3,601.9L738.1,602.1L733.9,602.3L734.5,599.1L735.6,595.9L738.0,591.5L739.5,587.7L737.6,584.0L736.8,580.8L737.3,577.6L736.3,575.0L737.0,572.3L738.1,569.0L741.0,565.1L741.1,562.4Z" fill="#d1d7ee"/>
<path d="M760.5,557.8L764.1,557.6L767.7,557.3L771.3,557.0L774.9,556.7L778.5,556.4L782.1,556.0L783.3,560.4L784.5,564.9L785.8,569.3L787.0,573.7L788.3,578.1L790.4,582.4L790.5,587.2L790.4,591.5L791.4,594.6L792.2,597.8L788.5,598.3L784.8,598.8L781.1,599.2L777.4,599.7L773.6,600.1L769.9,600.5L771.5,603.6L771.4,606.5L769.7,606.9L767.8,606.5L767.5,603.8L765.5,603.8L765.1,606.5L762.6,607.0L762.1,601.7L761.5,596.5L761.0,591.2L761.1,586.6L761.1,582.0L761.2,577.4L761.3,572.7L761.3,568.1L761.4,563.5L761.4,558.8Z" fill="#d1d7ee"/>
<path d="M782.1,556.0L785.6,555.6L789.2,555.1L792.8,554.7L796.1,554.2L799.4,553.7L802.8,553.2L801.2,556.7L804.5,559.0L807.0,561.4L809.0,563.8L812.5,567.1L814.9,568.4L817.6,571.7L819.6,573.6L820.9,576.7L823.1,579.0L824.4,581.5L826.1,581.6L824.1,587.2L823.6,590.1L823.1,593.0L823.3,597.1L819.8,597.4L819.4,599.0L818.6,601.4L817.9,599.2L813.9,599.4L809.8,599.7L805.7,600.0L801.6,600.2L797.6,600.4L793.5,600.6L792.2,597.8L791.4,594.6L790.4,591.5L790.5,587.2L790.4,582.4L788.3,578.1L787.0,573.7L785.8,569.3L784.5,564.9L783.3,560.4Z" fill="#f3d6d6"/>
<path d="M771.4,606.5L771.5,603.6L769.9,600.5L773.6,600.1L777.4,599.7L781.1,599.2L784.8,598.8L788.5,598.3L792.2,597.8L793.5,600.6L797.6,600.4L801.6,600.2L805.7,600.0L809.8,599.7L813.9,599.4L817.9,599.2L818.6,601.4L819.4,599.0L819.8,597.4L823.3,597.1L824.2,600.9L825.5,603.8L826.7,606.8L828.7,609.8L830.6,612.7L832.8,616.1L835.0,619.5L836.2,622.5L837.4,625.4L839.3,628.8L841.3,632.2L843.2,637.2L843.7,641.6L844.2,645.9L842.7,649.0L842.2,652.8L839.6,653.6L836.9,654.3L835.7,651.6L834.5,648.9L830.5,646.9L828.7,644.0L827.2,641.6L825.7,639.1L822.8,637.2L819.4,632.8L820.8,629.3L820.3,627.3L817.0,625.9L817.5,622.5L817.0,618.6L814.0,614.6L810.1,611.7L806.3,607.8L802.3,606.1L799.4,606.8L796.5,609.3L794.3,610.3L792.2,611.3L790.6,610.3L786.8,607.8L784.4,606.8L781.9,605.8L779.5,605.8L777.1,605.9L774.2,606.2Z" fill="#ef9f9c"/>
<path d="M802.8,553.2L805.8,551.7L808.7,550.2L812.3,549.9L815.9,549.5L819.5,549.1L819.7,550.2L820.6,549.5L822.1,552.3L825.3,551.9L828.4,551.4L831.5,551.0L835.0,553.6L838.5,556.3L842.1,558.9L839.0,563.0L837.8,567.5L835.8,569.9L833.8,572.2L831.5,574.2L829.2,576.2L826.1,581.6L824.4,581.5L823.1,579.0L820.9,576.7L819.6,573.6L817.6,571.7L814.9,568.4L812.5,567.1L809.0,563.8L807.0,561.4L804.5,559.0L801.2,556.7Z" fill="#f3d6d6"/>
<path d="M792.8,554.7L792.6,551.9L794.8,550.0L796.8,548.8L798.7,547.6L801.7,545.0L803.1,542.9L805.4,542.0L806.9,540.7L809.7,540.1L810.6,538.0L811.9,534.6L815.6,534.1L819.3,533.6L822.9,533.0L826.6,532.5L830.3,531.9L833.9,531.3L837.6,530.7L841.0,529.9L844.4,529.2L847.8,528.4L851.2,527.6L854.6,526.8L858.0,525.9L857.9,530.1L855.6,531.8L853.3,533.5L855.0,532.9L857.3,532.6L859.6,532.3L861.3,535.2L859.6,539.3L857.6,539.8L855.6,540.4L856.2,542.1L857.9,544.4L856.2,545.7L854.2,546.8L852.2,547.9L850.5,550.0L848.7,552.0L847.0,556.6L844.6,557.8L842.1,558.9L838.5,556.3L835.0,553.6L831.5,551.0L828.4,551.4L825.3,551.9L822.1,552.3L820.6,549.5L819.7,550.2L819.5,549.1L815.9,549.5L812.3,549.9L808.7,550.2L805.8,551.7L802.8,553.2L799.4,553.7L796.1,554.2Z" fill="#f3d6d6"/>
<path d="M808.1,524.8L805.8,527.8L803.0,530.9L800.1,533.5L797.9,535.1L795.8,536.8L799.0,536.4L802.2,536.0L805.5,535.5L808.7,535.1L811.9,534.6L815.6,534.1L819.3,533.6L822.9,533.0L826.6,532.5L830.3,531.9L833.9,531.3L837.6,530.7L841.0,529.9L844.4,529.2L847.8,528.4L851.2,527.6L854.6,526.8L858.0,525.9L857.2,523.4L854.2,522.9L852.0,522.3L850.0,520.5L852.5,520.5L853.7,519.1L850.5,516.8L848.5,513.3L851.7,514.9L852.6,512.8L849.2,510.7L846.1,509.7L844.1,509.5L843.0,508.1L844.3,504.5L842.3,502.7L839.9,501.0L838.0,500.1L837.5,502.2L835.3,501.2L833.0,500.1L832.2,504.7L830.2,507.3L827.6,512.0L824.5,510.7L823.1,516.3L821.3,520.4L821.4,523.1L819.3,524.3L817.3,525.5L814.5,527.0L810.9,528.1Z" fill="#f1c0be"/>
<path d="M857.0,511.2L856.8,514.0L856.2,516.9L856.0,519.7L856.5,520.7L857.5,518.9L858.4,515.3L859.5,511.2L860.0,509.6Z" fill="#f1c0be"/>
<path d="M801.8,516.1L802.9,516.0L803.8,514.1L804.2,511.6L805.2,509.0L807.5,509.7L808.4,505.8L809.1,504.3L811.3,503.4L813.1,499.8L813.6,496.3L813.5,492.6L814.1,489.9L814.9,494.8L815.7,499.7L818.4,499.3L821.0,498.8L823.7,498.4L824.2,501.1L824.7,503.9L825.9,502.6L827.5,500.4L829.4,498.4L831.9,498.7L833.5,496.7L836.0,497.3L837.5,498.7L838.0,500.1L837.5,502.2L835.3,501.2L833.0,500.1L832.2,504.7L830.2,507.3L827.6,512.0L824.5,510.7L823.1,516.3L821.3,520.4L821.4,523.1L819.3,524.3L817.3,525.5L814.5,527.0L810.9,528.1L808.1,524.8L805.2,523.5L803.7,521.5L802.1,519.0Z" fill="#f3d6d6"/>
<path d="M823.7,498.4L827.2,497.7L830.8,497.0L834.3,496.4L837.8,495.7L841.3,495.0L844.8,494.2L848.3,493.5L851.9,492.7L853.1,497.1L854.3,501.5L855.5,505.9L858.0,505.4L860.5,504.9L860.5,506.5L860.0,509.6L857.0,511.2L855.1,510.0L853.6,508.6L851.7,507.4L850.4,504.9L850.7,502.6L849.8,500.0L850.3,497.1L851.0,494.8L850.3,494.9L849.6,497.3L848.0,499.3L848.7,501.4L848.5,503.6L849.0,506.8L850.4,508.8L851.6,511.4L852.6,512.8L849.2,510.7L846.1,509.7L844.1,509.5L843.0,508.1L844.3,504.5L842.3,502.7L839.9,501.0L838.0,500.1L837.5,498.7L836.0,497.3L833.5,496.7L831.9,498.7L829.4,498.4L827.5,500.4L825.9,502.6L824.7,503.9L824.2,501.1Z" fill="#ef9f9c"/>
<path d="M854.5,491.2L853.4,491.0L852.3,491.5L851.9,492.7L853.1,497.1L854.3,501.5L855.5,505.9L858.0,505.4L860.5,504.9L859.4,501.2L857.8,499.9L855.9,497.0L854.2,494.6L853.8,492.7Z" fill="#ef9f9c"/>
<path d="M811.7,475.6L814.5,473.3L816.8,471.5L817.3,474.4L820.9,473.8L824.6,473.1L828.2,472.4L831.8,471.7L835.4,471.0L839.0,470.2L842.6,469.4L846.2,468.7L849.8,467.8L853.0,471.6L856.2,473.5L853.8,478.1L854.1,481.9L855.7,483.7L858.6,485.8L856.7,489.6L854.5,491.2L853.4,491.0L852.3,491.5L851.9,492.7L848.3,493.5L844.8,494.2L841.3,495.0L837.8,495.7L834.3,496.4L830.8,497.0L827.2,497.7L823.7,498.4L821.0,498.8L818.4,499.3L815.7,499.7L814.9,494.8L814.1,489.9L813.3,485.1L812.5,480.4Z" fill="#f1c0be"/>
<path d="M854.5,491.2L856.7,489.6L858.6,485.8L855.7,483.7L854.1,481.9L853.8,478.1L856.2,473.5L859.6,474.7L862.9,475.9L862.8,479.2L861.6,480.3L861.3,481.6L863.5,483.1L863.9,487.6L862.1,493.0L860.4,497.7L857.7,494.4L855.1,492.6Z" fill="#ec7874"/>
<path d="M816.8,471.5L818.9,469.1L821.0,466.6L822.0,464.2L820.9,462.8L820.2,460.2L822.0,459.1L823.9,458.1L827.3,458.0L830.6,457.9L833.5,457.1L836.4,456.4L838.2,454.6L840.1,452.8L839.3,449.1L837.8,447.2L839.4,444.9L840.9,442.7L842.3,440.1L843.6,437.6L845.3,436.4L847.0,435.2L850.3,434.3L853.6,433.5L856.9,432.6L857.6,435.3L858.4,437.9L858.7,440.6L859.0,443.4L859.9,447.0L860.9,447.3L862.0,451.8L863.2,456.3L863.2,460.1L863.3,464.0L864.1,468.0L864.8,472.0L865.5,472.9L864.0,474.5L864.8,475.5L864.1,476.7L864.2,477.8L864.8,476.9L866.5,476.1L868.3,475.4L870.3,474.6L872.2,473.7L874.4,471.3L877.8,471.3L875.5,473.4L873.1,475.5L870.7,477.1L868.3,478.7L866.0,479.5L863.6,480.4L862.8,479.2L862.9,475.9L859.6,474.7L856.2,473.5L853.0,471.6L849.8,467.8L846.2,468.7L842.6,469.4L839.0,470.2L835.4,471.0L831.8,471.7L828.2,472.4L824.6,473.1L820.9,473.8L817.3,474.4Z" fill="#f1c0be"/>
<path d="M863.3,464.0L866.4,463.3L869.5,462.6L872.6,461.9L875.7,461.2L876.9,465.6L877.1,468.6L874.0,469.9L871.9,470.6L869.7,471.4L867.1,473.5L864.8,475.5L864.0,474.5L865.5,472.9L864.8,472.0L864.1,468.0Z" fill="#ef9f9c"/>
<path d="M875.7,461.2L878.7,460.3L879.3,461.5L880.9,463.3L882.1,465.3L881.6,465.7L880.5,464.0L879.5,463.2L879.6,464.8L879.6,467.4L877.1,468.6L876.9,465.6Z" fill="#ec7874"/>
<path d="M869.0,455.0L866.1,455.6L863.2,456.3L863.2,460.1L863.3,464.0L866.4,463.3L869.5,462.6L872.6,461.9L875.7,461.2L878.7,460.3L879.3,461.5L880.9,463.3L882.1,465.3L882.9,463.3L884.2,462.2L886.4,462.0L887.7,460.9L885.1,459.9L882.7,457.4L880.8,455.5L881.1,452.9L880.3,450.3L879.1,450.7L877.7,452.7L874.8,453.5L871.9,454.2Z" fill="#ef9f9c"/>
<path d="M856.9,432.6L860.1,431.8L863.2,431.0L866.4,430.1L869.6,429.3L870.4,433.6L869.9,436.0L868.0,438.8L868.3,441.5L867.5,445.1L867.9,448.9L868.3,452.1L868.0,453.9L869.0,455.0L866.1,455.6L863.2,456.3L862.0,451.8L860.9,447.3L859.9,447.0L859.0,443.4L858.7,440.6L858.4,437.9L857.6,435.3Z" fill="#ef9f9c"/>
<path d="M869.6,429.3L869.7,426.9L871.7,425.3L873.2,430.2L874.7,435.2L876.2,440.1L877.7,445.1L880.6,448.0L880.3,450.3L879.1,450.7L877.7,452.7L874.8,453.5L871.9,454.2L869.0,455.0L868.0,453.9L868.3,452.1L867.9,448.9L867.5,445.1L868.3,441.5L868.0,438.8L869.9,436.0L870.4,433.6Z" fill="#ef9f9c"/>
<path d="M871.7,425.3L873.4,423.8L875.0,419.4L875.7,417.5L874.5,414.5L875.5,411.8L875.1,408.7L876.6,404.0L878.1,399.3L879.7,400.6L881.0,401.3L882.7,399.9L884.4,398.4L886.6,399.4L888.7,400.4L889.9,404.4L891.1,408.4L892.3,412.4L892.9,414.5L895.7,414.7L896.5,417.9L898.0,419.1L900.2,420.1L901.3,421.8L898.6,424.0L895.9,426.1L893.1,428.4L890.8,429.6L888.5,430.7L887.9,434.2L886.2,437.1L884.4,438.6L882.7,440.0L880.4,444.9L880.6,448.0L877.7,445.1L876.2,440.1L874.7,435.2L873.2,430.2Z" fill="#ef9f9c"/>
</g>
<g style="filter:opacity(0.999)">
<text class="t" x="238.5" y="44.9" font-size="21" text-anchor="middle" textLength="62.7" lengthAdjust="spacingAndGlyphs">Winter</text>
<text class="t" x="691.6" y="44.7" font-size="21" text-anchor="middle" textLength="59.9" lengthAdjust="spacingAndGlyphs">Spring</text>
<text class="t" x="238.2" y="374.8" font-size="21" text-anchor="middle" textLength="77" lengthAdjust="spacingAndGlyphs">Summer</text>
<text class="t" x="691.6" y="374.8" font-size="21" text-anchor="middle" textLength="31.4" lengthAdjust="spacingAndGlyphs">Fall</text>
<text class="t" x="464.2" y="702.1" font-size="16" text-anchor="middle" textLength="217.6" lengthAdjust="spacingAndGlyphs">Total temperature change (°F):</text>
<rect x="312.0" y="713.8" width="28.0" height="13.9" fill="#2349a3"/>
<rect x="339.8" y="713.8" width="28.0" height="13.9" fill="#6874b8"/>
<rect x="367.6" y="713.8" width="28.0" height="13.9" fill="#8f9ad0"/>
<rect x="395.4" y="713.8" width="28.0" height="13.9" fill="#b3bde2"/>
<rect x="423.2" y="713.8" width="28.0" height="13.9" fill="#d1d6ed"/>
<rect x="451.0" y="713.8" width="28.0" height="13.9" fill="#f3d6d6"/>
<rect x="478.8" y="713.8" width="28.0" height="13.9" fill="#f1c0be"/>
<rect x="506.6" y="713.8" width="28.0" height="13.9" fill="#ef9f9c"/>
<rect x="534.4" y="713.8" width="28.0" height="13.9" fill="#ec7874"/>
<rect x="562.2" y="713.8" width="28.0" height="13.9" fill="#e84040"/>
<rect x="590.0" y="713.8" width="28.0" height="13.9" fill="#c0292d"/>
<rect x="448.2" y="713.8" width="5.6" height="13.9" fill="#c6c6c6"/>
<rect x="312.0" y="713.8" width="305.8" height="13.9" fill="none" stroke="#1b2f5e" stroke-width="0.8"/>
<line x1="312.0" y1="727.7" x2="312.0" y2="731.9" stroke="#1b2f5e" stroke-width="1"/>
<text class="t" x="310.7" y="746.7" font-size="11.2" text-anchor="middle">-5</text>
<line x1="339.8" y1="727.7" x2="339.8" y2="731.9" stroke="#1b2f5e" stroke-width="1"/>
<text class="t" x="338.5" y="746.7" font-size="11.2" text-anchor="middle">-4</text>
<line x1="367.6" y1="727.7" x2="367.6" y2="731.9" stroke="#1b2f5e" stroke-width="1"/>
<text class="t" x="366.3" y="746.7" font-size="11.2" text-anchor="middle">-3</text>
<line x1="395.4" y1="727.7" x2="395.4" y2="731.9" stroke="#1b2f5e" stroke-width="1"/>
<text class="t" x="394.1" y="746.7" font-size="11.2" text-anchor="middle">-2</text>
<line x1="423.2" y1="727.7" x2="423.2" y2="731.9" stroke="#1b2f5e" stroke-width="1"/>
<text class="t" x="421.9" y="746.7" font-size="11.2" text-anchor="middle">-1</text>
<line x1="451.0" y1="727.7" x2="451.0" y2="731.9" stroke="#1b2f5e" stroke-width="1"/>
<text class="t" x="451.0" y="746.7" font-size="11.2" text-anchor="middle">0</text>
<line x1="478.8" y1="727.7" x2="478.8" y2="731.9" stroke="#1b2f5e" stroke-width="1"/>
<text class="t" x="478.8" y="746.7" font-size="11.2" text-anchor="middle">1</text>
<line x1="506.6" y1="727.7" x2="506.6" y2="731.9" stroke="#1b2f5e" stroke-width="1"/>
<text class="t" x="506.6" y="746.7" font-size="11.2" text-anchor="middle">2</text>
<line x1="534.4" y1="727.7" x2="534.4" y2="731.9" stroke="#1b2f5e" stroke-width="1"/>
<text class="t" x="534.4" y="746.7" font-size="11.2" text-anchor="middle">3</text>
<line x1="562.2" y1="727.7" x2="562.2" y2="731.9" stroke="#1b2f5e" stroke-width="1"/>
<text class="t" x="562.2" y="746.7" font-size="11.2" text-anchor="middle">4</text>
<line x1="590.0" y1="727.7" x2="590.0" y2="731.9" stroke="#1b2f5e" stroke-width="1"/>
<text class="t" x="590.0" y="746.7" font-size="11.2" text-anchor="middle">5</text>
<line x1="617.8" y1="727.7" x2="617.8" y2="731.9" stroke="#1b2f5e" stroke-width="1"/>
<text class="t" x="617.8" y="746.7" font-size="11.2" text-anchor="middle">6</text>
<text class="t" x="464" y="770.9" font-size="11.5" text-anchor="middle" textLength="138" lengthAdjust="spacingAndGlyphs">Gray interval: -0.1 to 0.1°F</text>
</g>
</svg></body></html>
